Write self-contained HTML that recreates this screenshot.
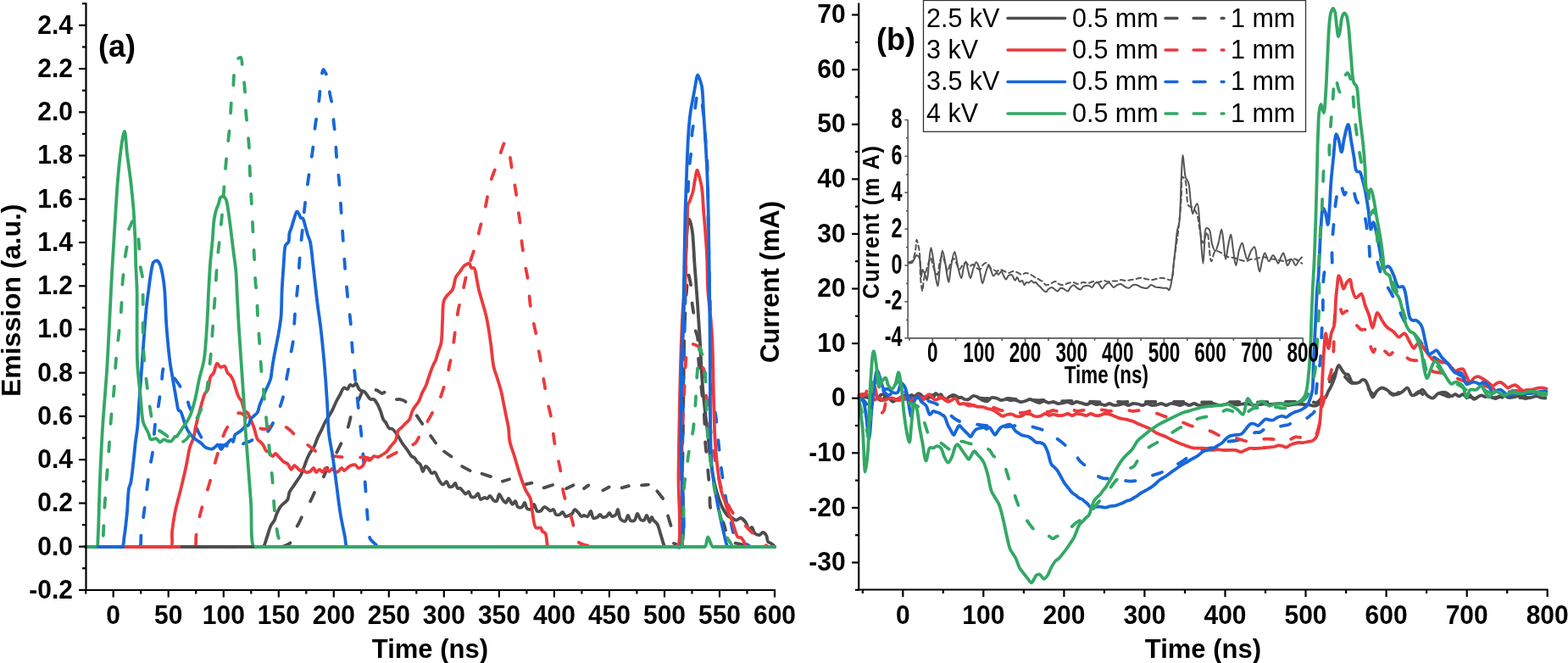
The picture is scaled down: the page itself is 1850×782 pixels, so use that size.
<!DOCTYPE html>
<html><head><meta charset="utf-8"><title>plot</title>
<style>html,body{margin:0;padding:0;background:#fff;overflow:hidden;}svg{display:block;}</style>
</head><body>
<svg width="1850" height="782" viewBox="0 0 1850 782">
<rect width="1850" height="782" fill="#fff"/>
<path d="M508.1,514.1L514.1,522.5M524.0,532.5L532.5,538.5M545.2,550.1L554.6,555.2M568.6,558.7L578.9,562.1M592.9,567.7L601.0,565.3M620.7,571.2L627.5,569.6M641.7,575.4L652.0,572.0M668.2,576.3L676.5,572.2M689.1,576.1L694.3,572.4M711.4,578.4L718.6,574.5M733.7,575.4L741.8,573.1M757.0,572.4L764.9,571.7M775.3,579.3L782.2,588.0M788.1,608.5L791.5,619.9M795.0,641.0L797.0,641.5" fill="none" stroke="#4d4d4d" stroke-width="3.8" stroke-linecap="round"/>
<path d="M101.0,644.8C101.0,644.8 104.4,644.8 106.1,644.8C107.8,644.8 109.5,644.8 111.2,644.8C112.9,644.8 114.6,644.8 116.3,644.8C118.0,644.8 119.7,644.8 121.4,644.8C123.1,644.8 124.8,644.8 126.5,644.8C128.3,644.8 130.0,644.8 131.7,644.8C133.4,644.8 135.1,644.8 136.8,644.8C138.5,644.8 140.2,644.8 141.9,644.8C143.6,644.8 145.3,644.8 147.0,644.8C148.7,644.8 150.4,644.8 152.1,644.8C153.8,644.8 155.5,644.8 157.2,644.8C158.9,644.8 160.6,644.8 162.3,644.8C164.0,644.8 165.7,644.8 167.4,644.8C169.1,644.8 170.8,644.8 172.5,644.8C174.2,644.8 175.9,644.8 177.6,644.8C179.3,644.8 181.1,644.8 182.8,644.8C184.5,644.8 186.2,644.8 187.9,644.8C189.6,644.8 191.3,644.8 193.0,644.8C194.7,644.8 196.4,644.8 198.1,644.8C199.8,644.8 201.5,644.8 203.2,644.8C204.9,644.8 206.6,644.8 208.3,644.8C210.0,644.8 211.7,644.8 213.4,644.8C215.1,644.8 216.8,644.8 218.5,644.8C220.2,644.8 221.9,644.8 223.6,644.8C225.3,644.8 227.0,644.8 228.7,644.8C230.4,644.8 232.2,644.8 233.9,644.8C235.6,644.8 237.3,644.8 239.0,644.8C240.7,644.8 242.4,644.8 244.1,644.8C245.8,644.8 247.5,644.8 249.2,644.8C250.9,644.8 252.6,644.8 254.3,644.8C256.0,644.8 257.7,644.8 259.4,644.8C261.1,644.8 262.8,644.8 264.5,644.8C266.2,644.8 267.9,644.8 269.6,644.8C271.3,644.8 273.0,644.8 274.7,644.8C276.4,644.8 278.1,644.8 279.8,644.8C281.5,644.8 283.2,644.8 285.0,644.8C286.7,644.8 288.4,644.8 290.1,644.8C291.8,644.8 293.5,644.8 295.2,644.8C296.9,644.8 298.6,644.8 300.3,644.8C302.0,644.8 303.7,644.8 305.4,644.8C307.1,644.8 309.1,645.8 310.5,644.8C312.7,643.3 313.6,637.4 315.0,633.5C316.5,629.3 317.7,623.8 319.4,620.2C320.7,617.5 322.7,615.9 323.8,613.6C324.9,611.5 325.1,609.3 326.1,607.0C327.3,604.2 328.8,600.5 330.5,598.1C331.8,596.2 333.4,595.1 334.9,593.6C336.4,592.1 338.3,591.1 339.4,589.2C340.7,586.9 340.4,583.0 341.6,580.4C342.7,577.9 344.5,575.9 346.0,573.7C347.5,571.5 348.9,569.3 350.4,567.1C351.9,564.9 353.5,563.0 354.9,560.4C356.6,557.2 358.0,552.8 359.3,549.3C360.5,546.2 361.4,543.2 362.6,540.5C363.7,538.1 364.7,536.0 366.0,533.8C367.3,531.6 369.1,529.8 370.4,527.2C372.1,524.1 373.2,519.6 374.8,516.1C376.2,512.9 377.9,510.1 379.3,507.2C380.6,504.4 381.6,501.7 383.0,499.0C384.5,496.2 386.5,493.3 388.1,490.7C389.5,488.4 390.7,486.5 392.0,484.0C393.6,480.8 395.4,476.2 397.0,473.0C398.3,470.4 399.6,468.4 401.0,466.0C402.5,463.3 403.9,458.2 405.8,457.5C407.1,457.0 408.8,459.4 410.0,459.0C411.3,458.5 411.7,454.5 413.0,454.0C414.1,453.6 415.8,455.5 416.9,455.2C418.1,454.9 419.1,451.9 420.0,452.0C421.1,452.2 421.9,456.4 423.0,458.0C423.9,459.2 424.7,460.1 425.8,460.8C427.0,461.5 428.6,461.0 430.0,462.0C432.3,463.5 434.6,469.6 436.9,470.8C438.3,471.5 439.7,470.3 441.0,471.0C442.8,471.9 444.4,475.1 445.7,477.4C447.1,479.8 447.9,482.3 449.0,485.0C450.2,488.1 451.1,492.8 452.4,495.1C453.2,496.5 454.1,496.8 455.0,498.0C456.3,499.8 457.4,503.8 459.0,505.0C460.2,505.9 461.7,505.2 463.0,506.0C464.7,507.1 466.2,509.3 467.9,511.6C470.1,514.6 472.3,519.3 474.6,522.7C476.7,525.9 479.3,528.8 481.2,531.6C482.8,533.9 484.0,536.8 485.6,538.2C486.7,539.2 488.0,539.1 489.0,540.0C490.3,541.1 491.1,543.5 492.3,544.9C493.4,546.1 495.0,546.5 496.0,548.0C497.3,549.9 497.8,555.9 498.9,556.0C499.9,556.1 500.7,550.3 502.0,550.0C503.0,549.8 504.5,551.5 505.6,552.7C507.0,554.1 507.9,557.7 509.4,558.2C510.5,558.6 512.0,556.6 513.0,557.0C514.3,557.5 515.1,560.7 516.1,562.6C517.1,564.4 517.8,566.5 519.0,568.0C520.1,569.4 521.4,571.5 522.7,571.5C524.1,571.6 525.8,567.7 527.0,568.0C528.3,568.3 528.6,573.2 530.0,574.0C531.0,574.6 532.7,574.3 533.8,573.7C535.1,573.1 536.0,569.9 537.0,570.0C538.1,570.1 538.7,575.3 540.0,576.0C540.8,576.5 541.8,575.6 542.7,575.9C543.8,576.3 544.9,577.9 546.0,579.0C547.1,580.1 548.1,582.5 549.3,582.6C550.4,582.7 552.0,579.7 553.0,580.0C554.3,580.3 554.6,585.1 556.0,586.0C557.2,586.7 559.1,586.5 560.4,585.9C561.8,585.3 563.0,581.8 564.0,582.0C565.2,582.2 565.5,588.4 567.0,589.0C568.2,589.5 570.1,587.1 571.5,587.0C572.7,586.9 573.9,588.3 575.0,588.0C576.1,587.7 576.9,585.0 578.0,585.0C579.4,585.0 581.0,589.4 582.6,590.3C583.7,591.0 585.1,591.5 586.0,591.0C587.5,590.2 587.7,583.1 589.0,583.0C590.3,582.9 592.1,588.5 593.7,590.3C594.8,591.5 596.0,593.2 597.0,593.0C598.2,592.8 598.9,588.0 600.0,588.0C601.4,588.0 603.2,594.7 604.7,594.8C605.9,594.9 607.0,590.8 608.0,591.0C609.2,591.2 609.4,596.9 611.0,598.0C612.2,598.8 614.5,598.8 615.8,598.1C617.2,597.3 618.0,592.9 619.0,593.0C620.1,593.1 620.4,598.9 622.0,600.0C623.3,600.9 625.6,601.0 626.9,600.3C628.4,599.5 628.9,595.0 630.0,595.0C631.3,595.0 632.3,602.1 634.0,603.0C635.2,603.6 636.8,603.1 638.0,602.5C639.5,601.7 640.6,598.3 642.0,598.0C643.2,597.8 644.8,599.2 646.0,600.0C647.1,600.7 648.0,602.3 649.1,602.5C650.3,602.7 651.9,600.6 653.0,601.0C654.4,601.5 654.6,606.1 656.0,607.0C657.1,607.7 658.8,607.4 660.1,607.0C661.5,606.5 662.9,603.8 664.0,604.0C665.2,604.2 665.7,608.4 667.0,609.0C668.1,609.5 669.9,608.6 671.2,608.1C672.5,607.6 673.9,607.0 675.0,606.0C676.3,604.8 676.8,601.2 678.0,601.0C679.2,600.8 681.0,603.4 682.3,604.7C683.6,606.0 684.7,608.6 686.0,609.0C687.0,609.3 687.9,608.0 689.0,608.0C690.3,608.0 692.2,609.7 693.4,609.2C695.0,608.6 695.9,602.9 697.0,603.0C698.2,603.1 698.4,610.1 700.0,611.0C701.2,611.7 703.2,610.9 704.5,610.3C705.9,609.6 706.9,607.0 708.0,607.0C709.0,607.0 709.8,609.6 711.0,610.0C712.3,610.4 714.2,610.0 715.5,609.2C716.9,608.4 717.9,605.0 719.0,605.0C720.1,605.0 720.7,608.7 722.0,609.0C723.3,609.3 725.5,608.2 726.6,607.0C727.9,605.7 728.2,601.0 729.0,601.0C730.0,601.1 730.1,609.7 732.0,612.0C733.4,613.7 736.2,615.2 737.7,614.7C739.3,614.1 739.9,608.0 741.0,608.0C742.0,608.0 742.5,613.2 744.0,614.0C745.3,614.7 747.5,614.5 748.8,613.6C750.4,612.4 750.8,606.1 752.0,606.0C753.2,605.9 754.4,611.9 756.0,613.0C757.1,613.8 758.8,614.1 759.9,613.6C761.3,612.9 762.0,608.0 763.0,608.0C764.2,608.0 765.4,615.8 766.5,615.8C767.4,615.8 768.2,610.0 769.0,610.0C769.7,610.0 770.1,612.4 771.0,613.6C772.1,615.1 774.1,615.9 775.4,618.0C777.3,621.1 778.4,627.1 779.8,631.3C781.0,635.2 782.3,640.1 783.2,642.4C783.6,643.5 783.5,644.3 784.3,644.8C785.5,645.5 788.5,644.8 790.5,644.8C792.6,644.8 794.7,644.8 796.8,644.8C798.8,644.8 801.3,646.5 803.0,644.8C810.6,637.2 803.3,558.1 803.6,519.7C803.8,487.0 803.8,454.3 804.4,428.7C804.8,409.9 805.7,396.3 806.3,380.0C806.9,363.4 807.2,345.7 807.8,330.0C808.3,315.9 808.9,301.4 809.5,290.0C810.0,281.6 810.2,273.8 811.0,268.0C811.5,264.1 812.2,258.4 813.0,258.4C814.0,258.4 815.6,265.3 816.5,270.7C818.2,280.3 818.5,298.0 819.5,311.6C820.5,325.2 821.6,338.4 822.6,352.5C823.7,367.6 824.7,383.5 825.7,399.5C826.7,416.2 827.3,434.3 828.6,450.8C829.8,466.1 831.7,483.9 833.0,495.1C833.8,502.0 834.5,505.5 835.2,511.8C836.1,520.0 836.7,530.5 838.0,540.0C839.3,549.9 841.0,561.2 843.0,570.0C844.6,577.2 846.6,583.8 848.5,589.2C850.0,593.4 851.1,596.6 853.0,600.0C854.8,603.3 857.4,607.4 859.6,609.2C861.1,610.3 862.5,610.3 864.0,611.0C865.5,611.7 866.9,613.5 868.5,613.6C870.2,613.7 872.2,610.8 874.0,611.0C875.9,611.3 878.0,613.8 879.6,615.8C881.4,618.2 882.5,624.4 884.0,624.7C885.0,624.9 886.1,621.8 887.0,622.0C888.3,622.2 888.9,627.6 890.6,629.1C892.0,630.4 894.4,631.2 896.0,631.0C897.5,630.8 898.7,628.0 900.0,628.0C901.3,628.0 903.0,629.8 904.0,631.3C905.3,633.2 904.9,637.5 906.2,639.1C907.2,640.3 908.9,640.2 910.0,641.0C911.1,641.7 912.1,642.8 912.8,643.5C913.3,644.0 914.0,644.8 914.0,644.8" fill="none" stroke="#4d4d4d" stroke-width="3.8" stroke-linejoin="round" stroke-linecap="round"/>
<path d="M101.0,644.8C101.0,644.8 104.4,644.8 106.0,644.8C107.7,644.8 109.4,644.8 111.1,644.8C112.8,644.8 114.4,644.8 116.1,644.8C117.8,644.8 119.5,644.8 121.2,644.8C122.9,644.8 124.5,644.8 126.2,644.8C127.9,644.8 129.6,644.8 131.3,644.8C132.9,644.8 134.6,644.8 136.3,644.8C138.0,644.8 139.7,644.8 141.3,644.8C143.0,644.8 144.7,644.8 146.4,644.8C148.1,644.8 149.8,644.8 151.4,644.8C153.1,644.8 154.8,644.8 156.5,644.8C158.2,644.8 159.8,644.8 161.5,644.8C163.2,644.8 164.9,644.8 166.6,644.8C168.2,644.8 169.9,644.8 171.6,644.8C173.3,644.8 175.0,644.8 176.7,644.8C178.3,644.8 180.0,644.8 181.7,644.8C183.4,644.8 185.1,644.8 186.7,644.8C188.4,644.8 190.1,644.8 191.8,644.8C193.5,644.8 195.1,644.8 196.8,644.8C198.5,644.8 200.2,644.8 201.9,644.8C203.6,644.8 205.2,644.8 206.9,644.8C208.6,644.8 210.3,644.8 212.0,644.8C213.6,644.8 215.3,644.8 217.0,644.8C218.7,644.8 220.4,644.8 222.0,644.8C223.7,644.8 225.4,644.8 227.1,644.8C228.8,644.8 230.4,644.8 232.1,644.8C233.8,644.8 235.5,644.8 237.2,644.8C238.9,644.8 240.5,644.8 242.2,644.8C243.9,644.8 245.6,644.8 247.3,644.8C248.9,644.8 250.6,644.8 252.3,644.8C254.0,644.8 255.7,644.8 257.3,644.8C259.0,644.8 260.7,644.8 262.4,644.8C264.1,644.8 265.8,644.8 267.4,644.8C269.1,644.8 270.8,644.8 272.5,644.8C274.2,644.8 275.8,644.8 277.5,644.8C279.2,644.8 280.9,644.8 282.6,644.8C284.2,644.8 285.9,644.8 287.6,644.8C289.3,644.8 291.0,644.8 292.7,644.8C294.3,644.8 296.0,644.8 297.7,644.8C299.4,644.8 301.1,644.8 302.7,644.8C304.4,644.8 306.1,644.8 307.8,644.8C309.5,644.8 311.1,644.8 312.8,644.8C314.5,644.8 316.2,644.8 317.9,644.8C319.6,644.8 321.2,644.8 322.9,644.8C324.6,644.8 326.3,644.8 328.0,644.8C329.6,644.8 331.3,645.1 333.0,644.8C334.7,644.5 336.4,643.8 338.0,643.0C339.6,642.2 341.4,641.7 342.7,640.0C344.8,637.3 345.3,630.9 347.1,626.9C348.7,623.3 351.0,620.2 352.7,616.9C354.3,613.9 355.5,610.8 357.0,608.0C358.4,605.3 359.9,603.2 361.5,600.3C363.6,596.5 366.3,590.9 368.2,587.0C369.7,584.0 370.5,581.6 372.0,579.0C373.5,576.4 375.3,574.4 377.0,571.5C379.2,567.8 381.9,562.1 383.7,558.2C385.1,555.2 385.9,552.6 387.0,550.0C388.1,547.5 388.9,545.0 390.3,542.7C391.8,540.3 394.3,538.4 395.9,536.0C397.5,533.5 398.7,530.6 400.0,528.0C401.3,525.5 402.5,523.1 403.6,520.5C404.8,517.8 405.8,514.7 407.0,512.0C408.1,509.5 409.2,507.9 410.3,505.0C411.9,500.7 413.2,493.1 414.7,488.5C415.8,485.2 416.7,482.6 418.0,480.0C419.3,477.5 421.1,475.6 422.5,473.0C424.1,470.0 425.3,466.1 427.0,463.0C428.6,460.2 430.4,456.0 432.4,455.2C433.8,454.6 435.5,455.4 437.0,456.0C438.6,456.6 440.0,458.2 441.5,459.0C443.0,459.8 444.5,460.2 446.0,461.0C447.6,461.8 449.1,463.9 450.6,464.0C452.1,464.1 453.4,462.6 455.0,462.0C456.7,461.3 458.9,459.4 460.6,460.0C463.0,460.9 464.0,469.3 466.4,470.8C468.0,471.8 470.1,470.6 472.0,471.0C474.0,471.4 476.3,471.8 478.0,473.3C480.2,475.3 481.1,481.0 483.0,483.2C484.2,484.6 485.7,485.0 487.0,486.0C488.4,487.1 489.9,488.2 491.3,489.8C493.2,492.0 495.2,495.6 497.1,498.2C498.8,500.6 500.3,502.7 502.0,505.0C503.8,507.3 507.8,512.0 507.8,512.0" fill="none" stroke="#4d4d4d" stroke-width="3.8" stroke-linejoin="round" stroke-linecap="round" stroke-dasharray="11.5 21.5"/>
<path d="M804.0,644.8C804.0,644.8 805.4,545.0 806.0,500.0C806.5,460.8 806.9,410.7 807.5,390.0C807.7,381.8 808.0,378.9 808.3,372.9C808.6,366.4 808.9,358.4 809.3,352.5C809.6,347.9 810.0,344.8 810.3,340.2C810.7,334.3 810.5,320.1 811.2,320.0C811.5,320.0 812.0,322.1 812.4,323.8C813.2,327.0 814.7,333.0 815.4,338.1C816.2,343.8 815.9,350.8 816.5,356.5C817.0,361.6 817.9,365.8 818.5,370.9C819.2,376.7 819.6,384.3 820.6,389.3C821.3,392.8 822.4,394.3 823.0,398.0C824.0,404.3 823.6,416.8 824.1,424.0C824.5,429.1 825.0,432.2 825.5,437.0C826.1,443.0 826.9,450.9 827.5,457.0C828.0,462.1 828.5,466.1 829.0,471.0C829.6,476.4 830.4,482.4 830.8,488.0C831.2,493.4 831.3,498.7 831.5,504.0C831.7,509.3 831.7,514.7 832.0,520.0C832.3,525.3 833.0,530.5 833.5,536.0C834.0,541.8 834.7,548.1 835.2,553.8C835.7,559.1 836.1,563.8 836.5,569.0C836.9,574.5 837.0,580.5 837.4,585.9C837.7,590.8 837.0,596.0 838.5,600.0C839.8,603.5 842.5,606.3 845.0,609.0C847.4,611.6 851.2,613.1 853.0,615.8C854.8,618.4 854.9,621.7 856.0,625.0C857.3,629.0 857.3,635.4 860.0,638.0C862.3,640.3 866.6,640.2 870.0,641.0C873.3,641.8 877.2,642.6 880.0,643.0C881.9,643.3 883.3,643.3 885.0,643.5C886.7,643.6 888.3,643.8 890.0,643.9C891.7,644.1 893.3,644.2 895.0,644.3C896.7,644.5 898.2,644.7 900.0,644.8C902.1,644.9 904.7,644.8 907.0,644.8C909.3,644.8 914.0,644.8 914.0,644.8" fill="none" stroke="#4d4d4d" stroke-width="3.8" stroke-linejoin="round" stroke-linecap="round" stroke-dasharray="11.5 21.5"/>
<path d="M101.0,644.8C101.0,644.8 104.6,644.8 106.3,644.8C108.1,644.8 109.9,644.8 111.7,644.8C113.4,644.8 115.2,644.8 117.0,644.8C118.8,644.8 120.6,644.8 122.3,644.8C124.1,644.8 125.9,644.8 127.7,644.8C129.4,644.8 131.2,644.8 133.0,644.8C134.8,644.8 136.6,644.8 138.3,644.8C140.1,644.8 141.9,644.8 143.7,644.8C145.4,644.8 147.2,644.8 149.0,644.8C150.8,644.8 152.6,644.8 154.3,644.8C156.1,644.8 157.9,644.8 159.7,644.8C161.4,644.8 163.8,645.9 165.0,644.8C167.0,643.0 165.8,635.8 166.5,630.0C167.5,621.7 169.2,610.0 170.5,600.0C171.8,590.0 173.0,579.0 174.2,570.0C175.2,562.7 176.0,556.2 177.0,550.0C177.9,544.6 178.9,541.1 179.8,535.0C181.1,525.8 181.8,509.7 183.1,500.0C184.1,493.0 185.4,487.8 186.4,482.0C187.3,476.5 188.0,471.4 188.7,466.0C189.5,460.3 190.1,454.1 190.9,448.6C191.6,443.6 191.4,436.3 193.1,434.2C193.9,433.2 195.0,432.8 196.0,433.0C197.5,433.3 199.4,435.7 200.8,437.5C202.4,439.6 203.4,442.5 205.0,445.0C206.7,447.7 209.2,450.6 210.8,453.0C212.1,454.8 212.7,456.5 214.0,458.0C215.3,459.5 217.3,459.9 218.6,461.9C220.8,465.3 221.2,473.5 223.0,478.5C224.6,483.0 227.0,486.4 228.5,490.7C230.1,495.2 230.6,501.2 232.0,505.0C233.0,507.7 234.0,509.6 235.2,511.8C236.5,514.0 237.8,516.7 239.6,518.3C241.2,519.7 243.1,520.1 245.0,521.0C247.2,522.0 249.5,523.3 252.0,524.0C254.5,524.7 257.3,524.7 260.0,525.0C262.8,525.3 265.8,525.2 268.4,526.0C270.8,526.7 273.0,529.4 275.1,529.4C276.9,529.4 278.5,527.8 280.0,527.0C281.4,526.3 282.5,525.7 284.0,525.0C285.8,524.1 288.1,522.8 290.0,522.0C291.7,521.3 293.3,521.3 295.0,520.5C297.1,519.5 299.7,517.3 301.7,516.1C303.3,515.2 304.5,514.6 306.0,514.0C307.5,513.5 309.0,513.4 310.5,512.8C312.1,512.1 313.6,511.3 315.0,510.0C316.8,508.3 318.5,505.5 320.0,503.0C321.5,500.5 322.5,497.7 323.8,495.0C325.2,492.1 326.7,489.2 328.0,486.0C329.4,482.5 330.8,478.6 332.0,475.0C333.1,471.6 334.0,468.7 334.9,465.0C335.9,460.5 336.6,455.1 337.5,450.0C338.4,444.7 339.6,439.3 340.5,434.0C341.4,428.7 342.1,423.4 343.0,418.0C343.9,412.4 345.3,406.6 346.0,401.0C346.6,395.6 346.6,390.4 347.0,385.0C347.4,379.4 347.7,373.7 348.2,368.0C348.7,362.1 349.4,355.8 350.0,350.0C350.5,344.5 351.1,340.3 351.6,334.0C352.3,325.2 352.9,312.8 353.8,302.0C354.7,290.8 356.0,279.2 357.1,268.0C358.2,257.2 359.1,246.7 360.4,236.0C361.7,225.3 363.3,214.5 364.8,204.0C366.3,193.8 368.1,183.8 369.3,174.0C370.5,164.6 371.1,154.2 372.2,146.3C373.0,140.4 374.0,136.2 374.8,130.8C375.6,125.1 376.4,118.5 377.0,113.0C377.5,108.2 377.5,104.4 378.1,99.7C378.9,94.2 380.0,82.3 381.5,82.0C382.2,81.9 383.2,84.5 384.0,86.0C385.0,87.8 386.2,89.4 387.0,92.0C388.3,96.4 388.2,104.9 389.2,110.8C390.1,116.2 391.8,120.9 392.5,126.3C393.3,132.0 393.2,138.4 393.7,144.0C394.2,149.1 394.9,153.0 395.4,158.5C396.1,165.8 396.3,175.0 397.0,184.0C397.8,194.1 399.4,205.2 400.3,216.0C401.2,226.9 401.8,238.0 402.5,249.0C403.2,260.0 404.0,271.0 404.7,282.0C405.5,293.0 406.2,304.7 407.0,315.0C407.7,324.1 408.4,332.5 409.2,340.7C409.9,348.1 410.7,355.2 411.5,362.0C412.2,368.3 413.0,373.1 413.6,380.0C414.5,389.3 414.9,402.0 415.8,413.0C416.7,424.0 418.0,435.1 419.1,446.0C420.2,456.8 421.4,467.5 422.5,478.0C423.6,488.2 424.9,499.4 425.8,508.0C426.5,514.5 427.0,519.1 427.5,525.0C428.1,531.4 428.5,537.6 429.1,545.0C429.8,554.4 430.6,566.3 431.3,577.0C432.1,587.9 432.8,600.4 433.6,610.0C434.2,617.5 434.7,625.4 435.5,630.0C435.9,632.5 435.9,633.9 436.9,635.8C438.2,638.1 441.6,640.8 443.5,642.4C444.8,643.5 445.7,644.4 447.0,644.8C448.5,645.3 450.4,644.8 452.0,644.8C453.7,644.8 455.4,644.8 457.1,644.8C458.7,644.8 460.4,644.8 462.1,644.8C463.8,644.8 465.4,644.8 467.1,644.8C468.8,644.8 470.5,644.8 472.1,644.8C473.8,644.8 475.5,644.8 477.2,644.8C478.8,644.8 480.5,644.8 482.2,644.8C483.9,644.8 485.5,644.8 487.2,644.8C488.9,644.8 490.6,644.8 492.3,644.8C493.9,644.8 495.6,644.8 497.3,644.8C499.0,644.8 500.6,644.8 502.3,644.8C504.0,644.8 505.7,644.8 507.3,644.8C509.0,644.8 510.7,644.8 512.4,644.8C514.0,644.8 515.7,644.8 517.4,644.8C519.1,644.8 520.7,644.8 522.4,644.8C524.1,644.8 525.8,644.8 527.5,644.8C529.1,644.8 530.8,644.8 532.5,644.8C534.2,644.8 535.8,644.8 537.5,644.8C539.2,644.8 540.9,644.8 542.5,644.8C544.2,644.8 545.9,644.8 547.6,644.8C549.2,644.8 550.9,644.8 552.6,644.8C554.3,644.8 555.9,644.8 557.6,644.8C559.3,644.8 561.0,644.8 562.6,644.8C564.3,644.8 566.0,644.8 567.7,644.8C569.4,644.8 571.0,644.8 572.7,644.8C574.4,644.8 576.1,644.8 577.7,644.8C579.4,644.8 581.1,644.8 582.8,644.8C584.4,644.8 586.1,644.8 587.8,644.8C589.5,644.8 591.1,644.8 592.8,644.8C594.5,644.8 596.2,644.8 597.8,644.8C599.5,644.8 601.2,644.8 602.9,644.8C604.5,644.8 606.2,644.8 607.9,644.8C609.6,644.8 611.3,644.8 612.9,644.8C614.6,644.8 616.3,644.8 618.0,644.8C619.6,644.8 621.3,644.8 623.0,644.8C624.7,644.8 626.3,644.8 628.0,644.8C629.7,644.8 631.4,644.8 633.0,644.8C634.7,644.8 636.4,644.8 638.1,644.8C639.7,644.8 641.4,644.8 643.1,644.8C644.8,644.8 646.5,644.8 648.1,644.8C649.8,644.8 651.5,644.8 653.2,644.8C654.8,644.8 656.5,644.8 658.2,644.8C659.9,644.8 661.5,644.8 663.2,644.8C664.9,644.8 666.6,644.8 668.2,644.8C669.9,644.8 671.6,644.8 673.3,644.8C674.9,644.8 676.6,644.8 678.3,644.8C680.0,644.8 681.6,644.8 683.3,644.8C685.0,644.8 686.7,644.8 688.4,644.8C690.0,644.8 691.7,644.8 693.4,644.8C695.1,644.8 696.7,644.8 698.4,644.8C700.1,644.8 701.8,644.8 703.4,644.8C705.1,644.8 706.8,644.8 708.5,644.8C710.1,644.8 711.8,644.8 713.5,644.8C715.2,644.8 716.8,644.8 718.5,644.8C720.2,644.8 721.9,644.8 723.5,644.8C725.2,644.8 726.9,644.8 728.6,644.8C730.3,644.8 731.9,644.8 733.6,644.8C735.3,644.8 737.0,644.8 738.6,644.8C740.3,644.8 742.0,644.8 743.7,644.8C745.3,644.8 747.0,644.8 748.7,644.8C750.4,644.8 752.0,644.8 753.7,644.8C755.4,644.8 757.1,644.8 758.7,644.8C760.4,644.8 762.1,644.8 763.8,644.8C765.5,644.8 767.1,644.8 768.8,644.8C770.5,644.8 772.2,644.8 773.8,644.8C775.5,644.8 777.2,644.8 778.9,644.8C780.5,644.8 782.2,644.8 783.9,644.8C785.6,644.8 787.2,644.8 788.9,644.8C790.6,644.8 792.3,644.8 793.9,644.8C795.6,644.8 797.3,644.8 799.0,644.8C800.6,644.8 802.6,646.1 804.0,644.8C809.6,639.3 804.7,588.7 805.0,560.0C805.3,530.4 805.5,498.1 806.0,470.0C806.4,445.2 807.0,423.3 807.5,400.0C808.0,376.7 808.5,353.3 809.0,330.0C809.5,306.7 809.9,280.1 810.5,260.0C810.9,244.8 811.4,232.3 812.0,220.0C812.5,209.6 813.1,198.7 813.9,191.0C814.4,185.8 815.3,182.8 815.7,178.0C816.2,172.1 816.0,163.9 816.5,158.0C816.9,153.2 817.7,149.7 818.3,145.0C819.0,139.3 819.6,131.8 820.4,126.0C821.1,121.1 821.5,115.3 822.6,112.6C823.1,111.3 823.9,109.9 824.5,110.0C825.3,110.1 826.3,112.7 827.0,115.0C828.4,119.4 829.2,127.9 830.0,135.0C830.9,142.9 831.3,151.7 832.0,160.0C832.7,168.3 833.6,176.0 834.1,185.0C834.7,195.7 835.0,208.3 835.2,220.0C835.4,231.7 835.3,241.1 835.5,255.0C835.8,275.3 836.4,305.4 837.0,330.0C837.6,353.7 838.3,377.6 839.0,400.0C839.6,420.8 840.4,446.1 841.0,460.0C841.3,467.4 841.3,471.6 842.0,477.0C842.6,481.9 843.9,486.0 844.6,491.0C845.4,496.8 845.8,503.6 846.4,510.0C847.1,516.6 847.8,523.3 848.5,530.0C849.2,536.7 849.8,542.6 850.7,550.0C851.9,559.2 853.8,571.9 855.2,581.0C856.3,588.1 857.3,594.3 858.5,600.0C859.5,604.8 860.6,608.4 861.8,613.0C863.1,618.3 863.7,625.6 866.0,630.0C867.8,633.4 870.2,635.9 872.9,638.0C875.5,640.0 879.4,641.1 881.8,642.4C883.5,643.3 884.4,644.4 886.0,644.8C887.7,645.2 889.7,644.8 891.6,644.8C893.5,644.8 895.3,644.8 897.2,644.8C899.1,644.8 900.9,644.8 902.8,644.8C904.7,644.8 906.5,644.8 908.4,644.8C910.3,644.8 914.0,644.8 914.0,644.8" fill="none" stroke="#1767d9" stroke-width="3.8" stroke-linejoin="round" stroke-linecap="round" stroke-dasharray="11.5 21.5"/>
<path d="M101.0,644.8C101.0,644.8 104.4,644.8 106.2,644.8C107.9,644.8 109.6,644.8 111.3,644.8C113.0,644.8 114.8,644.8 116.5,644.8C118.2,644.8 119.9,644.8 121.6,644.8C123.4,644.8 125.1,644.8 126.8,644.8C128.5,644.8 130.2,644.8 132.0,644.8C133.7,644.8 135.4,644.8 137.1,644.8C138.8,644.8 140.6,644.8 142.3,644.8C144.0,644.8 145.7,644.8 147.4,644.8C149.2,644.8 150.9,644.8 152.6,644.8C154.3,644.8 156.0,644.8 157.8,644.8C159.5,644.8 161.2,644.8 162.9,644.8C164.6,644.8 166.4,644.8 168.1,644.8C169.8,644.8 171.5,644.8 173.2,644.8C175.0,644.8 176.7,644.8 178.4,644.8C180.1,644.8 181.8,644.8 183.6,644.8C185.3,644.8 187.0,644.8 188.7,644.8C190.4,644.8 192.2,644.8 193.9,644.8C195.6,644.8 197.3,644.8 199.0,644.8C200.8,644.8 202.5,644.8 204.2,644.8C205.9,644.8 207.6,644.8 209.4,644.8C211.1,644.8 212.8,644.8 214.5,644.8C216.2,644.8 218.0,644.8 219.7,644.8C221.4,644.8 223.1,644.8 224.8,644.8C226.6,644.8 228.8,645.9 230.0,644.8C231.9,643.1 230.7,636.3 231.5,631.0C232.6,623.9 234.5,613.4 236.3,606.0C237.7,600.0 239.4,595.4 241.0,590.0C242.7,584.4 244.7,578.3 246.3,573.0C247.7,568.4 248.7,564.7 250.0,560.0C251.6,554.3 253.4,547.0 255.1,541.0C256.7,535.4 258.3,530.2 260.0,525.0C261.6,519.9 263.1,514.4 265.1,510.0C266.8,506.2 268.9,502.9 270.7,500.0C272.2,497.7 273.4,496.0 275.0,494.0C276.7,491.8 278.5,488.2 280.6,487.4C282.3,486.7 284.3,487.1 286.0,488.0C288.2,489.2 290.1,492.9 292.0,495.0C293.7,496.8 295.1,498.5 297.0,500.0C299.0,501.6 301.4,503.0 303.9,504.0C306.6,505.1 310.1,506.6 312.8,506.2C315.4,505.8 317.4,503.1 320.0,502.0C322.6,500.9 325.8,499.5 328.3,499.6C330.4,499.7 332.2,501.1 334.0,502.0C335.9,502.9 337.6,503.8 339.4,505.1C341.3,506.5 343.2,508.2 345.0,510.0C346.9,511.9 348.2,514.2 350.4,516.1C353.1,518.4 357.5,520.6 360.4,522.7C362.9,524.5 364.7,526.2 367.0,528.0C369.5,529.9 371.8,532.2 374.8,533.8C378.1,535.6 382.3,537.5 385.9,538.2C389.0,538.8 392.1,538.1 394.8,538.2C397.2,538.3 399.2,538.6 401.5,538.8C403.7,539.0 405.7,539.3 408.1,539.4C410.8,539.5 414.3,539.4 417.0,539.4C419.4,539.4 421.4,539.4 423.6,539.4C425.8,539.4 427.7,539.2 430.2,539.4C433.4,539.7 438.1,541.4 441.3,541.6C443.8,541.7 445.7,541.2 448.0,541.0C450.2,540.9 452.3,541.2 454.6,540.5C457.4,539.7 460.4,537.6 463.5,536.0C467.0,534.3 471.4,532.1 474.6,530.5C477.1,529.3 478.8,528.4 481.2,527.2C483.9,525.8 487.9,524.7 490.1,522.7C492.0,520.9 492.6,518.2 494.0,516.0C495.5,513.7 497.6,511.5 498.9,509.0C500.2,506.5 500.8,503.4 502.0,501.0C503.1,498.8 504.4,497.2 505.6,495.1C507.0,492.6 508.6,489.6 510.0,487.0C511.4,484.6 512.7,482.4 514.0,480.0C515.4,477.4 517.0,474.9 518.3,472.0C519.7,468.9 520.9,465.4 522.0,462.0C523.1,458.7 524.0,454.9 525.0,452.0C525.8,449.7 526.5,448.4 527.2,446.0C528.2,442.3 529.0,436.9 530.0,432.0C531.1,426.6 532.8,420.7 533.8,415.0C534.8,409.4 535.3,403.6 536.0,398.0C536.7,392.6 537.4,387.5 538.2,382.0C539.1,376.2 539.8,369.7 541.0,364.0C542.1,358.7 543.6,354.3 544.9,349.0C546.3,343.1 547.6,336.1 549.0,330.0C550.3,324.4 551.6,318.9 553.0,314.0C554.3,309.7 555.6,306.3 557.0,302.0C558.7,296.8 561.1,290.5 562.6,285.0C564.0,279.9 564.7,275.1 566.0,270.0C567.3,264.7 569.1,259.3 570.4,254.0C571.7,248.7 572.9,243.4 574.0,238.0C575.1,232.4 575.7,226.5 577.0,221.0C578.3,215.5 580.1,210.2 582.0,205.0C583.8,199.9 586.5,194.8 588.1,190.0C589.5,185.8 590.0,181.8 591.4,178.0C592.7,174.5 594.3,168.2 595.9,168.0C597.0,167.9 598.2,169.9 599.2,172.0C601.3,176.6 602.3,190.0 603.6,197.0C604.5,202.0 605.2,205.2 606.0,210.0C607.0,215.9 608.3,223.8 609.2,230.0C609.9,235.4 610.3,239.8 611.0,245.0C611.8,250.7 612.9,257.1 613.6,263.0C614.3,268.7 614.4,274.5 615.0,280.0C615.5,285.2 616.2,290.0 616.9,295.0C617.6,300.0 618.1,304.8 619.0,310.0C620.0,315.7 621.5,321.1 622.5,328.0C623.9,337.3 624.5,351.8 625.8,361.0C626.8,367.6 627.9,372.4 629.0,378.0C630.1,383.4 631.4,388.7 632.4,394.0C633.4,399.3 634.1,404.7 635.0,410.0C635.9,415.3 637.0,420.4 638.0,426.0C639.0,432.1 640.0,439.0 641.0,445.0C641.9,450.3 642.6,454.8 643.5,460.0C644.5,465.7 645.8,472.4 647.0,478.0C648.1,483.0 649.4,487.4 650.2,492.0C651.0,496.4 651.3,500.3 652.0,505.0C652.8,510.7 653.5,518.0 654.6,524.0C655.6,529.6 656.9,534.8 658.0,540.0C659.1,545.1 660.5,550.0 661.3,555.0C662.1,560.0 662.3,565.0 663.0,570.0C663.7,575.0 664.5,580.2 665.7,585.0C666.9,589.5 668.5,593.3 670.0,598.0C671.8,603.5 674.3,610.6 675.7,616.0C676.8,620.4 676.8,624.1 678.0,628.0C679.3,632.1 680.6,637.6 683.4,640.2C685.9,642.5 690.9,642.6 693.4,643.5C694.9,644.0 695.7,644.6 697.0,644.8C698.5,645.1 700.4,644.8 702.1,644.8C703.9,644.8 705.6,644.8 707.3,644.8C709.0,644.8 710.7,644.8 712.5,644.8C714.2,644.8 715.9,644.8 717.6,644.8C719.3,644.8 721.0,644.8 722.8,644.8C724.5,644.8 726.2,644.8 727.9,644.8C729.6,644.8 731.3,644.8 733.0,644.8C734.8,644.8 736.5,644.8 738.2,644.8C739.9,644.8 741.6,644.8 743.4,644.8C745.1,644.8 746.8,644.8 748.5,644.8C750.2,644.8 751.9,644.8 753.6,644.8C755.4,644.8 757.1,644.8 758.8,644.8C760.5,644.8 762.2,644.8 764.0,644.8C765.7,644.8 767.4,644.8 769.1,644.8C770.8,644.8 772.5,644.8 774.2,644.8C776.0,644.8 777.7,644.8 779.4,644.8C781.1,644.8 782.8,644.8 784.5,644.8C786.3,644.8 788.0,644.8 789.7,644.8C791.4,644.8 793.1,644.8 794.9,644.8C796.6,644.8 798.7,646.1 800.0,644.8C804.0,641.0 801.3,616.6 802.0,600.0C802.8,579.3 803.8,549.8 804.5,530.0C805.0,515.4 805.5,504.3 806.0,492.0C806.5,480.4 807.0,468.5 807.5,458.0C807.9,449.0 808.3,440.0 808.7,433.0C809.0,428.0 809.1,424.0 809.7,420.0C810.2,416.4 811.1,412.7 812.0,410.0C812.7,408.0 813.1,405.6 814.2,405.0C815.2,404.5 816.6,405.5 818.0,406.0C820.0,406.8 823.3,407.3 824.9,409.6C827.4,413.2 826.3,423.1 827.6,428.4C828.6,432.5 830.4,434.9 831.2,439.1C832.3,445.0 831.4,454.2 832.1,460.6C832.7,465.9 834.2,470.1 834.8,475.0C835.5,479.9 835.5,485.0 836.0,490.0C836.5,495.0 837.2,499.6 838.0,505.0C838.9,511.2 839.9,518.0 841.0,525.0C842.2,532.9 843.4,542.0 845.0,550.0C846.5,557.6 848.2,565.3 850.0,572.0C851.6,577.8 853.1,583.5 855.0,588.0C856.5,591.5 858.4,594.2 860.0,597.0C861.4,599.5 862.5,601.7 864.0,604.0C865.6,606.5 867.3,608.9 869.6,611.4C872.3,614.3 876.8,617.5 879.6,620.2C881.7,622.3 883.2,624.1 885.0,626.0C886.8,627.8 888.4,629.3 890.6,631.3C893.4,633.9 897.8,637.7 900.6,640.2C902.7,642.0 903.9,644.0 906.0,644.8C908.3,645.6 914.0,644.8 914.0,644.8" fill="none" stroke="#eb3a3d" stroke-width="3.8" stroke-linejoin="round" stroke-linecap="round" stroke-dasharray="11.5 21.5"/>
<path d="M101.0,644.8C101.0,644.8 104.4,644.8 106.0,644.8C107.7,644.8 109.4,644.8 111.1,644.8C112.8,644.8 114.5,644.8 116.2,644.8C117.8,644.8 119.5,644.8 121.2,644.8C122.9,644.8 124.6,644.8 126.2,644.8C127.9,644.8 129.6,644.8 131.3,644.8C133.0,644.8 134.7,644.8 136.3,644.8C138.0,644.8 139.7,644.8 141.4,644.8C143.1,644.8 144.8,644.8 146.4,644.8C148.1,644.8 149.8,644.8 151.5,644.8C153.2,644.8 154.9,644.8 156.6,644.8C158.2,644.8 159.9,644.8 161.6,644.8C163.3,644.8 165.0,644.8 166.7,644.8C168.3,644.8 170.0,644.8 171.7,644.8C173.4,644.8 175.1,644.8 176.8,644.8C178.4,644.8 180.1,644.8 181.8,644.8C183.5,644.8 185.2,644.8 186.8,644.8C188.5,644.8 190.2,644.8 191.9,644.8C193.6,644.8 195.3,644.8 196.9,644.8C198.6,644.8 200.8,645.9 202.0,644.8C204.2,642.7 202.4,633.2 203.1,626.9C203.8,619.9 204.9,612.4 206.4,604.7C208.1,596.2 210.8,587.2 213.0,578.1C215.3,568.7 217.8,558.3 219.7,549.3C221.4,541.5 222.3,533.2 224.1,527.2C225.4,522.8 227.4,519.9 228.5,516.1C229.6,512.2 229.8,508.4 230.8,504.0C232.0,498.6 233.5,492.5 235.2,486.3C237.1,479.3 239.6,468.4 241.8,464.1C242.9,462.0 244.1,462.0 245.0,460.0C246.6,456.6 246.8,447.7 248.5,444.2C249.5,442.2 250.9,441.9 252.0,440.0C253.6,437.2 254.5,429.0 256.2,428.7C257.3,428.5 258.5,432.5 260.0,433.0C261.5,433.5 263.8,431.3 265.1,432.0C266.8,432.9 267.0,437.8 268.4,439.7C269.4,441.2 270.9,441.7 272.0,443.0C273.2,444.5 274.2,446.4 275.1,448.6C276.2,451.3 276.9,454.8 278.0,458.0C279.1,461.4 280.3,465.8 281.7,468.5C282.7,470.4 284.0,471.1 285.0,473.0C286.4,475.8 286.8,481.7 288.4,484.1C289.4,485.6 291.0,485.7 292.0,487.0C293.2,488.5 294.0,490.6 295.0,492.9C296.4,496.0 298.1,500.0 299.5,504.0C301.1,508.4 302.1,515.5 303.9,518.3C304.8,519.7 306.0,520.0 307.0,521.0C308.2,522.1 309.4,523.3 310.5,524.9C311.8,526.8 312.5,530.3 313.9,531.6C314.8,532.5 316.0,532.2 317.0,533.0C318.5,534.1 320.1,538.1 321.6,538.2C322.8,538.3 323.9,535.0 325.0,535.0C326.1,535.0 327.3,537.2 328.3,538.2C329.3,539.2 330.0,540.0 331.0,541.0C332.2,542.2 333.5,543.9 334.9,544.9C336.3,545.9 338.1,545.9 339.4,547.1C341.1,548.6 342.4,553.8 343.8,553.8C344.9,553.8 345.8,549.2 347.0,549.0C348.0,548.8 349.3,550.6 350.4,551.5C351.6,552.5 352.8,554.7 354.0,555.0C355.0,555.2 356.1,553.6 357.1,553.8C358.4,554.0 359.5,556.6 361.0,557.0C362.5,557.4 364.5,556.8 366.0,556.0C367.5,555.2 368.8,551.9 370.0,552.0C371.2,552.1 371.8,556.8 373.0,557.0C374.1,557.2 375.7,553.8 377.0,553.8C378.3,553.8 379.9,557.2 381.0,557.0C382.2,556.8 382.8,552.2 384.0,552.0C385.2,551.8 386.7,555.9 388.1,556.0C389.4,556.1 390.7,552.9 392.0,553.0C393.4,553.1 394.6,556.7 396.0,557.0C397.0,557.3 398.2,556.6 399.2,556.0C400.5,555.2 401.8,552.0 403.0,552.0C404.1,552.0 404.9,554.9 406.0,555.0C407.3,555.1 408.9,552.5 410.3,551.5C411.6,550.6 412.6,549.6 414.0,549.0C415.5,548.4 417.6,547.7 419.1,548.2C420.6,548.7 421.5,551.8 423.0,552.0C424.5,552.2 426.6,550.7 428.0,549.3C429.8,547.5 430.7,542.2 432.4,541.6C433.5,541.2 434.8,543.2 436.0,543.0C437.7,542.7 439.4,538.7 441.3,538.2C442.8,537.8 444.4,539.3 446.0,539.0C448.0,538.7 450.6,536.6 452.4,535.5C453.8,534.6 454.9,534.1 456.0,533.0C457.4,531.7 458.6,529.6 459.8,528.0C460.9,526.6 461.9,525.3 463.0,524.0C464.1,522.7 465.5,521.8 466.5,520.0C468.0,517.2 468.3,510.5 469.8,508.0C470.7,506.5 471.9,506.1 473.0,505.0C474.1,503.9 475.2,502.7 476.4,501.5C477.6,500.3 478.9,499.1 480.0,498.0C481.1,496.9 482.2,496.3 483.1,494.8C484.5,492.5 485.1,487.8 486.4,485.0C487.5,482.7 488.8,480.8 490.0,479.0C491.0,477.5 492.2,476.5 493.1,475.0C494.2,473.3 495.2,471.0 496.0,469.0C496.8,467.1 497.3,465.1 498.1,463.3C498.9,461.5 500.1,459.7 501.0,458.0C501.8,456.4 502.4,455.2 503.1,453.3C504.1,450.6 505.3,446.4 506.4,443.3C507.3,440.7 508.1,438.3 509.0,436.0C509.8,433.9 510.5,431.9 511.4,430.0C512.2,428.2 513.2,427.0 514.0,425.0C515.1,422.3 515.9,418.4 517.0,415.0C518.1,411.5 519.7,408.7 520.5,404.3C521.7,397.9 521.5,388.2 522.0,380.0C522.6,371.6 521.9,359.9 523.8,354.4C524.8,351.4 526.4,350.1 528.0,348.0C529.7,345.8 532.2,344.6 533.8,341.8C536.0,338.0 536.2,330.1 538.2,326.2C539.6,323.5 541.5,322.1 543.0,320.0C544.5,318.0 545.7,315.4 547.1,314.0C548.1,313.0 548.9,312.5 550.0,312.0C551.1,311.4 552.8,310.3 553.8,310.7C555.0,311.2 554.9,315.2 556.0,316.0C556.9,316.6 558.4,315.5 559.3,316.3C561.2,317.9 561.6,325.2 562.6,329.6C563.5,333.8 564.0,337.8 565.0,342.0C566.1,346.5 567.6,351.1 569.0,356.0C570.5,361.4 572.5,368.0 573.7,373.2C574.7,377.5 575.2,380.5 576.0,385.0C577.0,390.8 578.0,397.8 579.0,405.0C580.2,413.6 580.9,425.4 582.6,433.1C583.8,438.6 585.6,442.3 587.0,447.0C588.5,451.9 590.2,457.1 591.4,461.9C592.5,466.4 593.1,470.5 594.0,475.0C595.0,479.8 596.0,485.0 597.0,490.0C598.0,495.0 599.3,499.9 600.0,505.0C600.7,510.1 600.3,515.2 601.4,520.5C602.6,526.3 605.1,532.0 607.0,538.2C609.1,545.2 611.3,553.5 613.6,560.4C615.7,566.7 617.9,573.1 620.2,578.1C622.0,582.0 624.5,584.3 625.8,588.1C627.3,592.3 627.0,597.3 628.0,602.5C629.1,608.6 629.6,620.2 632.4,622.5C633.9,623.7 636.7,621.7 638.0,622.5C639.2,623.3 639.2,625.8 640.2,626.9C641.1,627.9 642.6,627.8 643.5,629.1C645.1,631.5 645.0,639.8 645.7,642.4C646.0,643.5 645.8,644.3 646.5,644.8C647.4,645.5 649.9,644.8 651.6,644.8C653.3,644.8 655.0,644.8 656.7,644.8C658.4,644.8 660.1,644.8 661.8,644.8C663.5,644.8 665.2,644.8 666.9,644.8C668.6,644.8 670.3,644.8 672.0,644.8C673.7,644.8 675.4,644.8 677.1,644.8C678.8,644.8 680.5,644.8 682.2,644.8C683.9,644.8 685.6,644.8 687.3,644.8C689.0,644.8 690.7,644.8 692.4,644.8C694.1,644.8 695.8,644.8 697.5,644.8C699.2,644.8 700.9,644.8 702.6,644.8C704.3,644.8 706.0,644.8 707.7,644.8C709.4,644.8 711.1,644.8 712.8,644.8C714.5,644.8 716.2,644.8 717.9,644.8C719.6,644.8 721.3,644.8 723.0,644.8C724.7,644.8 726.4,644.8 728.1,644.8C729.8,644.8 731.5,644.8 733.2,644.8C734.9,644.8 736.6,644.8 738.3,644.8C740.0,644.8 741.7,644.8 743.4,644.8C745.1,644.8 746.8,644.8 748.5,644.8C750.2,644.8 751.9,644.8 753.6,644.8C755.3,644.8 757.0,644.8 758.7,644.8C760.4,644.8 762.1,644.8 763.8,644.8C765.5,644.8 767.2,644.8 768.9,644.8C770.6,644.8 772.3,644.8 774.0,644.8C775.7,644.8 777.4,644.8 779.1,644.8C780.8,644.8 782.5,644.8 784.2,644.8C785.9,644.8 787.6,644.8 789.3,644.8C791.0,644.8 792.7,644.8 794.4,644.8C796.1,644.8 798.1,646.2 799.5,644.8C805.1,639.2 800.1,588.7 800.5,560.0C800.9,530.4 801.4,498.1 802.0,470.0C802.6,445.2 803.2,420.1 804.0,400.0C804.6,384.8 805.1,370.7 806.0,360.0C806.6,352.7 807.8,347.7 808.2,341.8C808.6,336.1 808.4,331.6 808.6,325.1C808.9,315.9 809.3,303.0 809.7,291.9C810.1,280.8 810.4,268.1 810.8,258.7C811.1,251.8 810.7,243.9 811.7,240.9C812.1,239.7 812.6,239.7 813.1,238.7C814.1,236.8 815.7,231.7 816.4,229.8C816.7,228.9 816.9,228.8 817.2,227.8C818.0,225.1 819.0,216.8 820.0,212.0C820.8,207.9 821.7,200.7 822.6,200.7C823.4,200.7 824.2,205.2 825.0,208.0C826.0,211.8 827.2,216.0 828.0,221.3C829.2,228.9 829.5,241.0 830.2,249.6C830.8,256.9 831.3,262.2 831.9,269.7C832.6,279.4 833.6,291.5 834.1,303.0C834.7,315.4 834.4,329.9 835.2,341.8C835.8,352.0 837.2,360.6 838.0,370.0C838.8,379.3 839.6,386.5 840.2,398.0C841.2,416.4 841.4,447.9 842.0,469.6C842.5,487.8 842.8,505.2 843.7,519.7C844.4,530.9 845.1,539.5 846.3,549.3C847.5,559.0 848.8,570.4 850.7,578.1C852.0,583.4 853.7,587.0 855.2,591.4C856.7,595.8 858.1,601.0 859.6,604.7C860.7,607.5 862.0,609.3 863.0,612.0C864.2,615.1 865.0,619.0 866.3,622.5C867.6,626.1 868.8,632.0 870.7,633.5C871.7,634.3 873.0,633.4 874.0,634.0C875.3,634.7 876.4,636.5 877.3,638.0C878.3,639.6 878.8,642.3 879.6,643.5C880.1,644.2 880.3,644.5 881.0,644.8C882.2,645.3 884.7,644.8 886.5,644.8C888.3,644.8 890.2,644.8 892.0,644.8C893.8,644.8 895.7,644.8 897.5,644.8C899.3,644.8 901.2,644.8 903.0,644.8C904.8,644.8 906.7,644.8 908.5,644.8C910.3,644.8 914.0,644.8 914.0,644.8" fill="none" stroke="#eb3a3d" stroke-width="3.8" stroke-linejoin="round" stroke-linecap="round"/>
<path d="M101.0,644.8C101.0,644.8 104.6,644.8 106.4,644.8C108.2,644.8 110.0,644.8 111.8,644.8C113.6,644.8 115.4,644.8 117.2,644.8C119.0,644.8 120.8,644.8 122.7,644.8C124.5,644.8 126.3,644.8 128.1,644.8C129.9,644.8 131.7,644.8 133.5,644.8C135.3,644.8 137.1,644.8 138.9,644.8C140.7,644.8 143.0,645.9 144.3,644.8C146.2,643.3 145.8,638.1 146.5,633.5C147.7,626.1 149.0,614.3 149.9,604.7C150.8,595.1 150.9,582.1 152.1,575.9C152.7,572.9 153.6,572.3 154.3,569.3C155.6,563.4 156.6,551.2 157.6,542.7C158.5,534.8 159.2,526.8 160.0,520.0C160.7,514.5 161.5,510.9 162.1,505.0C163.0,496.3 163.5,484.5 164.3,473.0C165.3,459.4 166.5,443.5 167.6,428.7C168.7,413.9 169.9,396.9 170.9,384.3C171.6,375.0 172.2,367.5 173.0,360.0C173.7,353.5 174.6,347.7 175.4,341.8C176.1,336.1 176.7,330.5 177.6,325.1C178.5,319.8 179.4,312.0 180.9,309.6C181.5,308.6 182.2,308.4 183.0,308.0C183.7,307.7 184.5,307.1 185.3,307.4C186.5,307.8 187.7,309.8 188.7,311.8C190.2,314.9 191.1,320.4 192.0,325.1C193.0,330.3 193.6,334.9 194.2,341.8C195.2,352.7 195.3,370.0 196.4,384.3C197.5,399.0 199.3,417.6 200.8,428.7C201.7,435.5 202.6,439.5 203.5,445.0C204.4,450.6 205.5,456.7 206.4,461.9C207.2,466.3 207.7,470.2 208.5,474.0C209.2,477.5 209.5,482.6 210.8,484.1C211.4,484.8 212.4,484.4 213.0,485.0C214.0,486.0 214.4,488.4 215.2,490.7C216.5,494.2 218.0,500.3 219.7,504.0C221.0,507.0 222.7,509.6 224.1,511.6C225.1,513.0 225.9,513.9 227.0,515.0C228.1,516.2 229.3,517.2 230.8,518.3C232.7,519.7 235.5,521.1 237.4,522.7C239.1,524.1 240.2,526.1 241.8,527.2C243.1,528.1 244.5,528.6 246.0,529.0C247.5,529.4 249.3,529.8 250.7,529.4C252.0,529.0 252.9,527.7 254.0,527.0C255.1,526.3 256.3,524.8 257.4,525.0C258.7,525.3 259.8,530.0 261.0,530.0C262.0,530.0 262.8,527.2 264.0,526.0C265.3,524.7 267.0,523.9 268.4,522.7C269.9,521.4 271.7,518.2 272.9,518.3C273.8,518.4 274.4,521.1 275.0,521.0C276.0,520.8 276.1,514.4 277.3,512.8C278.0,511.8 279.0,511.7 280.0,511.0C281.2,510.2 282.8,509.2 283.9,508.3C284.8,507.6 285.4,507.0 286.2,506.2C287.3,505.1 288.7,502.6 290.0,502.0C290.9,501.6 292.0,502.4 292.8,501.8C294.2,500.8 294.7,495.9 296.0,494.0C297.0,492.5 298.3,491.9 299.5,490.7C300.9,489.3 302.8,488.1 303.9,486.3C305.1,484.3 305.2,481.3 306.0,479.0C306.7,476.9 307.5,474.9 308.3,473.0C309.0,471.2 309.8,469.8 310.5,468.0C311.3,466.1 311.9,464.0 312.8,461.9C313.7,459.7 315.0,457.4 316.0,455.0C317.2,452.3 318.6,449.5 319.4,446.4C320.3,442.9 320.4,438.7 321.0,435.0C321.5,431.3 322.0,428.2 322.7,424.2C323.6,419.0 325.1,411.7 326.1,406.5C326.9,402.4 327.6,399.0 328.3,395.4C328.9,391.9 329.5,388.6 330.0,385.0C330.6,381.2 331.2,378.1 331.6,373.2C332.3,365.3 332.2,351.9 332.7,341.8C333.2,332.2 333.8,323.0 334.5,314.0C335.2,305.6 335.4,293.0 336.7,289.7C337.1,288.7 337.5,288.6 338.0,288.0C338.7,287.2 339.9,286.6 340.5,285.2C341.5,283.0 340.8,278.0 341.5,275.0C342.0,272.6 343.0,271.0 343.8,268.6C344.8,265.5 345.8,261.3 347.0,258.0C348.1,254.9 349.2,249.4 350.4,249.3C351.2,249.2 352.2,251.7 353.0,253.0C353.8,254.3 354.1,256.3 355.0,257.0C355.6,257.5 356.5,256.9 357.1,257.5C358.5,258.8 359.4,264.2 360.4,267.5C361.4,270.7 362.0,274.0 363.0,277.0C363.9,279.9 365.1,281.6 366.0,285.2C367.5,291.5 368.2,302.7 369.3,311.8C370.4,321.5 371.6,332.8 372.6,341.8C373.4,349.2 374.1,355.1 375.0,362.0C375.9,369.3 377.1,375.6 378.1,384.3C379.6,396.6 381.3,413.9 382.6,428.7C383.9,443.5 385.0,458.7 385.9,473.0C386.8,486.4 386.8,500.1 388.1,511.8C389.2,521.5 391.1,528.9 392.5,538.2C394.1,548.6 395.5,560.4 397.0,571.5C398.5,582.6 399.7,594.1 401.4,604.7C403.0,614.7 405.6,626.1 407.0,633.5C407.9,638.1 407.4,643.3 409.2,644.8C410.4,645.8 412.6,644.8 414.2,644.8C415.9,644.8 417.6,644.8 419.3,644.8C421.0,644.8 422.7,644.8 424.3,644.8C426.0,644.8 427.7,644.8 429.4,644.8C431.1,644.8 432.7,644.8 434.4,644.8C436.1,644.8 437.8,644.8 439.5,644.8C441.2,644.8 442.8,644.8 444.5,644.8C446.2,644.8 447.9,644.8 449.6,644.8C451.3,644.8 452.9,644.8 454.6,644.8C456.3,644.8 458.0,644.8 459.7,644.8C461.3,644.8 463.0,644.8 464.7,644.8C466.4,644.8 468.1,644.8 469.8,644.8C471.4,644.8 473.1,644.8 474.8,644.8C476.5,644.8 478.2,644.8 479.8,644.8C481.5,644.8 483.2,644.8 484.9,644.8C486.6,644.8 488.3,644.8 489.9,644.8C491.6,644.8 493.3,644.8 495.0,644.8C496.7,644.8 498.3,644.8 500.0,644.8C501.7,644.8 503.4,644.8 505.1,644.8C506.8,644.8 508.4,644.8 510.1,644.8C511.8,644.8 513.5,644.8 515.2,644.8C516.9,644.8 518.5,644.8 520.2,644.8C521.9,644.8 523.6,644.8 525.3,644.8C526.9,644.8 528.6,644.8 530.3,644.8C532.0,644.8 533.7,644.8 535.4,644.8C537.0,644.8 538.7,644.8 540.4,644.8C542.1,644.8 543.8,644.8 545.4,644.8C547.1,644.8 548.8,644.8 550.5,644.8C552.2,644.8 553.9,644.8 555.5,644.8C557.2,644.8 558.9,644.8 560.6,644.8C562.3,644.8 563.9,644.8 565.6,644.8C567.3,644.8 569.0,644.8 570.7,644.8C572.4,644.8 574.0,644.8 575.7,644.8C577.4,644.8 579.1,644.8 580.8,644.8C582.5,644.8 584.1,644.8 585.8,644.8C587.5,644.8 589.2,644.8 590.9,644.8C592.5,644.8 594.2,644.8 595.9,644.8C597.6,644.8 599.3,644.8 601.0,644.8C602.6,644.8 604.3,644.8 606.0,644.8C607.7,644.8 609.4,644.8 611.0,644.8C612.7,644.8 614.4,644.8 616.1,644.8C617.8,644.8 619.5,644.8 621.1,644.8C622.8,644.8 624.5,644.8 626.2,644.8C627.9,644.8 629.5,644.8 631.2,644.8C632.9,644.8 634.6,644.8 636.3,644.8C638.0,644.8 639.6,644.8 641.3,644.8C643.0,644.8 644.7,644.8 646.4,644.8C648.1,644.8 649.7,644.8 651.4,644.8C653.1,644.8 654.8,644.8 656.5,644.8C658.1,644.8 659.8,644.8 661.5,644.8C663.2,644.8 664.9,644.8 666.6,644.8C668.2,644.8 669.9,644.8 671.6,644.8C673.3,644.8 675.0,644.8 676.6,644.8C678.3,644.8 680.0,644.8 681.7,644.8C683.4,644.8 685.1,644.8 686.7,644.8C688.4,644.8 690.1,644.8 691.8,644.8C693.5,644.8 695.1,644.8 696.8,644.8C698.5,644.8 700.2,644.8 701.9,644.8C703.6,644.8 705.2,644.8 706.9,644.8C708.6,644.8 710.3,644.8 712.0,644.8C713.7,644.8 715.3,644.8 717.0,644.8C718.7,644.8 720.4,644.8 722.1,644.8C723.7,644.8 725.4,644.8 727.1,644.8C728.8,644.8 730.5,644.8 732.2,644.8C733.8,644.8 735.5,644.8 737.2,644.8C738.9,644.8 740.6,644.8 742.2,644.8C743.9,644.8 745.6,644.8 747.3,644.8C749.0,644.8 750.7,644.8 752.3,644.8C754.0,644.8 755.7,644.8 757.4,644.8C759.1,644.8 760.7,644.8 762.4,644.8C764.1,644.8 765.8,644.8 767.5,644.8C769.2,644.8 770.8,644.8 772.5,644.8C774.2,644.8 775.9,644.8 777.6,644.8C779.3,644.8 780.9,644.8 782.6,644.8C784.3,644.8 786.0,644.8 787.7,644.8C789.3,644.8 791.0,644.8 792.7,644.8C794.4,644.8 796.1,644.8 797.8,644.8C799.4,644.8 801.4,646.2 802.8,644.8C809.8,637.8 803.1,558.1 803.4,519.7C803.6,487.0 803.6,454.3 804.2,428.7C804.6,409.9 805.5,400.2 806.1,380.0C807.0,347.0 807.5,284.9 808.5,249.6C809.2,225.5 809.9,206.8 810.7,188.7C811.4,174.2 811.9,160.4 812.8,149.6C813.4,141.9 814.0,136.3 815.0,130.0C815.9,124.0 817.3,117.9 818.3,112.6C819.1,108.1 819.7,104.1 820.5,100.0C821.3,96.0 822.0,88.4 823.0,88.3C823.6,88.2 824.3,90.4 825.0,92.0C826.0,94.4 827.2,97.5 828.0,101.7C829.4,109.3 829.5,123.4 830.2,134.3C830.9,145.2 831.7,155.3 832.4,167.0C833.2,180.4 834.0,196.3 834.6,210.4C835.1,223.8 835.3,232.7 835.7,249.6C836.3,280.4 837.1,335.8 837.5,380.0C838.0,425.8 837.7,490.3 838.4,519.7C838.7,533.2 838.8,539.3 839.7,549.3C840.6,559.6 842.4,570.3 844.1,580.4C845.7,590.2 847.8,600.5 849.6,609.2C851.1,616.5 852.7,623.1 854.1,629.1C855.3,634.0 856.3,639.8 857.4,642.4C857.9,643.6 858.2,644.3 859.0,644.8C860.1,645.4 862.3,644.8 864.0,644.8C865.7,644.8 867.3,644.8 869.0,644.8C870.7,644.8 872.3,644.8 874.0,644.8C875.7,644.8 877.3,644.8 879.0,644.8C880.7,644.8 882.3,644.8 884.0,644.8C885.7,644.8 887.3,644.8 889.0,644.8C890.7,644.8 892.3,644.8 894.0,644.8C895.7,644.8 897.3,644.8 899.0,644.8C900.7,644.8 902.3,644.8 904.0,644.8C905.7,644.8 907.3,644.8 909.0,644.8C910.7,644.8 914.0,644.8 914.0,644.8" fill="none" stroke="#1767d9" stroke-width="3.8" stroke-linejoin="round" stroke-linecap="round"/>
<path d="M101.0,644.8C101.0,644.8 105.3,644.8 107.5,644.8C109.7,644.8 111.8,644.8 114.0,644.8C116.2,644.8 119.1,646.0 120.5,644.8C122.3,643.2 121.3,638.3 121.7,633.5C122.3,625.3 122.6,611.7 123.3,600.0C124.1,587.3 125.2,572.8 126.2,560.0C127.1,548.2 128.0,537.2 128.8,526.0C129.6,515.2 130.1,504.7 131.0,494.0C131.9,483.1 133.5,472.0 134.4,461.0C135.3,450.0 135.7,438.9 136.6,428.0C137.5,417.2 138.8,406.8 139.9,396.0C141.0,384.8 142.5,372.4 143.2,362.0C143.8,353.1 143.7,346.2 144.3,337.3C145.1,326.8 146.5,311.8 147.7,303.0C148.4,297.5 149.3,294.5 149.9,289.7C150.6,284.2 150.3,276.3 151.4,272.0C152.1,269.4 153.1,267.9 154.0,266.0C154.8,264.2 155.6,261.1 156.5,260.9C157.0,260.8 157.5,261.3 158.0,262.0C159.1,263.6 160.1,268.8 161.0,272.0C161.8,275.0 162.7,277.5 163.2,280.8C163.9,284.8 164.0,289.3 164.3,294.1C164.7,299.8 164.7,307.0 165.4,313.0C166.1,318.4 167.7,322.8 168.3,328.5C169.0,335.5 168.6,343.4 168.7,352.0C168.8,362.5 168.5,375.5 168.7,387.0C168.9,398.2 169.1,409.1 169.8,420.0C170.5,430.8 171.8,441.3 173.1,452.0C174.4,462.9 175.9,475.4 177.6,485.0C178.9,492.5 179.2,501.5 182.0,505.0C183.6,507.0 185.9,506.8 188.0,508.0C190.4,509.4 193.2,511.2 195.3,512.8C197.1,514.2 198.6,515.6 200.0,517.0C201.2,518.2 201.7,519.8 203.0,520.5C204.3,521.2 206.3,520.8 208.0,521.0C209.9,521.2 212.2,522.0 214.1,521.6C216.2,521.1 218.3,519.7 220.0,518.0C222.0,516.0 223.5,513.0 225.0,510.0C226.8,506.6 228.0,502.2 229.7,498.5C231.3,494.9 233.3,491.8 235.0,488.0C237.0,483.7 239.2,478.7 240.7,474.0C242.2,469.4 243.1,465.0 244.0,460.0C245.0,454.4 245.6,447.9 246.3,442.0C247.0,436.3 247.5,430.7 248.0,425.0C248.6,419.1 249.1,413.9 249.6,407.0C250.3,397.9 251.1,385.5 251.8,375.0C252.5,364.8 253.3,355.4 254.0,345.0C254.8,333.8 255.2,321.5 256.2,310.0C257.1,298.8 258.5,288.1 259.6,277.0C260.7,265.8 262.0,254.3 262.9,243.0C263.8,231.9 264.2,220.9 265.1,210.0C265.9,199.2 267.0,188.0 268.0,178.0C268.9,169.1 270.0,160.2 270.7,153.0C271.2,147.5 271.4,143.6 271.8,138.5C272.2,132.9 272.3,126.5 272.9,120.8C273.4,115.5 274.5,110.7 275.0,105.3C275.6,99.3 275.6,92.3 276.2,86.4C276.8,81.3 277.1,74.9 278.4,72.0C279.1,70.5 280.0,69.7 281.0,69.0C281.9,68.3 283.2,67.2 284.0,67.6C285.7,68.5 285.5,76.9 286.2,82.0C287.0,87.8 287.8,94.9 288.4,100.8C288.9,105.9 289.2,110.1 289.5,115.2C289.8,120.8 289.8,127.4 290.2,133.0C290.6,138.1 291.2,142.3 291.7,147.4C292.3,153.2 292.9,161.1 293.3,166.2C293.6,169.7 293.8,171.2 294.0,175.0C294.4,182.2 294.5,195.4 295.0,206.0C295.5,217.1 296.2,228.8 296.8,240.0C297.4,250.8 297.9,261.3 298.4,272.0C299.0,282.9 299.5,294.2 300.1,305.0C300.6,315.5 301.0,329.4 301.7,336.0C302.0,339.2 302.5,339.9 302.8,343.0C303.4,349.1 303.4,360.6 303.9,370.0C304.5,380.5 305.4,392.0 306.1,403.0C306.8,414.0 307.4,425.1 308.3,436.0C309.2,446.8 310.6,457.1 311.7,468.0C312.8,479.4 313.9,491.6 315.0,503.0C316.1,513.9 317.2,524.3 318.3,535.0C319.4,545.9 320.7,557.0 321.6,568.0C322.5,579.0 322.9,591.5 323.8,601.0C324.5,608.2 325.2,614.3 326.0,620.0C326.7,624.8 327.1,629.1 328.3,633.0C329.4,636.5 330.3,640.8 332.7,642.4C335.1,643.9 340.6,641.5 342.7,642.4C343.9,642.9 344.0,644.4 345.0,644.8C346.3,645.3 348.4,644.8 350.0,644.8C351.7,644.8 353.4,644.8 355.1,644.8C356.8,644.8 358.5,644.8 360.1,644.8C361.8,644.8 363.5,644.8 365.2,644.8C366.9,644.8 368.5,644.8 370.2,644.8C371.9,644.8 373.6,644.8 375.3,644.8C376.9,644.8 378.6,644.8 380.3,644.8C382.0,644.8 383.7,644.8 385.4,644.8C387.0,644.8 388.7,644.8 390.4,644.8C392.1,644.8 393.8,644.8 395.4,644.8C397.1,644.8 398.8,644.8 400.5,644.8C402.2,644.8 403.8,644.8 405.5,644.8C407.2,644.8 408.9,644.8 410.6,644.8C412.3,644.8 413.9,644.8 415.6,644.8C417.3,644.8 419.0,644.8 420.7,644.8C422.3,644.8 424.0,644.8 425.7,644.8C427.4,644.8 429.1,644.8 430.7,644.8C432.4,644.8 434.1,644.8 435.8,644.8C437.5,644.8 439.2,644.8 440.8,644.8C442.5,644.8 444.2,644.8 445.9,644.8C447.6,644.8 449.2,644.8 450.9,644.8C452.6,644.8 454.3,644.8 456.0,644.8C457.6,644.8 459.3,644.8 461.0,644.8C462.7,644.8 464.4,644.8 466.1,644.8C467.7,644.8 469.4,644.8 471.1,644.8C472.8,644.8 474.5,644.8 476.1,644.8C477.8,644.8 479.5,644.8 481.2,644.8C482.9,644.8 484.5,644.8 486.2,644.8C487.9,644.8 489.6,644.8 491.3,644.8C493.0,644.8 494.6,644.8 496.3,644.8C498.0,644.8 499.7,644.8 501.4,644.8C503.0,644.8 504.7,644.8 506.4,644.8C508.1,644.8 509.8,644.8 511.5,644.8C513.1,644.8 514.8,644.8 516.5,644.8C518.2,644.8 519.9,644.8 521.5,644.8C523.2,644.8 524.9,644.8 526.6,644.8C528.3,644.8 529.9,644.8 531.6,644.8C533.3,644.8 535.0,644.8 536.7,644.8C538.4,644.8 540.0,644.8 541.7,644.8C543.4,644.8 545.1,644.8 546.8,644.8C548.4,644.8 550.1,644.8 551.8,644.8C553.5,644.8 555.2,644.8 556.8,644.8C558.5,644.8 560.2,644.8 561.9,644.8C563.6,644.8 565.3,644.8 566.9,644.8C568.6,644.8 570.3,644.8 572.0,644.8C573.7,644.8 575.3,644.8 577.0,644.8C578.7,644.8 580.4,644.8 582.1,644.8C583.7,644.8 585.4,644.8 587.1,644.8C588.8,644.8 590.5,644.8 592.2,644.8C593.8,644.8 595.5,644.8 597.2,644.8C598.9,644.8 600.6,644.8 602.2,644.8C603.9,644.8 605.6,644.8 607.3,644.8C609.0,644.8 610.6,644.8 612.3,644.8C614.0,644.8 615.7,644.8 617.4,644.8C619.1,644.8 620.7,644.8 622.4,644.8C624.1,644.8 625.8,644.8 627.5,644.8C629.1,644.8 630.8,644.8 632.5,644.8C634.2,644.8 635.9,644.8 637.5,644.8C639.2,644.8 640.9,644.8 642.6,644.8C644.3,644.8 646.0,644.8 647.6,644.8C649.3,644.8 651.0,644.8 652.7,644.8C654.4,644.8 656.0,644.8 657.7,644.8C659.4,644.8 661.1,644.8 662.8,644.8C664.5,644.8 666.1,644.8 667.8,644.8C669.5,644.8 671.2,644.8 672.9,644.8C674.5,644.8 676.2,644.8 677.9,644.8C679.6,644.8 681.3,644.8 682.9,644.8C684.6,644.8 686.3,644.8 688.0,644.8C689.7,644.8 691.4,644.8 693.0,644.8C694.7,644.8 696.4,644.8 698.1,644.8C699.8,644.8 701.4,644.8 703.1,644.8C704.8,644.8 706.5,644.8 708.2,644.8C709.8,644.8 711.5,644.8 713.2,644.8C714.9,644.8 716.6,644.8 718.3,644.8C719.9,644.8 721.6,644.8 723.3,644.8C725.0,644.8 726.7,644.8 728.3,644.8C730.0,644.8 731.7,644.8 733.4,644.8C735.1,644.8 736.7,644.8 738.4,644.8C740.1,644.8 741.8,644.8 743.5,644.8C745.2,644.8 746.8,644.8 748.5,644.8C750.2,644.8 751.9,644.8 753.6,644.8C755.2,644.8 756.9,644.8 758.6,644.8C760.3,644.8 762.0,644.8 763.6,644.8C765.3,644.8 767.0,644.8 768.7,644.8C770.4,644.8 772.1,644.8 773.7,644.8C775.4,644.8 777.1,644.8 778.8,644.8C780.5,644.8 782.1,644.8 783.8,644.8C785.5,644.8 787.2,644.8 788.9,644.8C790.5,644.8 792.2,644.8 793.9,644.8C795.6,644.8 797.3,644.8 799.0,644.8C800.6,644.8 802.9,645.7 804.0,644.8C805.5,643.5 804.9,639.9 805.3,636.0C806.0,628.5 806.0,613.9 806.4,603.0C806.8,592.3 806.7,579.8 807.5,571.0C808.1,564.7 809.3,560.4 810.0,555.0C810.8,549.4 811.2,543.7 812.0,538.0C812.8,532.1 814.0,525.3 815.0,520.0C815.8,515.9 816.8,513.2 817.5,509.0C818.4,503.5 818.9,496.3 819.5,490.0C820.0,483.9 820.4,478.6 820.8,472.0C821.3,464.1 821.7,453.0 822.2,446.0C822.5,441.2 822.8,438.5 823.1,434.0C823.5,428.4 823.7,419.3 824.5,415.0C824.9,412.8 825.5,410.0 826.0,410.0C826.6,410.0 827.2,414.7 828.0,417.0C828.9,419.4 830.5,421.1 831.2,424.0C832.2,428.2 831.7,434.6 832.0,440.0C832.3,445.6 832.8,451.3 833.0,457.0C833.3,462.9 833.3,469.4 833.5,475.0C833.6,480.0 833.7,484.0 833.9,489.0C834.1,494.6 834.2,501.5 834.5,507.0C834.8,511.7 835.2,514.9 835.7,520.0C836.4,527.2 837.5,537.0 838.6,546.0C839.9,555.9 841.2,566.8 843.0,577.0C844.8,587.1 847.5,598.7 849.6,607.0C851.1,612.9 852.6,617.4 854.0,622.0C855.2,626.0 856.0,629.8 857.4,633.0C858.6,635.7 860.4,638.1 861.8,640.2C862.9,641.9 863.5,644.0 865.0,644.8C866.4,645.6 868.6,644.8 870.4,644.8C872.3,644.8 874.1,644.8 875.9,644.8C877.7,644.8 879.5,644.8 881.3,644.8C883.1,644.8 885.0,644.8 886.8,644.8C888.6,644.8 890.4,644.8 892.2,644.8C894.0,644.8 895.9,644.8 897.7,644.8C899.5,644.8 901.3,644.8 903.1,644.8C904.9,644.8 906.7,644.8 908.6,644.8C910.4,644.8 914.0,644.8 914.0,644.8" fill="none" stroke="#33a865" stroke-width="3.8" stroke-linejoin="round" stroke-linecap="round" stroke-dasharray="11.5 21.5"/>
<path d="M101.0,644.8C101.0,644.8 105.5,644.8 107.7,644.8C109.9,644.8 113.1,646.0 114.4,644.8C116.0,643.4 115.2,640.2 115.5,635.8C116.4,624.1 116.8,593.1 117.7,571.5C118.6,549.5 119.8,524.4 121.0,505.0C121.9,490.0 123.0,478.0 124.0,465.0C124.9,452.6 125.7,443.4 126.6,428.7C128.0,406.0 129.8,365.0 131.0,341.8C131.8,326.3 132.4,316.4 133.2,303.0C134.0,288.7 135.0,273.5 135.9,258.7C136.8,243.9 137.7,228.0 138.8,214.3C139.8,202.4 141.0,190.3 142.1,181.1C142.9,174.5 143.5,168.8 144.5,164.0C145.2,160.5 146.3,154.9 147.0,155.0C148.2,155.1 148.8,171.8 149.9,181.0C151.2,191.4 153.0,203.2 154.3,214.3C155.6,225.4 156.7,236.5 157.6,247.6C158.4,258.7 158.9,269.7 159.4,280.8C159.8,291.9 159.9,303.4 160.3,314.0C160.7,323.7 161.3,330.0 161.6,341.8C162.1,362.7 161.0,406.1 162.1,428.7C162.8,443.1 164.3,452.5 165.4,464.1C166.5,475.3 167.2,490.5 168.7,497.0C169.4,499.9 170.0,500.8 171.0,503.0C172.2,505.6 174.3,508.9 175.4,511.6C176.3,513.9 176.4,517.1 177.5,518.0C178.1,518.5 178.9,518.4 179.8,518.3C181.0,518.2 182.8,516.8 184.2,517.2C185.8,517.6 187.2,521.5 188.7,521.6C190.1,521.7 191.6,518.5 193.1,518.3C194.4,518.1 195.6,519.6 197.0,520.0C198.5,520.4 200.5,521.1 202.0,520.5C203.7,519.8 205.2,515.6 206.4,515.0C207.0,514.7 207.5,515.3 208.0,515.0C208.9,514.6 209.8,512.9 210.8,511.6C212.1,509.8 214.0,506.8 215.2,505.0C216.1,503.7 216.6,503.2 217.5,501.8C219.2,499.2 222.2,495.0 224.1,490.7C226.4,485.6 228.0,479.5 229.7,473.0C231.8,465.1 233.3,454.8 235.2,446.4C237.0,438.6 239.3,432.7 240.7,424.2C242.6,412.9 243.2,398.0 244.1,384.3C245.1,369.9 245.6,353.1 246.3,340.0C246.9,329.5 247.3,321.2 248.0,311.8C248.7,302.2 249.9,292.1 250.7,283.0C251.4,274.9 251.6,266.5 252.5,260.0C253.2,255.2 254.0,251.2 255.1,247.6C255.9,244.7 257.2,242.5 258.0,240.0C258.8,237.6 258.9,234.4 260.0,233.0C260.8,232.1 261.9,231.5 262.9,231.6C264.0,231.7 265.2,232.7 266.2,234.3C268.5,238.2 269.3,249.8 270.7,258.7C272.3,269.4 273.7,283.1 275.1,294.1C276.3,303.6 277.7,312.3 278.4,320.7C279.1,328.1 279.1,333.5 279.5,341.8C280.1,353.5 280.8,368.6 281.7,384.3C282.9,404.0 285.0,432.4 286.2,450.8C287.1,463.8 287.8,474.3 288.4,484.1C288.9,491.9 289.0,496.7 289.5,505.0C290.3,517.0 291.7,534.5 292.8,549.3C293.9,564.1 295.0,578.3 296.1,593.6C297.3,610.0 295.2,640.7 299.5,644.8C300.9,646.1 302.8,644.8 304.5,644.8C306.2,644.8 307.9,644.8 309.5,644.8C311.2,644.8 312.9,644.8 314.6,644.8C316.2,644.8 317.9,644.8 319.6,644.8C321.3,644.8 322.9,644.8 324.6,644.8C326.3,644.8 328.0,644.8 329.6,644.8C331.3,644.8 333.0,644.8 334.7,644.8C336.3,644.8 338.0,644.8 339.7,644.8C341.4,644.8 343.0,644.8 344.7,644.8C346.4,644.8 348.1,644.8 349.7,644.8C351.4,644.8 353.1,644.8 354.7,644.8C356.4,644.8 358.1,644.8 359.8,644.8C361.4,644.8 363.1,644.8 364.8,644.8C366.5,644.8 368.1,644.8 369.8,644.8C371.5,644.8 373.2,644.8 374.8,644.8C376.5,644.8 378.2,644.8 379.9,644.8C381.5,644.8 383.2,644.8 384.9,644.8C386.6,644.8 388.2,644.8 389.9,644.8C391.6,644.8 393.3,644.8 394.9,644.8C396.6,644.8 398.3,644.8 400.0,644.8C401.6,644.8 403.3,644.8 405.0,644.8C406.6,644.8 408.3,644.8 410.0,644.8C411.7,644.8 413.3,644.8 415.0,644.8C416.7,644.8 418.4,644.8 420.0,644.8C421.7,644.8 423.4,644.8 425.1,644.8C426.7,644.8 428.4,644.8 430.1,644.8C431.8,644.8 433.4,644.8 435.1,644.8C436.8,644.8 438.5,644.8 440.1,644.8C441.8,644.8 443.5,644.8 445.2,644.8C446.8,644.8 448.5,644.8 450.2,644.8C451.9,644.8 453.5,644.8 455.2,644.8C456.9,644.8 458.6,644.8 460.2,644.8C461.9,644.8 463.6,644.8 465.2,644.8C466.9,644.8 468.6,644.8 470.3,644.8C471.9,644.8 473.6,644.8 475.3,644.8C477.0,644.8 478.6,644.8 480.3,644.8C482.0,644.8 483.7,644.8 485.3,644.8C487.0,644.8 488.7,644.8 490.4,644.8C492.0,644.8 493.7,644.8 495.4,644.8C497.1,644.8 498.7,644.8 500.4,644.8C502.1,644.8 503.8,644.8 505.4,644.8C507.1,644.8 508.8,644.8 510.5,644.8C512.1,644.8 513.8,644.8 515.5,644.8C517.1,644.8 518.8,644.8 520.5,644.8C522.2,644.8 523.8,644.8 525.5,644.8C527.2,644.8 528.9,644.8 530.5,644.8C532.2,644.8 533.9,644.8 535.6,644.8C537.2,644.8 538.9,644.8 540.6,644.8C542.3,644.8 543.9,644.8 545.6,644.8C547.3,644.8 549.0,644.8 550.6,644.8C552.3,644.8 554.0,644.8 555.7,644.8C557.3,644.8 559.0,644.8 560.7,644.8C562.4,644.8 564.0,644.8 565.7,644.8C567.4,644.8 569.0,644.8 570.7,644.8C572.4,644.8 574.1,644.8 575.7,644.8C577.4,644.8 579.1,644.8 580.8,644.8C582.4,644.8 584.1,644.8 585.8,644.8C587.5,644.8 589.1,644.8 590.8,644.8C592.5,644.8 594.2,644.8 595.8,644.8C597.5,644.8 599.2,644.8 600.9,644.8C602.5,644.8 604.2,644.8 605.9,644.8C607.6,644.8 609.2,644.8 610.9,644.8C612.6,644.8 614.3,644.8 615.9,644.8C617.6,644.8 619.3,644.8 620.9,644.8C622.6,644.8 624.3,644.8 626.0,644.8C627.6,644.8 629.3,644.8 631.0,644.8C632.7,644.8 634.3,644.8 636.0,644.8C637.7,644.8 639.4,644.8 641.0,644.8C642.7,644.8 644.4,644.8 646.1,644.8C647.7,644.8 649.4,644.8 651.1,644.8C652.8,644.8 654.4,644.8 656.1,644.8C657.8,644.8 659.5,644.8 661.1,644.8C662.8,644.8 664.5,644.8 666.2,644.8C667.8,644.8 669.5,644.8 671.2,644.8C672.8,644.8 674.5,644.8 676.2,644.8C677.9,644.8 679.5,644.8 681.2,644.8C682.9,644.8 684.6,644.8 686.2,644.8C687.9,644.8 689.6,644.8 691.3,644.8C692.9,644.8 694.6,644.8 696.3,644.8C698.0,644.8 699.6,644.8 701.3,644.8C703.0,644.8 704.7,644.8 706.3,644.8C708.0,644.8 709.7,644.8 711.4,644.8C713.0,644.8 714.7,644.8 716.4,644.8C718.1,644.8 719.7,644.8 721.4,644.8C723.1,644.8 724.8,644.8 726.4,644.8C728.1,644.8 729.8,644.8 731.4,644.8C733.1,644.8 734.8,644.8 736.5,644.8C738.1,644.8 739.8,644.8 741.5,644.8C743.2,644.8 744.8,644.8 746.5,644.8C748.2,644.8 749.9,644.8 751.5,644.8C753.2,644.8 754.9,644.8 756.6,644.8C758.2,644.8 759.9,644.8 761.6,644.8C763.3,644.8 764.9,644.8 766.6,644.8C768.3,644.8 770.0,644.8 771.6,644.8C773.3,644.8 775.0,644.8 776.7,644.8C778.3,644.8 780.0,644.8 781.7,644.8C783.3,644.8 785.0,644.8 786.7,644.8C788.4,644.8 790.0,644.8 791.7,644.8C793.4,644.8 795.1,644.8 796.7,644.8C798.4,644.8 800.1,644.8 801.8,644.8C803.4,644.8 805.1,644.8 806.8,644.8C808.5,644.8 810.1,644.8 811.8,644.8C813.5,644.8 815.2,644.8 816.8,644.8C818.5,644.8 820.2,644.8 821.9,644.8C823.5,644.8 825.2,644.8 826.9,644.8C828.6,644.8 830.6,645.8 831.9,644.8C833.9,643.3 833.8,633.6 835.2,633.5C836.7,633.4 838.4,643.3 840.8,644.8C842.3,645.7 844.3,644.8 846.0,644.8C847.8,644.8 849.5,644.8 851.3,644.8C853.0,644.8 854.7,644.8 856.5,644.8C858.2,644.8 860.0,644.8 861.7,644.8C863.5,644.8 865.2,644.8 866.9,644.8C868.7,644.8 870.4,644.8 872.2,644.8C873.9,644.8 875.7,644.8 877.4,644.8C879.1,644.8 880.9,644.8 882.6,644.8C884.4,644.8 886.1,644.8 887.9,644.8C889.6,644.8 891.3,644.8 893.1,644.8C894.8,644.8 896.6,644.8 898.3,644.8C900.1,644.8 901.8,644.8 903.5,644.8C905.3,644.8 907.0,644.8 908.8,644.8C910.5,644.8 914.0,644.8 914.0,644.8" fill="none" stroke="#33a865" stroke-width="3.8" stroke-linejoin="round" stroke-linecap="round"/>
<line x1="101" y1="644.8" x2="114.4" y2="644.8" stroke="#33a865" stroke-width="3.8"/>
<line x1="114.4" y1="644.8" x2="147" y2="644.8" stroke="#1767d9" stroke-width="3.8"/>
<line x1="147" y1="644.8" x2="213" y2="644.8" stroke="#eb3a3d" stroke-width="3.8"/>
<line x1="213" y1="644.8" x2="300" y2="644.8" stroke="#4d4d4d" stroke-width="3.8"/>
<line x1="300" y1="644.8" x2="831.9" y2="644.8" stroke="#33a865" stroke-width="3.8"/>
<line x1="840.8" y1="644.8" x2="914" y2="644.8" stroke="#33a865" stroke-width="3.8"/>
<g stroke="#000" stroke-width="2.2" fill="none">
<line x1="101.5" y1="3.2" x2="101.5" y2="697.0"/>
<line x1="100.5" y1="696.0" x2="915" y2="696.0"/>
<line x1="93" y1="695.9" x2="101.5" y2="695.9"/>
<line x1="97" y1="670.3" x2="101.5" y2="670.3"/>
<line x1="93" y1="644.7" x2="101.5" y2="644.7"/>
<line x1="97" y1="619.1" x2="101.5" y2="619.1"/>
<line x1="93" y1="593.5" x2="101.5" y2="593.5"/>
<line x1="97" y1="567.8" x2="101.5" y2="567.8"/>
<line x1="93" y1="542.2" x2="101.5" y2="542.2"/>
<line x1="97" y1="516.6" x2="101.5" y2="516.6"/>
<line x1="93" y1="491.0" x2="101.5" y2="491.0"/>
<line x1="97" y1="465.4" x2="101.5" y2="465.4"/>
<line x1="93" y1="439.7" x2="101.5" y2="439.7"/>
<line x1="97" y1="414.1" x2="101.5" y2="414.1"/>
<line x1="93" y1="388.5" x2="101.5" y2="388.5"/>
<line x1="97" y1="362.9" x2="101.5" y2="362.9"/>
<line x1="93" y1="337.3" x2="101.5" y2="337.3"/>
<line x1="97" y1="311.6" x2="101.5" y2="311.6"/>
<line x1="93" y1="286.0" x2="101.5" y2="286.0"/>
<line x1="97" y1="260.4" x2="101.5" y2="260.4"/>
<line x1="93" y1="234.8" x2="101.5" y2="234.8"/>
<line x1="97" y1="209.2" x2="101.5" y2="209.2"/>
<line x1="93" y1="183.5" x2="101.5" y2="183.5"/>
<line x1="97" y1="157.9" x2="101.5" y2="157.9"/>
<line x1="93" y1="132.3" x2="101.5" y2="132.3"/>
<line x1="97" y1="106.7" x2="101.5" y2="106.7"/>
<line x1="93" y1="81.1" x2="101.5" y2="81.1"/>
<line x1="97" y1="55.4" x2="101.5" y2="55.4"/>
<line x1="93" y1="29.8" x2="101.5" y2="29.8"/>
<line x1="97" y1="4.2" x2="101.5" y2="4.2"/>
<line x1="101.2" y1="696.0" x2="101.2" y2="700.5"/>
<line x1="133.7" y1="696.0" x2="133.7" y2="704.5"/>
<line x1="166.2" y1="696.0" x2="166.2" y2="700.5"/>
<line x1="198.7" y1="696.0" x2="198.7" y2="704.5"/>
<line x1="231.2" y1="696.0" x2="231.2" y2="700.5"/>
<line x1="263.8" y1="696.0" x2="263.8" y2="704.5"/>
<line x1="296.3" y1="696.0" x2="296.3" y2="700.5"/>
<line x1="328.8" y1="696.0" x2="328.8" y2="704.5"/>
<line x1="361.3" y1="696.0" x2="361.3" y2="700.5"/>
<line x1="393.8" y1="696.0" x2="393.8" y2="704.5"/>
<line x1="426.3" y1="696.0" x2="426.3" y2="700.5"/>
<line x1="458.8" y1="696.0" x2="458.8" y2="704.5"/>
<line x1="491.3" y1="696.0" x2="491.3" y2="700.5"/>
<line x1="523.8" y1="696.0" x2="523.8" y2="704.5"/>
<line x1="556.4" y1="696.0" x2="556.4" y2="700.5"/>
<line x1="588.9" y1="696.0" x2="588.9" y2="704.5"/>
<line x1="621.4" y1="696.0" x2="621.4" y2="700.5"/>
<line x1="653.9" y1="696.0" x2="653.9" y2="704.5"/>
<line x1="686.4" y1="696.0" x2="686.4" y2="700.5"/>
<line x1="718.9" y1="696.0" x2="718.9" y2="704.5"/>
<line x1="751.4" y1="696.0" x2="751.4" y2="700.5"/>
<line x1="784.0" y1="696.0" x2="784.0" y2="704.5"/>
<line x1="816.5" y1="696.0" x2="816.5" y2="700.5"/>
<line x1="849.0" y1="696.0" x2="849.0" y2="704.5"/>
<line x1="881.5" y1="696.0" x2="881.5" y2="700.5"/>
<line x1="914.0" y1="696.0" x2="914.0" y2="704.5"/>
</g>
<g font-family="Liberation Sans, Arial, sans-serif" font-weight="bold" font-size="30" fill="#000">
<text transform="translate(86,705.8) scale(1,1.055)" text-anchor="end">-0.2</text>
<text transform="translate(86,654.6) scale(1,1.055)" text-anchor="end">0.0</text>
<text transform="translate(86,603.4) scale(1,1.055)" text-anchor="end">0.2</text>
<text transform="translate(86,552.1) scale(1,1.055)" text-anchor="end">0.4</text>
<text transform="translate(86,500.9) scale(1,1.055)" text-anchor="end">0.6</text>
<text transform="translate(86,449.6) scale(1,1.055)" text-anchor="end">0.8</text>
<text transform="translate(86,398.4) scale(1,1.055)" text-anchor="end">1.0</text>
<text transform="translate(86,347.2) scale(1,1.055)" text-anchor="end">1.2</text>
<text transform="translate(86,295.9) scale(1,1.055)" text-anchor="end">1.4</text>
<text transform="translate(86,244.7) scale(1,1.055)" text-anchor="end">1.6</text>
<text transform="translate(86,193.4) scale(1,1.055)" text-anchor="end">1.8</text>
<text transform="translate(86,142.2) scale(1,1.055)" text-anchor="end">2.0</text>
<text transform="translate(86,91.0) scale(1,1.055)" text-anchor="end">2.2</text>
<text transform="translate(86,39.7) scale(1,1.055)" text-anchor="end">2.4</text>
<text transform="translate(133.7,735.8) scale(1,1.055)" text-anchor="middle">0</text>
<text transform="translate(198.7,735.8) scale(1,1.055)" text-anchor="middle">50</text>
<text transform="translate(263.8,735.8) scale(1,1.055)" text-anchor="middle">100</text>
<text transform="translate(328.8,735.8) scale(1,1.055)" text-anchor="middle">150</text>
<text transform="translate(393.8,735.8) scale(1,1.055)" text-anchor="middle">200</text>
<text transform="translate(458.8,735.8) scale(1,1.055)" text-anchor="middle">250</text>
<text transform="translate(523.8,735.8) scale(1,1.055)" text-anchor="middle">300</text>
<text transform="translate(588.9,735.8) scale(1,1.055)" text-anchor="middle">350</text>
<text transform="translate(653.9,735.8) scale(1,1.055)" text-anchor="middle">400</text>
<text transform="translate(718.9,735.8) scale(1,1.055)" text-anchor="middle">450</text>
<text transform="translate(784.0,735.8) scale(1,1.055)" text-anchor="middle">500</text>
<text transform="translate(849.0,735.8) scale(1,1.055)" text-anchor="middle">550</text>
<text transform="translate(914.0,735.8) scale(1,1.055)" text-anchor="middle">600</text>
</g>
<text x="507.4" y="775.7" font-family="Liberation Sans, Arial, sans-serif" font-weight="bold" font-size="31" text-anchor="middle">Time (ns)</text>
<text transform="translate(24.3,354.3) rotate(-90)" font-family="Liberation Sans, Arial, sans-serif" font-weight="bold" font-size="32" text-anchor="middle">Emission (a.u.)</text>
<text x="116" y="67" font-family="Liberation Sans, Arial, sans-serif" font-weight="bold" font-size="36">(a)</text>
<path d="M1014.0,468.5C1014.0,468.5 1016.6,467.2 1018.0,467.0C1019.6,466.8 1021.5,467.8 1023.0,467.4C1024.5,467.1 1025.6,465.7 1027.0,465.0C1028.5,464.2 1030.3,462.6 1031.7,463.0C1033.4,463.5 1034.7,469.5 1036.1,469.6C1037.1,469.6 1037.8,466.7 1039.0,466.0C1040.0,465.4 1041.5,464.9 1042.6,465.2C1043.8,465.5 1044.9,467.2 1046.0,468.0C1047.0,468.7 1048.0,468.8 1049.1,469.6C1050.5,470.6 1052.0,473.7 1053.5,473.9C1054.9,474.0 1056.5,471.7 1058.0,471.0C1059.4,470.3 1060.9,470.3 1062.2,469.6C1063.6,468.8 1064.6,466.6 1066.0,466.5C1067.5,466.4 1069.4,469.7 1070.9,469.6C1072.4,469.5 1073.5,466.3 1075.0,466.0C1076.4,465.7 1078.2,467.7 1079.6,467.4C1080.9,467.1 1081.9,464.6 1083.1,464.3C1084.1,464.1 1085.2,464.7 1086.1,465.2C1087.2,465.8 1087.9,467.3 1089.0,468.0C1090.1,468.7 1091.5,469.7 1092.6,469.6C1093.8,469.5 1094.9,467.0 1096.0,467.0C1096.9,467.0 1097.8,468.7 1098.7,468.7C1099.6,468.7 1100.5,468.1 1101.3,467.4C1102.3,466.6 1103.0,464.1 1104.0,464.0C1105.0,463.9 1106.4,466.4 1107.5,466.5C1108.4,466.6 1109.2,465.0 1110.0,465.2C1111.1,465.4 1111.8,468.0 1113.0,469.0C1114.0,469.9 1115.4,471.0 1116.5,470.9C1117.7,470.8 1118.6,468.6 1120.0,468.0C1121.5,467.4 1123.7,467.0 1125.2,467.4C1126.6,467.8 1127.6,469.7 1129.0,470.0C1130.5,470.3 1132.6,468.5 1134.1,468.7C1135.5,468.9 1136.6,470.6 1138.0,471.0C1139.5,471.4 1141.4,471.5 1143.0,470.9C1144.8,470.3 1146.1,467.4 1148.0,467.0C1149.8,466.6 1152.2,467.8 1154.1,468.7C1155.9,469.5 1157.2,471.3 1159.0,472.0C1160.9,472.8 1163.3,473.6 1165.1,473.1C1167.0,472.6 1168.1,469.5 1170.0,469.0C1171.8,468.5 1174.3,469.3 1176.2,469.8C1177.9,470.3 1179.3,471.8 1181.0,472.0C1182.9,472.2 1185.4,470.8 1187.3,470.9C1189.0,470.9 1190.3,471.8 1192.0,472.0C1194.0,472.2 1196.4,471.6 1198.4,472.0C1200.4,472.3 1202.1,473.8 1204.0,474.0C1205.8,474.2 1207.7,473.6 1209.5,473.1C1211.4,472.6 1213.2,471.0 1215.0,471.0C1216.8,471.0 1218.7,472.4 1220.5,473.1C1222.3,473.8 1224.2,475.0 1226.0,475.0C1227.9,475.0 1229.8,473.1 1231.6,473.1C1233.4,473.1 1235.1,474.8 1237.0,475.0C1238.9,475.2 1241.1,473.8 1243.0,474.0C1244.8,474.2 1246.2,475.8 1248.0,476.0C1249.8,476.3 1251.8,475.7 1253.8,475.4C1255.8,475.1 1258.1,473.8 1260.0,474.0C1261.8,474.1 1263.3,476.0 1265.0,476.0C1266.7,476.0 1268.2,474.1 1270.0,474.0C1271.9,473.9 1274.0,474.9 1276.0,475.4C1278.0,475.9 1280.0,477.1 1282.0,477.0C1284.0,476.9 1286.1,474.9 1288.0,475.0C1289.8,475.1 1291.3,476.8 1293.0,477.0C1294.7,477.2 1296.4,476.4 1298.1,476.5C1300.0,476.6 1302.1,478.1 1304.0,478.0C1305.8,477.9 1307.3,476.0 1309.0,476.0C1310.7,476.0 1312.2,477.7 1314.0,478.0C1315.9,478.3 1318.3,477.9 1320.3,477.6C1322.3,477.3 1324.2,475.9 1326.0,476.0C1327.7,476.1 1329.2,477.9 1331.0,478.0C1332.9,478.1 1335.0,476.2 1337.0,476.0C1338.8,475.8 1340.6,476.2 1342.4,476.5C1344.3,476.8 1346.2,478.1 1348.0,478.0C1349.7,477.9 1351.2,476.1 1353.0,476.0C1354.9,475.9 1357.0,477.7 1359.0,478.0C1360.9,478.2 1362.8,477.9 1364.6,477.6C1366.4,477.3 1368.2,476.0 1370.0,476.0C1372.0,476.0 1374.1,478.1 1376.0,478.0C1377.8,477.9 1379.2,476.3 1381.0,476.0C1382.8,475.7 1384.9,476.2 1386.8,476.5C1388.6,476.8 1390.2,478.0 1392.0,478.0C1393.9,478.0 1396.1,475.9 1398.0,476.0C1399.8,476.1 1401.2,477.9 1403.0,478.0C1404.9,478.1 1407.1,475.9 1409.0,476.0C1410.8,476.1 1412.2,477.7 1414.0,478.0C1415.9,478.3 1417.8,477.9 1420.0,477.6C1422.9,477.3 1426.7,475.9 1430.0,476.0C1433.3,476.1 1436.7,478.0 1440.0,478.0C1443.3,478.0 1446.7,476.1 1450.0,476.0C1453.3,475.9 1456.7,477.5 1460.0,477.5C1463.3,477.5 1466.7,475.9 1470.0,476.0C1473.3,476.1 1476.7,477.9 1480.0,478.0C1483.3,478.1 1486.7,476.7 1490.0,476.5C1493.3,476.3 1496.7,477.1 1500.0,477.0C1503.3,476.9 1506.7,475.8 1510.0,476.0C1513.3,476.2 1516.7,477.9 1520.0,478.0C1523.3,478.1 1526.8,476.6 1530.0,476.5C1532.8,476.4 1535.5,476.8 1538.0,477.0C1540.2,477.1 1542.2,477.1 1544.1,477.4C1545.8,477.6 1547.4,478.3 1549.0,478.5C1550.4,478.7 1551.7,478.9 1553.0,478.5C1554.5,478.0 1556.1,476.4 1557.4,475.2C1558.7,473.9 1559.8,472.2 1561.0,471.0C1562.0,470.0 1563.2,469.7 1564.1,468.5C1565.3,466.9 1565.9,464.2 1567.0,462.0C1568.1,459.7 1569.5,457.8 1570.7,455.2C1572.2,452.0 1574.0,447.6 1575.1,444.2C1576.0,441.3 1576.1,438.4 1577.0,436.0C1577.7,434.0 1578.6,431.0 1579.6,430.9C1580.8,430.8 1582.6,435.7 1584.0,437.5C1585.1,438.9 1585.8,440.3 1587.0,441.0C1588.1,441.7 1589.6,441.1 1590.7,442.0C1592.5,443.5 1593.3,449.3 1595.1,450.8C1596.3,451.8 1597.6,452.0 1599.0,452.0C1600.6,452.0 1602.6,451.5 1604.0,450.8C1605.2,450.1 1605.9,448.3 1607.0,448.0C1608.1,447.7 1609.5,447.8 1610.6,448.6C1612.4,449.9 1613.6,454.3 1615.0,457.5C1616.6,460.9 1617.8,468.3 1619.5,468.5C1620.9,468.6 1622.5,463.6 1623.9,461.9C1625.0,460.7 1625.9,459.7 1627.0,459.0C1628.1,458.3 1629.2,457.5 1630.5,457.5C1632.1,457.5 1634.3,458.7 1636.1,459.7C1638.0,460.8 1639.5,463.2 1641.6,464.1C1643.6,465.0 1646.1,465.5 1648.3,465.2C1650.6,464.9 1652.9,463.2 1654.9,461.9C1656.9,460.6 1658.8,457.2 1660.5,457.5C1662.6,457.9 1663.7,465.5 1666.0,466.3C1667.9,467.0 1670.6,465.2 1672.6,464.1C1674.6,463.0 1676.4,459.5 1678.2,459.7C1680.1,459.9 1681.6,464.6 1683.7,466.3C1685.7,467.9 1688.3,470.0 1690.4,469.7C1692.7,469.4 1694.4,465.2 1697.0,464.1C1699.6,463.0 1703.2,462.4 1705.9,463.0C1708.4,463.6 1710.6,467.3 1712.6,467.4C1714.2,467.5 1715.5,465.0 1717.0,465.0C1718.5,465.0 1719.9,467.4 1721.4,467.4C1722.9,467.4 1724.5,464.9 1726.0,465.0C1727.5,465.2 1728.9,468.4 1730.3,468.5C1731.6,468.6 1732.7,465.9 1734.0,466.0C1735.6,466.1 1737.3,470.6 1739.1,470.8C1740.7,471.0 1742.4,468.8 1744.0,468.0C1745.4,467.3 1746.7,466.3 1748.0,466.3C1749.3,466.3 1750.6,467.8 1752.0,468.0C1753.5,468.2 1755.4,467.2 1756.9,467.4C1758.4,467.6 1759.6,468.8 1761.0,469.0C1762.5,469.2 1764.2,468.8 1765.7,468.5C1767.2,468.2 1768.5,467.4 1770.0,467.0C1771.5,466.6 1773.0,466.1 1774.6,466.3C1776.4,466.6 1778.1,468.6 1780.0,469.0C1781.8,469.3 1783.9,468.8 1785.7,468.5C1787.5,468.2 1789.2,467.4 1791.0,467.0C1792.9,466.6 1795.0,466.0 1796.8,466.3C1798.6,466.6 1800.2,468.6 1802.0,469.0C1803.9,469.4 1806.0,468.9 1807.9,468.5C1809.7,468.2 1811.3,466.9 1813.0,467.0C1814.7,467.1 1816.3,468.6 1818.0,469.0C1819.7,469.5 1823.4,469.7 1823.4,469.7" fill="none" stroke="#4d4d4d" stroke-width="3.8" stroke-linejoin="round" stroke-linecap="round"/>
<path d="M1014.0,470.0C1014.0,470.0 1018.0,468.2 1020.0,468.0C1022.0,467.8 1024.3,469.8 1026.0,469.0C1028.1,468.0 1029.4,461.2 1031.0,461.0C1032.0,460.9 1033.1,462.7 1034.0,464.0C1035.2,465.8 1035.5,469.7 1037.0,471.0C1038.1,471.9 1039.7,472.4 1041.0,472.0C1042.8,471.4 1044.1,466.3 1046.0,466.0C1047.8,465.7 1049.9,469.7 1052.0,470.0C1053.9,470.3 1056.0,467.9 1058.0,468.0C1060.0,468.1 1062.0,471.1 1064.0,471.0C1066.0,470.9 1067.9,467.3 1070.0,467.0C1071.9,466.7 1074.1,469.3 1076.0,469.0C1078.1,468.7 1079.9,465.3 1082.0,465.0C1083.9,464.7 1086.0,466.2 1088.0,467.0C1090.0,467.8 1092.0,470.1 1094.0,470.0C1096.0,469.9 1098.0,466.1 1100.0,466.0C1102.0,465.9 1104.0,469.0 1106.0,469.0C1108.0,469.0 1110.0,466.1 1112.0,466.0C1114.0,465.9 1115.9,468.0 1118.0,468.0C1120.2,468.0 1122.7,465.9 1125.0,466.0C1127.4,466.1 1129.5,468.7 1132.0,469.0C1134.5,469.4 1137.2,468.0 1140.0,468.0C1143.1,468.0 1146.7,468.7 1150.0,469.0C1153.3,469.3 1156.7,469.8 1160.0,470.0C1163.3,470.2 1166.7,469.8 1170.0,470.0C1173.3,470.2 1176.7,471.0 1180.0,471.0C1183.3,471.0 1186.7,470.0 1190.0,470.0C1193.3,470.0 1196.7,470.8 1200.0,471.0C1203.3,471.2 1206.7,470.8 1210.0,471.0C1213.3,471.2 1216.7,471.8 1220.0,472.0C1223.3,472.2 1226.7,472.0 1230.0,472.0C1233.3,472.0 1236.7,471.8 1240.0,472.0C1243.3,472.2 1246.7,472.8 1250.0,473.0C1253.3,473.2 1256.7,473.0 1260.0,473.0C1263.3,473.0 1266.7,473.0 1270.0,473.0C1273.3,473.0 1276.7,472.8 1280.0,473.0C1283.3,473.2 1286.7,473.8 1290.0,474.0C1293.3,474.2 1296.7,474.2 1300.0,474.0C1303.3,473.8 1306.7,473.0 1310.0,473.0C1313.3,473.0 1316.7,473.8 1320.0,474.0C1323.3,474.2 1326.7,474.0 1330.0,474.0C1333.3,474.0 1336.7,474.0 1340.0,474.0C1343.3,474.0 1346.7,474.0 1350.0,474.0C1353.3,474.0 1356.7,474.0 1360.0,474.0C1363.3,474.0 1366.7,474.0 1370.0,474.0C1373.3,474.0 1376.7,474.0 1380.0,474.0C1383.3,474.0 1386.7,474.0 1390.0,474.0C1393.3,474.0 1396.7,474.0 1400.0,474.0C1403.3,474.0 1406.7,473.9 1410.0,474.0C1413.3,474.1 1417.2,474.4 1420.0,474.5C1422.0,474.5 1423.3,474.5 1425.0,474.5C1426.7,474.5 1428.3,474.5 1430.0,474.5C1431.7,474.5 1433.3,474.5 1435.0,474.5C1436.7,474.5 1438.3,474.5 1440.0,474.5C1441.7,474.5 1443.3,474.4 1445.0,474.4C1446.7,474.3 1448.3,474.3 1450.0,474.2C1451.7,474.2 1453.3,474.2 1455.0,474.1C1456.7,474.1 1458.3,474.0 1460.0,474.0C1461.7,474.0 1463.3,474.1 1465.0,474.1C1466.7,474.2 1468.3,474.2 1470.0,474.2C1471.7,474.3 1473.3,474.3 1475.0,474.4C1476.7,474.4 1478.3,474.5 1480.0,474.5C1481.7,474.5 1483.3,474.4 1485.0,474.4C1486.7,474.3 1488.3,474.3 1490.0,474.2C1491.7,474.2 1493.3,474.2 1495.0,474.1C1496.7,474.1 1498.3,474.0 1500.0,474.0C1501.7,474.0 1503.3,474.0 1505.0,474.0C1506.7,474.0 1508.3,474.0 1510.0,474.0C1511.7,474.0 1513.3,474.0 1515.0,474.0C1516.7,474.0 1518.3,474.0 1520.0,474.0C1521.7,474.0 1523.3,474.0 1525.0,474.0C1526.7,474.0 1528.3,474.0 1530.0,474.0C1531.7,474.0 1533.3,474.0 1535.0,474.0C1536.7,474.0 1538.1,474.0 1540.0,474.0C1542.4,474.0 1545.7,473.8 1548.0,474.0C1549.9,474.2 1551.5,475.3 1553.0,475.0C1554.5,474.7 1555.8,473.3 1557.0,472.0C1558.5,470.4 1559.7,468.2 1561.0,466.0C1562.4,463.6 1563.6,460.8 1565.0,458.0C1566.6,454.9 1568.3,451.1 1570.0,448.0C1571.6,445.1 1573.4,442.5 1575.0,440.0C1576.4,437.8 1577.6,434.1 1579.0,434.0C1580.3,433.9 1582.0,436.6 1583.0,438.0C1583.9,439.3 1584.1,440.6 1585.1,442.0C1586.4,444.0 1588.9,446.8 1590.7,448.6C1592.2,450.0 1593.4,451.6 1595.0,452.0C1596.5,452.4 1598.3,451.0 1600.0,451.0C1601.9,451.0 1604.0,451.4 1606.0,452.0C1608.1,452.7 1610.2,453.5 1612.0,455.0C1614.0,456.7 1615.3,460.2 1617.0,462.0C1618.3,463.3 1619.6,465.1 1621.0,465.0C1622.6,464.9 1624.1,461.2 1626.0,460.0C1627.8,458.9 1630.1,457.7 1632.0,458.0C1634.1,458.3 1636.0,460.7 1638.0,462.0C1640.0,463.3 1642.0,465.9 1644.0,466.0C1646.0,466.1 1648.0,464.0 1650.0,463.0C1652.0,462.0 1654.0,459.9 1656.0,460.0C1658.0,460.1 1659.9,463.0 1662.0,464.0C1663.9,464.9 1666.1,466.3 1668.0,466.0C1670.1,465.7 1672.0,462.0 1674.0,462.0C1676.0,462.0 1677.9,465.0 1680.0,466.0C1681.9,466.9 1684.0,468.0 1686.0,468.0C1688.0,468.0 1690.0,466.7 1692.0,466.0C1694.0,465.3 1696.0,464.0 1698.0,464.0C1700.0,464.0 1702.0,465.3 1704.0,466.0C1706.0,466.7 1708.0,467.8 1710.0,468.0C1712.0,468.2 1714.0,466.8 1716.0,467.0C1718.0,467.2 1720.0,468.5 1722.0,469.0C1724.0,469.5 1726.0,470.2 1728.0,470.0C1730.0,469.8 1732.0,468.0 1734.0,468.0C1736.0,468.0 1738.0,470.0 1740.0,470.0C1742.0,470.0 1744.0,468.0 1746.0,468.0C1748.0,468.0 1750.0,470.0 1752.0,470.0C1754.0,470.0 1756.0,468.0 1758.0,468.0C1760.0,468.0 1762.0,470.0 1764.0,470.0C1766.0,470.0 1768.0,468.0 1770.0,468.0C1772.0,468.0 1774.0,469.8 1776.0,470.0C1778.0,470.2 1780.0,468.8 1782.0,469.0C1784.0,469.2 1786.0,471.0 1788.0,471.0C1790.0,471.0 1792.0,469.2 1794.0,469.0C1796.0,468.8 1798.0,470.0 1800.0,470.0C1802.0,470.0 1804.0,468.8 1806.0,469.0C1808.0,469.2 1810.0,470.8 1812.0,471.0C1814.0,471.2 1816.1,470.0 1818.0,470.0C1819.7,470.0 1823.0,471.0 1823.0,471.0" fill="none" stroke="#4d4d4d" stroke-width="3.8" stroke-linejoin="round" stroke-linecap="round" stroke-dasharray="11.5 21.5"/>
<path d="M1014.0,470.0C1014.0,470.0 1016.8,470.2 1018.0,471.0C1019.5,472.0 1020.8,474.4 1022.0,476.0C1023.1,477.4 1024.1,480.2 1025.0,480.0C1026.3,479.8 1027.1,473.7 1028.0,470.0C1029.1,465.5 1029.6,459.1 1031.0,455.0C1032.1,451.8 1033.5,447.2 1035.0,447.0C1036.2,446.9 1037.8,449.9 1039.0,452.0C1040.6,454.7 1041.2,459.6 1043.0,462.0C1044.4,463.9 1046.3,465.7 1048.0,466.0C1049.6,466.2 1051.3,464.2 1053.0,464.0C1054.6,463.8 1056.5,465.5 1058.0,465.0C1059.9,464.3 1061.2,459.3 1063.0,459.0C1064.6,458.7 1066.5,460.5 1068.0,462.0C1069.9,463.9 1071.0,469.1 1073.0,470.0C1074.5,470.6 1076.3,469.3 1078.0,469.0C1079.7,468.7 1081.4,467.7 1083.0,468.0C1084.7,468.3 1086.3,470.3 1088.0,471.0C1089.6,471.6 1091.4,471.5 1093.0,472.0C1094.7,472.5 1096.2,473.4 1098.0,474.0C1099.9,474.7 1102.1,475.1 1104.0,476.0C1106.1,477.0 1108.0,478.6 1110.0,480.0C1112.1,481.5 1114.7,483.3 1116.5,484.8C1117.9,485.9 1118.7,486.8 1120.0,488.0C1121.6,489.5 1123.4,491.7 1125.2,493.1C1126.8,494.3 1128.3,495.1 1130.0,496.0C1131.9,497.0 1134.2,498.1 1136.3,498.6C1138.2,499.0 1140.1,498.8 1142.0,499.0C1143.8,499.2 1145.4,499.4 1147.4,499.7C1149.7,500.0 1152.4,500.6 1155.0,501.0C1157.6,501.4 1160.3,501.7 1162.9,502.0C1165.3,502.3 1167.4,502.7 1170.0,503.0C1173.0,503.4 1176.7,504.0 1180.0,504.0C1183.3,504.0 1186.7,503.3 1190.0,503.0C1193.3,502.7 1197.0,501.9 1200.0,502.0C1202.5,502.1 1204.7,503.0 1207.0,503.0C1209.3,503.0 1211.7,501.8 1213.9,502.0C1216.0,502.2 1217.9,503.4 1220.0,504.0C1222.2,504.7 1224.7,505.2 1227.0,506.0C1229.3,506.8 1232.0,507.4 1233.9,508.6C1235.7,509.7 1236.8,511.9 1238.3,513.0C1239.5,513.9 1240.7,514.3 1242.0,515.0C1243.6,515.8 1245.5,516.5 1247.1,517.5C1248.8,518.5 1250.3,519.7 1252.0,521.0C1254.0,522.5 1256.4,524.9 1258.2,526.3C1259.6,527.4 1260.7,528.0 1262.0,529.0C1263.6,530.2 1265.4,531.2 1267.1,533.0C1269.4,535.5 1271.4,540.6 1273.7,543.3C1275.4,545.3 1277.2,546.5 1279.0,548.0C1280.9,549.5 1283.4,551.0 1284.8,552.2C1285.7,553.0 1286.1,553.5 1287.0,554.4C1288.4,555.8 1290.6,558.4 1292.6,559.9C1294.4,561.2 1296.3,562.2 1298.1,563.0C1299.6,563.7 1301.0,564.2 1302.6,564.4C1304.3,564.7 1306.2,564.4 1308.0,564.4C1309.8,564.4 1311.8,564.3 1313.6,564.4C1315.2,564.5 1316.5,564.6 1318.0,565.0C1319.5,565.4 1320.9,566.3 1322.5,566.6C1324.2,567.0 1326.1,566.8 1328.0,567.0C1330.1,567.2 1332.6,567.7 1334.7,567.7C1336.6,567.7 1338.2,567.3 1340.0,567.0C1341.9,566.6 1344.0,566.0 1345.8,565.5C1347.3,565.0 1348.5,564.5 1350.0,564.0C1351.8,563.4 1353.8,562.7 1355.7,562.1C1357.7,561.4 1359.8,560.7 1362.0,560.0C1364.3,559.2 1366.8,558.6 1369.0,557.7C1371.1,556.9 1373.1,555.9 1375.0,555.0C1376.8,554.1 1378.3,553.2 1380.1,552.2C1382.0,551.2 1384.0,550.0 1386.0,549.0C1388.0,548.0 1390.0,547.1 1392.0,546.0C1394.0,544.8 1396.0,543.5 1398.0,542.0C1400.0,540.5 1401.9,538.4 1404.0,537.0C1405.9,535.7 1407.7,535.0 1410.0,534.0C1412.9,532.7 1416.6,531.0 1420.0,530.0C1423.3,529.0 1427.1,528.6 1430.0,528.0C1432.3,527.5 1434.1,527.1 1436.1,526.7C1438.1,526.3 1440.2,526.2 1442.2,525.4C1444.4,524.5 1446.4,521.9 1448.8,521.0C1451.1,520.1 1453.5,520.4 1456.0,520.0C1458.7,519.6 1461.6,519.6 1464.3,518.7C1467.3,517.8 1470.8,515.8 1473.2,514.3C1475.0,513.2 1476.1,511.7 1477.6,511.0C1479.0,510.4 1480.5,510.2 1482.0,510.0C1483.5,509.8 1485.0,510.4 1486.5,509.9C1488.3,509.3 1490.1,507.1 1492.0,506.0C1493.8,504.9 1495.7,503.7 1497.6,503.2C1499.4,502.7 1501.2,503.0 1503.0,503.0C1504.9,503.0 1506.8,503.4 1508.7,503.2C1510.5,503.0 1512.2,502.4 1514.0,502.0C1515.9,501.6 1517.9,501.6 1519.7,501.0C1521.6,500.3 1523.2,498.9 1525.0,498.0C1526.9,497.1 1528.9,496.2 1530.8,495.5C1532.6,494.9 1534.2,494.4 1536.0,494.0C1537.9,493.6 1540.2,493.9 1541.9,493.2C1543.5,492.5 1544.6,491.2 1546.0,490.0C1547.6,488.7 1549.6,487.9 1550.8,485.5C1553.0,480.9 1552.3,469.6 1553.0,461.9C1553.7,454.4 1554.3,445.8 1555.2,439.7C1555.8,435.4 1556.9,432.7 1557.4,428.7C1558.0,424.0 1558.2,418.9 1558.5,413.1C1558.9,405.9 1559.2,396.0 1559.6,388.8C1559.9,383.0 1560.5,378.7 1560.7,373.2C1561.0,367.0 1560.8,359.8 1560.9,353.3C1561.0,347.1 1560.8,340.9 1561.1,335.3C1561.4,330.3 1561.7,325.7 1562.5,321.3C1563.2,317.3 1563.4,310.9 1565.3,310.0C1566.7,309.4 1569.7,313.5 1570.9,312.8C1572.6,311.8 1571.3,304.8 1571.5,300.0C1571.8,293.9 1571.9,285.7 1572.3,279.1C1572.7,273.2 1573.3,267.8 1573.8,262.2C1574.3,256.6 1574.7,250.2 1575.2,245.3C1575.6,241.4 1576.0,238.2 1576.5,235.0C1576.9,232.2 1577.3,229.8 1578.0,227.0C1578.7,223.9 1579.7,217.3 1580.8,217.2C1581.6,217.1 1582.7,220.2 1583.5,222.0C1584.5,224.3 1585.3,229.9 1586.4,229.9C1587.6,229.9 1588.9,221.6 1590.6,220.0C1591.5,219.2 1592.6,218.7 1593.5,219.0C1594.6,219.3 1595.4,221.0 1596.3,222.8C1597.9,225.9 1599.0,234.0 1600.5,236.9C1601.3,238.4 1602.1,239.1 1603.0,240.0C1603.9,240.9 1605.1,241.0 1606.1,242.5C1608.3,245.8 1610.5,256.1 1611.7,262.2C1612.7,267.2 1612.5,271.6 1613.1,276.3C1613.7,281.0 1614.7,285.4 1615.4,290.3C1616.2,295.7 1615.5,306.5 1617.4,307.2C1618.7,307.6 1621.6,301.2 1623.0,301.6C1624.6,302.0 1624.9,308.3 1626.0,312.0C1627.2,316.1 1628.4,321.0 1630.0,325.0C1631.4,328.6 1633.2,331.7 1635.0,335.0C1636.8,338.4 1639.0,341.3 1641.0,345.0C1643.4,349.4 1645.7,355.0 1648.0,360.0C1650.3,365.0 1652.8,370.7 1655.0,375.0C1656.7,378.4 1658.2,381.1 1660.0,384.0C1661.8,386.8 1663.9,389.6 1666.0,392.0C1667.9,394.2 1670.1,395.8 1672.0,398.0C1674.1,400.4 1676.0,403.3 1678.0,406.0C1680.0,408.7 1681.9,411.6 1684.0,414.0C1685.9,416.2 1687.9,418.3 1690.0,420.0C1691.9,421.6 1694.0,422.7 1696.0,424.0C1698.0,425.3 1700.0,426.7 1702.0,428.0C1704.0,429.3 1706.0,430.5 1708.0,432.0C1710.0,433.5 1712.0,435.5 1714.0,437.0C1716.0,438.5 1718.0,439.8 1720.0,441.0C1722.0,442.1 1724.0,443.0 1726.0,444.0C1728.0,445.0 1729.9,445.9 1732.0,447.0C1734.5,448.2 1737.3,450.0 1740.0,451.0C1742.6,452.0 1745.4,452.2 1748.0,453.0C1750.7,453.8 1753.3,455.2 1756.0,456.0C1758.6,456.8 1761.3,457.3 1764.0,458.0C1766.7,458.7 1769.3,459.3 1772.0,460.0C1774.7,460.7 1777.2,461.5 1780.0,462.0C1783.1,462.5 1786.7,462.8 1790.0,463.0C1793.3,463.2 1796.7,462.8 1800.0,463.0C1803.3,463.2 1806.8,463.8 1810.0,464.0C1812.8,464.1 1815.5,463.8 1818.0,464.0C1820.2,464.2 1824.0,465.0 1824.0,465.0" fill="none" stroke="#1767d9" stroke-width="3.8" stroke-linejoin="round" stroke-linecap="round" stroke-dasharray="11.5 21.5"/>
<path d="M1014.0,468.0C1014.0,468.0 1018.2,467.6 1020.0,466.0C1023.0,463.3 1025.0,450.5 1027.4,450.0C1028.6,449.7 1030.0,451.3 1031.0,453.0C1033.1,456.4 1033.9,466.0 1035.0,471.7C1035.9,476.4 1035.8,482.4 1037.2,484.8C1037.9,486.1 1039.1,487.0 1040.0,487.0C1040.9,487.0 1041.8,486.0 1042.6,484.8C1044.1,482.4 1044.4,474.6 1045.9,471.7C1046.8,470.0 1047.8,468.3 1049.0,468.0C1050.2,467.8 1051.7,469.3 1053.0,470.0C1054.3,470.7 1055.8,472.1 1057.0,472.0C1058.1,471.9 1058.9,470.6 1060.0,470.0C1061.2,469.3 1062.7,467.9 1064.0,468.0C1065.4,468.1 1066.7,471.2 1068.0,471.0C1069.4,470.8 1070.8,466.0 1072.0,466.0C1073.1,466.0 1073.8,469.0 1075.0,470.0C1076.1,471.0 1077.8,472.3 1079.0,472.0C1080.5,471.7 1081.5,467.3 1083.0,467.0C1084.2,466.7 1085.8,468.3 1087.0,469.0C1088.1,469.6 1089.1,471.2 1090.0,471.0C1091.2,470.7 1091.7,466.8 1093.0,466.0C1094.1,465.4 1095.9,465.4 1097.0,466.0C1098.3,466.6 1098.8,469.0 1100.0,470.0C1101.1,471.0 1102.7,472.2 1104.0,472.0C1105.4,471.8 1106.5,468.4 1108.0,468.0C1109.2,467.7 1110.7,468.5 1112.0,469.0C1113.4,469.5 1114.6,470.5 1116.0,471.0C1117.3,471.5 1118.6,471.7 1120.0,472.0C1121.6,472.4 1123.3,472.7 1125.0,473.0C1126.7,473.3 1128.2,473.6 1130.0,474.0C1132.1,474.5 1134.6,475.5 1137.0,476.0C1139.6,476.5 1142.4,476.5 1145.0,477.0C1147.4,477.5 1149.6,478.7 1152.0,479.0C1154.6,479.4 1157.3,478.8 1160.0,479.0C1162.7,479.2 1165.3,479.5 1168.0,480.0C1170.7,480.5 1173.7,481.2 1176.0,482.0C1177.9,482.6 1179.2,483.6 1181.0,484.0C1182.9,484.4 1185.3,483.9 1187.3,484.2C1189.3,484.5 1191.1,485.9 1193.0,486.0C1194.7,486.1 1196.3,484.9 1198.0,485.0C1199.9,485.1 1202.0,486.8 1204.0,487.0C1205.9,487.2 1207.7,486.7 1209.5,486.4C1211.3,486.1 1213.2,485.0 1215.0,485.0C1216.7,485.0 1218.4,486.2 1220.0,486.0C1221.7,485.8 1223.2,484.3 1225.0,484.0C1227.0,483.6 1229.5,483.8 1231.6,484.2C1233.5,484.5 1235.2,486.1 1237.0,486.0C1238.7,485.9 1240.2,484.2 1242.0,484.0C1243.9,483.8 1246.0,485.0 1248.0,485.0C1249.9,485.0 1251.8,484.2 1253.8,484.2C1255.8,484.2 1258.1,485.2 1260.0,485.0C1261.8,484.8 1263.3,483.0 1265.0,483.0C1266.7,483.0 1268.2,484.8 1270.0,485.0C1271.9,485.2 1274.0,484.4 1276.0,484.2C1278.0,484.0 1280.1,483.8 1282.0,484.0C1283.8,484.1 1285.4,485.2 1287.0,485.0C1288.7,484.8 1290.2,483.3 1292.0,483.0C1293.9,482.7 1296.1,482.9 1298.1,483.1C1300.1,483.3 1302.1,483.7 1304.0,484.0C1305.7,484.3 1307.3,485.0 1309.0,485.0C1310.9,485.0 1313.1,484.1 1315.0,484.0C1316.8,483.9 1318.5,484.0 1320.3,484.2C1322.2,484.4 1324.2,485.1 1326.0,485.0C1327.7,484.9 1329.3,484.0 1331.0,484.0C1332.9,484.0 1335.1,485.0 1337.0,485.0C1338.8,485.0 1340.4,484.2 1342.4,484.2C1344.7,484.2 1347.3,484.7 1350.0,485.0C1353.2,485.4 1357.3,485.8 1360.2,486.4C1362.4,486.9 1364.0,487.3 1366.0,488.0C1368.4,488.8 1371.1,490.0 1373.5,490.9C1375.7,491.7 1377.8,492.3 1380.0,493.0C1382.2,493.7 1384.4,494.5 1386.8,495.3C1389.4,496.2 1392.2,496.9 1395.0,498.0C1398.1,499.2 1401.5,501.0 1404.5,502.0C1407.1,502.9 1409.5,503.3 1412.0,504.0C1414.6,504.7 1417.3,505.6 1420.0,506.4C1422.9,507.2 1426.0,507.7 1428.9,508.8C1431.9,509.9 1434.7,512.2 1437.7,513.2C1440.4,514.2 1443.2,514.5 1446.0,515.0C1448.9,515.5 1452.0,515.4 1455.0,516.0C1458.1,516.6 1461.2,517.9 1464.3,518.7C1467.3,519.5 1470.7,520.8 1473.2,520.9C1475.0,521.0 1476.3,520.3 1478.0,520.0C1480.0,519.6 1482.2,519.0 1484.3,518.7C1486.2,518.4 1488.1,518.2 1490.0,518.0C1491.8,517.8 1493.6,517.6 1495.4,517.6C1497.2,517.6 1499.2,517.8 1501.0,518.0C1502.8,518.2 1504.6,518.4 1506.4,518.7C1508.3,519.0 1510.1,519.6 1512.0,520.0C1513.8,520.4 1515.7,521.2 1517.5,520.9C1519.4,520.6 1521.1,518.9 1523.0,518.0C1524.8,517.1 1526.6,515.7 1528.6,515.4C1530.6,515.1 1532.8,515.6 1535.0,516.0C1537.3,516.4 1539.7,517.6 1541.9,517.6C1544.0,517.6 1546.2,516.9 1548.0,516.0C1549.9,515.1 1551.7,513.8 1553.0,512.0C1554.6,509.8 1555.1,506.3 1556.0,503.0C1557.0,499.1 1557.9,493.9 1558.5,490.0C1559.0,486.7 1559.0,483.9 1559.6,481.0C1560.1,478.2 1561.0,476.1 1561.8,473.0C1562.8,468.8 1563.9,462.6 1565.0,458.0C1566.0,454.0 1567.0,450.5 1568.0,447.0C1568.9,443.7 1569.9,441.1 1570.7,437.5C1571.7,433.0 1572.4,427.9 1572.9,422.0C1573.6,414.3 1573.6,403.7 1574.0,395.0C1574.4,386.8 1574.1,377.8 1575.1,371.0C1575.9,365.9 1577.2,357.9 1578.5,357.7C1579.3,357.6 1580.2,360.3 1581.0,362.0C1582.0,364.2 1582.6,369.5 1584.0,369.9C1585.1,370.2 1586.6,367.3 1588.0,367.0C1589.2,366.7 1590.8,367.0 1591.8,367.7C1592.9,368.5 1593.2,370.3 1594.0,372.0C1595.0,374.2 1595.9,377.7 1597.3,379.9C1598.6,381.9 1600.4,383.5 1602.0,385.0C1603.4,386.4 1604.7,388.2 1606.2,388.8C1607.6,389.3 1609.5,388.0 1610.6,388.8C1612.0,389.8 1612.2,393.7 1613.0,396.0C1613.7,398.1 1614.1,399.7 1615.0,402.1C1616.3,405.7 1618.9,415.4 1620.6,415.4C1622.2,415.4 1623.2,404.6 1625.0,404.3C1626.6,404.0 1628.7,409.0 1630.5,410.9C1632.0,412.5 1633.5,413.7 1635.0,415.0C1636.5,416.3 1637.9,418.7 1639.4,418.7C1640.9,418.7 1642.4,416.0 1644.0,415.0C1645.4,414.1 1647.0,412.9 1648.3,413.1C1649.6,413.3 1650.7,415.0 1652.0,416.0C1653.6,417.2 1655.3,418.5 1657.1,419.8C1659.2,421.2 1661.7,423.4 1663.8,424.2C1665.3,424.8 1666.6,424.8 1668.0,425.0C1669.5,425.2 1671.2,424.8 1672.7,425.3C1674.2,425.8 1675.6,427.1 1677.0,428.0C1678.5,428.9 1679.8,429.7 1681.5,430.9C1683.8,432.6 1686.9,436.2 1689.3,437.5C1691.0,438.4 1692.4,438.6 1694.0,439.0C1695.7,439.4 1697.4,439.1 1699.3,439.7C1701.9,440.5 1705.6,443.1 1708.1,444.2C1709.9,445.0 1711.2,445.6 1713.0,446.0C1714.9,446.4 1716.9,445.9 1719.2,446.4C1722.4,447.1 1727.2,449.9 1730.3,450.8C1732.5,451.5 1734.1,451.6 1736.0,452.0C1737.8,452.4 1739.3,452.6 1741.4,453.0C1744.4,453.6 1749.4,454.4 1752.4,455.2C1754.6,455.8 1756.0,456.3 1758.0,457.0C1760.4,457.8 1763.0,459.1 1765.7,459.7C1768.5,460.4 1771.8,460.6 1774.6,460.8C1777.2,461.0 1779.5,461.0 1782.0,461.0C1784.6,461.0 1787.2,460.9 1790.0,461.0C1793.2,461.2 1796.7,462.0 1800.0,462.0C1803.3,462.0 1806.9,461.0 1810.0,461.0C1812.8,461.0 1815.5,461.8 1818.0,462.0C1820.1,462.1 1824.0,462.0 1824.0,462.0" fill="none" stroke="#eb3a3d" stroke-width="3.8" stroke-linejoin="round" stroke-linecap="round" stroke-dasharray="11.5 21.5"/>
<path d="M1013.3,466.3C1013.3,466.3 1015.7,465.2 1017.0,465.0C1018.3,464.8 1019.7,465.0 1020.9,465.2C1022.0,465.4 1023.0,465.7 1024.0,466.0C1025.1,466.4 1026.3,466.6 1027.4,467.4C1028.8,468.4 1030.3,471.5 1031.7,471.7C1032.8,471.9 1033.9,470.3 1035.0,470.0C1036.1,469.7 1037.3,469.3 1038.3,469.6C1039.3,469.9 1039.9,471.6 1041.0,472.0C1042.1,472.4 1043.5,472.0 1044.8,471.7C1046.2,471.4 1047.5,470.3 1049.0,470.0C1050.4,469.7 1052.0,469.3 1053.5,469.6C1055.0,469.9 1056.5,471.7 1058.0,472.0C1059.4,472.3 1060.9,472.2 1062.2,471.7C1063.6,471.2 1064.6,469.4 1066.0,469.0C1067.5,468.6 1069.4,468.9 1070.9,469.6C1072.5,470.4 1073.9,473.9 1075.2,473.9C1076.2,473.9 1076.9,471.7 1078.0,471.0C1079.1,470.3 1080.5,470.1 1081.7,469.6C1082.8,469.1 1084.0,467.8 1085.0,468.0C1086.2,468.2 1087.2,471.7 1088.3,471.7C1089.5,471.7 1090.6,469.1 1092.0,468.0C1093.5,466.9 1095.6,464.9 1097.0,465.2C1098.3,465.4 1098.9,467.9 1100.0,469.0C1101.1,470.1 1102.2,471.5 1103.5,471.7C1104.9,471.9 1106.5,470.3 1108.0,470.0C1109.4,469.7 1111.0,469.2 1112.2,469.6C1113.3,470.0 1114.0,471.3 1115.0,472.0C1116.1,472.7 1117.4,473.9 1118.7,473.9C1120.1,473.9 1121.6,472.7 1123.0,472.0C1124.5,471.3 1126.1,469.3 1127.4,469.6C1129.1,470.0 1130.0,475.6 1131.9,476.5C1133.4,477.2 1135.3,475.7 1137.0,476.0C1139.0,476.3 1141.1,478.4 1143.0,478.7C1144.7,478.9 1146.3,477.9 1148.0,478.0C1149.9,478.1 1152.1,479.5 1154.1,479.8C1156.1,480.1 1158.1,479.6 1160.0,480.0C1161.8,480.4 1163.4,481.5 1165.1,482.0C1166.7,482.5 1168.3,482.4 1170.0,483.0C1172.0,483.7 1174.1,485.1 1176.2,486.4C1178.4,487.8 1180.8,490.6 1182.9,490.9C1184.7,491.1 1186.2,489.4 1188.0,489.0C1189.9,488.6 1192.1,488.3 1194.0,488.7C1195.8,489.0 1197.2,490.6 1199.0,491.0C1200.9,491.4 1203.2,491.4 1205.0,490.9C1206.8,490.4 1208.2,488.4 1210.0,488.0C1211.9,487.6 1214.2,488.2 1216.1,488.7C1217.9,489.2 1219.2,490.6 1221.0,491.0C1222.9,491.4 1225.2,491.4 1227.2,490.9C1229.2,490.4 1231.1,488.1 1233.0,488.0C1234.7,487.9 1236.3,489.9 1238.0,490.0C1239.6,490.1 1241.1,488.7 1242.7,488.7C1244.4,488.7 1246.2,489.8 1248.0,490.0C1249.9,490.2 1251.9,490.1 1253.8,489.8C1255.9,489.5 1258.1,487.9 1260.0,488.0C1261.8,488.1 1263.3,490.0 1265.0,490.0C1266.7,490.0 1268.2,488.2 1270.0,488.0C1271.9,487.8 1274.0,488.4 1276.0,488.7C1278.0,489.0 1280.1,490.2 1282.0,490.0C1283.8,489.9 1285.3,488.0 1287.0,488.0C1288.7,488.0 1290.2,489.7 1292.0,490.0C1293.9,490.3 1296.2,490.2 1298.1,489.8C1299.9,489.5 1301.2,488.2 1303.0,488.0C1304.9,487.8 1307.2,488.2 1309.2,488.7C1311.2,489.2 1313.1,490.3 1315.0,491.0C1316.8,491.7 1318.6,492.6 1320.3,493.1C1321.9,493.6 1323.3,493.7 1325.0,494.0C1327.0,494.4 1329.3,494.8 1331.4,495.3C1333.3,495.8 1335.2,496.3 1337.0,497.0C1338.8,497.7 1340.6,498.9 1342.4,499.7C1344.2,500.5 1346.1,501.2 1348.0,502.0C1349.8,502.7 1351.7,503.4 1353.5,504.2C1355.4,505.0 1357.2,505.9 1359.0,507.0C1360.9,508.1 1362.7,509.8 1364.6,510.8C1366.4,511.7 1368.2,512.3 1370.0,513.0C1371.9,513.7 1373.9,514.4 1375.7,515.2C1377.5,516.0 1379.2,517.1 1381.0,518.0C1382.9,519.0 1384.9,519.9 1386.8,520.8C1388.6,521.6 1390.2,522.3 1392.0,523.0C1393.9,523.8 1396.0,524.5 1397.9,525.2C1399.7,525.8 1401.2,526.5 1403.0,527.0C1404.9,527.6 1407.0,528.2 1408.9,528.5C1410.6,528.7 1412.2,528.6 1414.0,528.6C1415.9,528.6 1418.1,528.4 1420.0,528.7C1421.8,528.9 1423.2,529.6 1425.0,530.0C1426.9,530.4 1429.2,530.9 1431.1,530.9C1432.8,530.9 1434.3,530.0 1436.0,530.0C1437.9,530.0 1440.3,530.7 1442.2,530.9C1443.9,531.0 1445.3,531.0 1447.0,531.0C1448.9,531.0 1451.3,530.9 1453.2,530.9C1454.9,530.9 1456.3,530.7 1458.0,531.0C1460.0,531.3 1462.4,533.2 1464.3,533.1C1466.0,533.0 1467.3,531.7 1469.0,531.0C1471.0,530.2 1473.4,529.0 1475.4,528.7C1477.0,528.5 1478.3,529.0 1480.0,529.0C1482.0,529.0 1484.4,528.9 1486.5,528.7C1488.4,528.5 1490.2,528.2 1492.0,528.0C1493.9,527.8 1495.8,527.8 1497.6,527.6C1499.4,527.4 1501.2,527.4 1503.0,527.0C1504.9,526.6 1506.9,525.5 1508.7,525.4C1510.2,525.3 1511.6,525.6 1513.0,526.0C1514.5,526.4 1516.0,527.7 1517.5,527.6C1519.0,527.5 1520.5,525.7 1522.0,525.0C1523.5,524.3 1524.8,523.7 1526.4,523.2C1528.1,522.7 1530.1,522.2 1532.0,522.0C1533.8,521.8 1535.7,522.3 1537.5,522.1C1539.3,521.9 1541.2,521.4 1543.0,521.0C1544.8,520.6 1546.9,520.7 1548.5,519.8C1550.2,518.9 1551.8,517.4 1553.0,515.4C1554.6,512.7 1555.4,508.7 1556.3,504.3C1557.5,498.2 1558.0,489.6 1558.5,482.2C1559.1,474.8 1559.2,468.6 1559.6,460.0C1560.2,448.1 1560.9,429.8 1561.8,417.6C1562.5,408.3 1563.1,393.2 1564.1,393.2C1565.0,393.2 1566.3,410.9 1567.4,410.9C1568.5,410.9 1569.4,398.0 1570.7,393.2C1571.7,389.7 1573.1,388.3 1574.0,384.3C1575.6,376.8 1575.5,359.2 1576.2,351.1C1576.6,346.4 1576.9,344.0 1577.4,340.0C1578.0,335.4 1578.5,325.3 1579.6,325.1C1580.3,325.0 1581.2,328.0 1582.0,330.0C1583.1,332.8 1583.8,340.6 1585.1,340.7C1586.2,340.8 1587.5,334.9 1589.0,333.0C1590.2,331.5 1591.9,329.3 1592.9,329.6C1594.3,330.1 1594.1,336.5 1595.1,340.0C1596.2,343.7 1597.7,350.5 1599.5,351.1C1600.6,351.5 1601.9,349.8 1603.0,349.0C1604.1,348.3 1605.2,346.3 1606.2,346.6C1608.0,347.2 1609.1,355.8 1610.6,360.0C1612.0,363.9 1613.6,367.0 1615.0,371.0C1616.6,375.7 1618.2,386.5 1619.5,386.5C1620.5,386.5 1621.1,380.9 1622.0,378.0C1622.9,375.0 1623.6,369.0 1625.0,368.8C1626.4,368.6 1628.9,375.1 1630.5,377.7C1631.8,379.7 1632.8,381.5 1634.0,383.0C1635.0,384.3 1635.9,385.3 1637.2,386.5C1638.9,388.0 1641.7,389.2 1643.8,391.0C1646.1,392.9 1648.6,397.5 1650.5,397.6C1651.8,397.7 1652.8,395.8 1654.0,395.0C1655.0,394.3 1656.0,392.9 1657.1,393.2C1659.2,393.7 1661.8,401.1 1663.8,404.3C1665.4,406.8 1666.9,410.9 1668.2,410.9C1669.2,410.9 1669.9,408.1 1671.0,407.0C1672.1,405.9 1673.6,404.2 1674.8,404.3C1676.0,404.4 1676.9,406.6 1678.0,408.0C1679.2,409.5 1680.2,411.4 1681.5,413.1C1682.9,415.0 1684.5,417.1 1686.0,419.0C1687.5,420.8 1688.8,423.0 1690.4,424.2C1691.8,425.2 1693.5,425.6 1695.0,426.0C1696.4,426.3 1697.6,426.1 1699.3,426.4C1701.7,426.8 1705.7,427.3 1708.1,428.7C1710.2,430.0 1711.4,432.5 1713.0,434.0C1714.4,435.3 1715.6,437.2 1717.0,437.5C1718.3,437.7 1719.6,436.4 1721.0,436.0C1722.5,435.6 1724.4,434.6 1725.8,435.3C1727.6,436.2 1728.5,440.4 1730.0,443.0C1731.5,445.6 1733.1,450.6 1734.7,450.8C1736.1,450.9 1737.4,447.1 1739.0,446.0C1740.4,445.0 1742.1,444.2 1743.6,444.2C1745.1,444.2 1746.6,445.3 1748.0,446.0C1749.5,446.7 1750.9,447.6 1752.4,448.6C1753.9,449.6 1755.5,450.9 1757.0,452.0C1758.5,453.1 1759.8,455.2 1761.3,455.2C1762.8,455.2 1764.4,452.7 1766.0,452.0C1767.4,451.4 1768.8,450.6 1770.2,450.8C1771.8,451.1 1773.5,452.9 1775.0,454.0C1776.4,455.1 1777.5,457.3 1779.0,457.5C1780.5,457.7 1782.4,455.6 1784.0,455.0C1785.4,454.5 1786.6,453.9 1787.9,454.1C1789.3,454.4 1790.6,455.9 1792.0,457.0C1793.6,458.2 1795.1,460.3 1796.8,460.8C1798.4,461.2 1800.2,460.2 1802.0,460.0C1803.9,459.8 1806.0,460.1 1807.9,459.7C1809.7,459.4 1811.2,458.4 1813.0,458.0C1814.9,457.6 1817.0,457.4 1818.9,457.5C1820.8,457.6 1824.5,458.6 1824.5,458.6" fill="none" stroke="#eb3a3d" stroke-width="3.8" stroke-linejoin="round" stroke-linecap="round"/>
<path d="M1013.3,469.6C1013.3,469.6 1015.2,470.4 1016.0,471.0C1017.0,471.7 1017.9,472.4 1018.7,473.9C1020.3,477.1 1021.0,484.9 1022.0,491.3C1023.2,499.1 1024.2,517.4 1025.2,517.4C1026.4,517.4 1027.4,493.8 1028.5,482.6C1029.5,472.1 1030.4,460.6 1031.7,452.2C1032.7,446.2 1033.7,437.1 1035.0,437.0C1036.0,436.9 1037.2,442.5 1038.3,445.7C1039.7,449.6 1040.8,457.3 1042.6,458.7C1043.3,459.3 1044.2,459.0 1045.0,459.0C1045.9,459.0 1046.9,458.4 1048.0,458.7C1049.6,459.2 1051.6,462.3 1053.5,463.0C1055.2,463.6 1057.4,464.0 1058.9,463.0C1061.1,461.5 1061.5,452.6 1063.3,452.2C1064.6,451.9 1066.4,454.3 1067.6,456.5C1069.8,460.5 1070.7,470.0 1072.0,476.1C1073.2,481.5 1074.2,491.3 1075.2,491.3C1076.3,491.3 1076.8,478.2 1078.5,473.9C1079.7,471.1 1081.4,467.4 1082.8,467.4C1084.3,467.4 1085.5,472.0 1087.2,473.9C1088.8,475.6 1091.1,476.3 1092.6,478.3C1094.6,480.9 1095.2,488.7 1097.0,489.1C1098.3,489.4 1100.0,485.1 1101.3,484.8C1102.2,484.6 1103.0,485.7 1104.0,486.0C1105.1,486.4 1106.6,486.5 1107.8,487.0C1109.0,487.5 1109.9,488.3 1111.0,489.0C1112.1,489.7 1113.3,490.0 1114.3,491.3C1116.0,493.4 1117.1,499.0 1118.6,502.0C1119.7,504.3 1120.9,506.1 1122.0,508.0C1123.1,509.8 1124.2,513.0 1125.2,513.0C1126.2,513.0 1127.0,509.7 1128.0,508.0C1129.2,506.1 1130.6,502.1 1131.9,502.0C1132.9,501.9 1133.9,503.9 1135.0,505.0C1136.1,506.1 1137.3,507.4 1138.5,508.6C1139.7,509.8 1140.9,510.9 1142.0,512.0C1143.1,513.1 1144.2,515.3 1145.2,515.2C1146.4,515.1 1147.3,511.5 1148.5,510.0C1149.5,508.6 1150.5,507.2 1151.8,506.4C1153.0,505.6 1154.5,505.4 1156.0,505.0C1157.5,504.6 1159.3,504.0 1160.7,504.2C1161.9,504.4 1162.9,506.0 1164.0,506.0C1165.1,506.0 1166.3,504.0 1167.4,504.2C1168.7,504.5 1169.9,507.5 1171.0,509.0C1172.0,510.4 1173.0,513.0 1174.0,513.0C1175.0,513.0 1175.9,510.4 1177.0,509.0C1178.2,507.5 1179.2,505.4 1180.7,504.2C1182.2,503.1 1184.2,502.6 1186.0,502.0C1187.8,501.4 1190.2,500.4 1191.7,500.8C1193.1,501.2 1193.9,502.8 1195.0,504.0C1196.2,505.4 1197.1,507.4 1198.4,508.6C1199.5,509.6 1200.9,510.2 1202.0,511.0C1203.0,511.7 1203.9,512.5 1205.0,513.0C1206.2,513.5 1207.6,513.7 1209.0,514.0C1210.6,514.4 1212.4,514.5 1213.9,515.2C1215.4,515.9 1216.6,517.0 1218.0,518.0C1219.6,519.2 1221.1,521.3 1222.8,521.9C1224.2,522.4 1225.6,521.7 1227.0,522.0C1228.5,522.4 1230.3,522.8 1231.6,524.1C1233.5,525.9 1234.7,529.6 1236.1,533.0C1237.8,537.2 1238.6,544.7 1240.5,547.7C1241.5,549.4 1242.9,549.9 1244.0,551.0C1245.1,552.1 1246.1,553.0 1247.1,554.4C1248.4,556.2 1249.6,558.6 1251.0,561.0C1252.6,563.7 1254.3,567.4 1256.0,569.9C1257.3,571.9 1258.6,573.2 1260.0,575.0C1261.5,576.9 1263.2,579.4 1264.9,581.0C1266.2,582.3 1267.6,582.9 1269.0,584.0C1270.5,585.1 1272.2,586.7 1273.7,587.6C1274.9,588.3 1275.9,588.3 1277.0,589.0C1278.2,589.8 1279.3,591.2 1280.4,592.1C1281.3,592.8 1282.1,593.2 1283.0,594.0C1284.3,595.2 1285.5,598.2 1287.0,598.7C1288.2,599.1 1289.6,598.2 1291.0,598.0C1292.5,597.8 1294.3,597.6 1295.9,597.6C1297.3,597.6 1298.6,597.8 1300.0,598.0C1301.5,598.2 1303.2,598.8 1304.8,598.7C1306.5,598.6 1308.2,597.4 1310.0,597.0C1311.9,596.6 1314.0,596.9 1315.8,596.5C1317.3,596.2 1318.6,595.5 1320.0,595.0C1321.5,594.4 1323.2,593.9 1324.7,593.2C1326.2,592.5 1327.5,591.6 1329.0,591.0C1330.5,590.4 1332.1,590.4 1333.6,589.8C1335.1,589.1 1336.5,587.9 1338.0,587.0C1339.5,586.1 1340.9,585.3 1342.4,584.3C1343.9,583.3 1345.5,581.9 1347.0,581.0C1348.4,580.1 1349.8,579.6 1351.3,578.8C1352.8,577.9 1354.5,577.0 1356.0,576.0C1357.5,575.1 1358.9,574.2 1360.2,573.2C1361.5,572.2 1362.7,571.2 1364.0,570.0C1365.6,568.6 1367.2,566.8 1369.0,565.5C1370.8,564.2 1372.9,563.4 1375.0,562.0C1377.4,560.4 1379.9,558.3 1382.3,556.6C1384.6,555.0 1386.8,553.5 1389.0,552.0C1391.2,550.5 1393.4,549.1 1395.6,547.7C1397.7,546.4 1399.8,545.3 1402.0,544.0C1404.3,542.7 1406.8,541.2 1408.9,540.0C1410.7,538.9 1412.3,538.2 1414.0,537.0C1416.0,535.6 1418.0,533.2 1420.0,532.2C1421.7,531.4 1423.3,531.5 1425.0,531.0C1427.0,530.4 1429.2,529.6 1431.1,528.7C1432.9,527.9 1434.3,527.0 1436.0,526.0C1438.0,524.8 1440.5,523.5 1442.2,522.1C1443.7,520.8 1444.6,519.3 1446.0,518.0C1447.5,516.7 1449.2,515.1 1451.0,514.3C1452.8,513.5 1454.9,513.4 1457.0,513.0C1459.3,512.6 1462.2,513.2 1464.3,512.1C1466.6,511.0 1468.1,508.0 1470.0,506.0C1471.8,504.0 1473.5,500.7 1475.4,499.9C1476.9,499.3 1478.5,499.6 1480.0,500.0C1481.5,500.4 1482.9,502.3 1484.3,502.1C1485.9,501.9 1487.5,499.3 1489.0,498.0C1490.4,496.8 1491.6,494.8 1493.1,494.4C1494.3,494.0 1495.6,494.8 1497.0,495.0C1498.6,495.2 1500.5,495.9 1502.0,495.5C1503.5,495.2 1504.6,493.7 1506.0,493.0C1507.5,492.2 1509.4,491.3 1510.9,491.0C1512.0,490.8 1512.9,490.8 1514.0,491.0C1515.1,491.2 1516.3,492.3 1517.5,492.1C1519.0,491.9 1520.5,489.9 1522.0,489.0C1523.5,488.1 1524.9,487.3 1526.4,486.6C1527.9,485.9 1529.5,485.6 1531.0,485.0C1532.4,484.5 1533.9,484.0 1535.2,483.3C1536.5,482.6 1537.8,481.8 1539.0,481.0C1540.1,480.3 1541.1,479.7 1541.9,478.8C1542.8,477.8 1543.3,476.4 1544.0,475.0C1544.8,473.2 1545.6,471.1 1546.3,468.9C1547.1,466.2 1547.9,463.9 1548.5,460.0C1549.5,452.8 1549.2,440.0 1549.7,428.7C1550.3,415.2 1551.2,399.1 1551.9,384.3C1552.6,369.5 1553.3,350.4 1554.1,340.0C1554.5,334.3 1555.1,332.1 1555.5,326.9C1556.1,319.3 1556.4,308.2 1556.9,298.8C1557.4,289.4 1557.6,279.7 1558.3,270.6C1559.0,261.9 1559.5,245.6 1561.1,245.3C1561.9,245.2 1563.1,248.6 1563.9,251.0C1565.1,254.6 1566.0,265.0 1566.7,265.0C1567.5,265.0 1568.0,254.3 1568.5,247.6C1569.2,238.3 1569.6,225.0 1570.4,214.4C1571.2,204.6 1572.2,195.7 1573.2,186.3C1574.2,176.9 1575.0,158.3 1576.6,158.1C1577.4,158.0 1578.6,162.2 1579.5,165.0C1580.7,168.8 1581.7,179.2 1582.8,179.2C1583.9,179.2 1584.7,168.4 1586.0,163.0C1587.3,157.6 1589.3,146.8 1590.6,146.9C1592.0,147.0 1592.9,158.7 1594.0,165.0C1595.2,171.8 1596.5,179.8 1597.7,186.3C1598.7,191.9 1598.5,199.3 1600.5,201.7C1601.6,203.0 1603.7,202.1 1604.7,203.1C1606.0,204.4 1606.2,207.3 1607.0,210.0C1608.1,213.6 1609.2,217.8 1610.3,222.8C1611.8,229.8 1613.3,239.9 1614.5,248.1C1615.6,255.8 1616.1,270.5 1617.4,270.6C1618.2,270.7 1619.2,262.2 1620.2,262.2C1621.5,262.2 1623.1,271.0 1624.4,276.3C1626.0,282.9 1627.1,291.9 1628.6,298.8C1629.9,304.9 1630.2,314.2 1632.8,315.7C1634.3,316.6 1636.8,313.5 1638.5,314.2C1640.8,315.2 1642.3,320.4 1644.1,324.1C1646.1,328.3 1647.1,336.4 1649.7,338.2C1651.3,339.3 1653.9,337.3 1655.3,338.2C1656.9,339.3 1657.2,342.2 1658.0,345.0C1659.1,349.0 1659.5,355.0 1660.5,360.0C1661.5,365.1 1662.0,372.7 1663.8,375.5C1664.7,376.9 1665.8,377.7 1667.0,378.0C1668.1,378.3 1669.2,377.3 1670.4,377.7C1672.4,378.4 1675.4,381.2 1677.1,384.3C1679.5,388.6 1680.0,396.4 1681.5,402.1C1682.9,407.5 1683.8,416.5 1686.0,417.6C1687.1,418.2 1688.6,416.7 1690.0,416.0C1691.6,415.2 1693.4,412.9 1694.8,413.1C1696.1,413.3 1696.9,415.6 1698.0,417.0C1699.2,418.5 1700.1,420.3 1701.5,422.0C1703.3,424.1 1706.3,426.5 1708.1,428.7C1709.6,430.5 1710.6,432.2 1712.0,434.0C1713.5,435.9 1715.0,438.8 1717.0,439.7C1718.9,440.6 1721.9,438.7 1723.6,439.7C1725.3,440.7 1725.9,443.8 1727.0,446.0C1728.1,448.3 1728.6,452.3 1730.3,453.0C1731.9,453.7 1734.9,451.1 1736.9,450.8C1738.4,450.6 1739.6,450.7 1741.0,451.0C1742.6,451.4 1744.3,453.0 1745.8,453.0C1747.3,453.0 1748.6,451.0 1750.0,451.0C1751.5,451.0 1753.4,451.9 1754.7,453.0C1756.1,454.2 1756.9,456.2 1758.0,458.0C1759.1,459.9 1760.0,463.9 1761.3,464.1C1762.4,464.3 1763.6,461.7 1765.0,461.0C1766.5,460.2 1768.6,459.4 1770.2,459.7C1771.9,460.0 1773.5,461.9 1775.0,463.0C1776.4,464.1 1777.4,465.9 1779.0,466.3C1780.9,466.8 1783.7,465.4 1786.0,465.0C1788.2,464.6 1790.2,464.3 1792.3,464.1C1794.5,463.9 1796.8,464.0 1799.0,464.0C1801.2,464.0 1803.4,464.3 1805.6,464.1C1807.8,463.9 1809.9,463.4 1812.0,463.0C1814.0,462.7 1816.0,462.2 1818.0,462.0C1820.1,461.8 1824.5,461.9 1824.5,461.9" fill="none" stroke="#1767d9" stroke-width="3.8" stroke-linejoin="round" stroke-linecap="round"/>
<path d="M1014.0,475.0C1014.0,475.0 1016.7,485.1 1018.0,490.0C1019.3,494.8 1020.8,499.6 1022.0,504.3C1023.2,508.8 1024.4,517.5 1025.2,517.4C1026.5,517.3 1026.4,495.0 1027.4,482.6C1028.5,468.4 1028.7,438.2 1031.7,437.0C1032.6,436.6 1034.0,438.4 1035.0,440.0C1036.9,443.0 1037.9,452.1 1040.0,455.0C1041.2,456.7 1042.6,457.5 1044.0,458.0C1045.3,458.4 1046.5,458.3 1048.0,458.0C1050.0,457.6 1053.0,456.4 1055.0,455.0C1057.0,453.7 1058.5,449.7 1060.0,450.0C1062.3,450.5 1063.8,460.6 1066.0,465.0C1067.9,468.8 1069.4,472.8 1072.0,475.0C1074.2,476.9 1077.5,476.7 1080.0,478.0C1082.5,479.3 1085.9,480.6 1087.2,482.6C1088.4,484.4 1087.7,486.5 1088.3,489.1C1089.2,493.1 1091.0,499.7 1092.6,504.3C1094.0,508.3 1094.6,512.6 1097.0,515.2C1099.2,517.5 1103.1,518.1 1105.7,519.6C1108.1,521.0 1110.4,522.5 1112.2,523.9C1113.7,525.0 1114.6,526.0 1116.0,527.0C1117.5,528.1 1119.3,529.8 1120.9,530.4C1122.3,530.9 1123.6,531.0 1125.0,531.0C1126.5,531.0 1128.3,531.4 1129.6,530.4C1131.6,528.9 1132.0,521.9 1134.1,520.8C1135.7,520.0 1137.9,521.5 1140.0,522.0C1142.3,522.6 1145.2,523.6 1147.4,524.1C1149.1,524.5 1150.5,524.6 1152.0,525.0C1153.5,525.4 1154.8,525.8 1156.3,526.3C1158.1,526.8 1160.2,527.3 1162.0,528.0C1163.9,528.8 1165.8,529.4 1167.4,530.8C1169.2,532.4 1170.1,535.7 1171.8,537.4C1173.3,539.0 1175.2,539.9 1177.0,541.0C1178.9,542.1 1181.3,542.3 1182.9,544.1C1185.0,546.5 1186.1,551.6 1187.3,555.1C1188.4,558.2 1189.1,561.1 1190.0,564.0C1190.9,566.8 1191.7,569.1 1192.8,572.1C1194.1,575.8 1195.8,580.2 1197.3,584.3C1198.8,588.4 1200.4,593.2 1201.7,596.5C1202.6,598.7 1203.1,600.2 1204.0,602.0C1204.9,603.9 1206.1,605.8 1207.3,607.6C1208.5,609.4 1209.7,611.2 1211.0,613.0C1212.3,614.9 1213.4,616.6 1215.0,618.7C1217.1,621.4 1220.4,625.9 1222.8,627.5C1224.3,628.5 1225.5,628.6 1227.0,629.0C1228.5,629.4 1230.0,629.3 1231.6,629.7C1233.4,630.2 1235.2,631.1 1237.0,632.0C1238.9,633.0 1241.1,635.4 1242.7,635.3C1244.0,635.3 1244.8,633.6 1246.0,633.1C1247.2,632.5 1248.5,632.4 1250.0,632.0C1251.8,631.6 1254.2,631.8 1255.9,630.8C1257.6,629.8 1258.5,627.6 1260.0,626.0C1261.5,624.3 1263.3,622.5 1264.9,620.9C1266.3,619.5 1267.5,618.1 1269.0,617.0C1270.5,615.9 1272.2,615.2 1273.7,614.2C1275.2,613.2 1276.5,612.1 1278.0,611.0C1279.5,609.9 1281.0,609.0 1282.6,607.6C1284.7,605.8 1287.5,603.0 1289.3,600.9C1290.8,599.2 1291.6,597.7 1293.0,596.0C1294.5,594.0 1296.5,591.7 1298.1,589.8C1299.5,588.1 1300.5,586.5 1302.0,585.0C1303.5,583.5 1305.6,582.7 1307.0,581.0C1308.6,579.1 1309.5,576.2 1311.0,574.0C1312.5,571.8 1314.0,569.8 1315.8,567.7C1317.8,565.4 1320.3,563.2 1322.5,561.0C1324.7,558.8 1326.9,555.9 1329.1,554.4C1330.8,553.2 1332.5,552.8 1334.0,552.0C1335.4,551.3 1336.7,551.1 1338.0,549.9C1340.2,547.8 1342.2,542.3 1344.7,538.9C1347.1,535.7 1349.9,532.3 1352.4,530.0C1354.3,528.3 1356.0,527.3 1358.0,526.0C1360.2,524.6 1362.7,523.5 1365.0,522.0C1367.4,520.5 1369.6,518.6 1372.0,517.0C1374.6,515.3 1377.3,513.7 1380.0,512.0C1382.7,510.3 1385.4,508.6 1388.0,507.0C1390.4,505.6 1392.9,504.2 1395.0,503.0C1396.8,501.9 1398.4,500.9 1400.0,500.0C1401.5,499.1 1402.9,498.3 1404.5,497.5C1406.2,496.6 1408.1,495.7 1410.0,495.0C1411.8,494.3 1413.8,493.6 1415.6,493.1C1417.1,492.7 1418.4,492.4 1420.0,492.1C1422.0,491.7 1424.5,491.4 1426.6,491.0C1428.5,490.7 1430.2,490.4 1432.0,490.0C1433.9,489.6 1436.0,489.5 1437.7,488.8C1439.3,488.1 1440.5,486.9 1442.0,486.0C1443.5,485.1 1445.0,483.6 1446.6,483.3C1448.0,483.0 1449.5,483.6 1451.0,484.0C1452.6,484.5 1454.4,485.2 1456.0,486.0C1457.7,486.8 1459.3,488.3 1461.0,489.0C1462.6,489.6 1464.3,490.3 1466.0,490.0C1468.0,489.6 1470.0,487.3 1472.0,486.0C1474.0,484.7 1475.9,482.8 1478.0,482.0C1479.9,481.2 1482.0,481.3 1484.0,481.0C1486.0,480.7 1487.9,480.2 1490.0,480.0C1492.2,479.8 1494.7,480.0 1497.0,480.0C1499.4,480.0 1501.9,479.8 1504.2,480.0C1506.2,480.2 1507.9,480.8 1510.0,481.0C1512.3,481.2 1515.2,481.5 1517.5,481.1C1519.5,480.7 1521.2,479.8 1523.0,479.0C1524.9,478.1 1526.8,476.7 1528.6,476.0C1530.1,475.4 1531.5,475.6 1533.0,475.0C1534.7,474.3 1536.5,473.2 1538.0,472.0C1539.5,470.8 1540.9,469.7 1542.0,468.0C1543.4,465.9 1544.0,462.7 1545.0,460.0C1546.0,457.3 1547.1,454.8 1548.0,452.0C1549.0,448.9 1550.0,445.8 1550.8,442.0C1551.8,436.9 1552.5,430.3 1553.0,424.2C1553.5,417.9 1553.6,411.5 1554.0,405.0C1554.4,398.2 1554.8,391.3 1555.2,384.3C1555.6,377.1 1556.1,369.1 1556.3,362.2C1556.5,356.1 1556.5,350.6 1556.5,345.0C1556.5,339.7 1556.4,334.7 1556.3,329.6C1556.2,324.4 1555.7,319.4 1555.8,314.0C1555.9,308.3 1556.5,302.0 1556.8,296.3C1557.1,291.0 1557.2,286.1 1557.4,280.8C1557.7,275.1 1557.9,268.6 1558.3,263.1C1558.7,258.3 1559.3,254.8 1559.6,249.8C1560.0,243.5 1560.0,234.9 1560.3,228.5C1560.5,223.3 1560.8,219.3 1561.1,214.4C1561.5,209.0 1560.9,202.0 1562.5,197.5C1563.7,194.0 1567.1,192.3 1568.1,189.0C1569.3,185.3 1568.1,180.8 1568.3,176.0C1568.5,169.9 1569.1,161.7 1569.5,155.3C1569.9,149.8 1570.2,144.8 1570.6,140.0C1571.0,135.8 1571.4,132.3 1571.8,128.0C1572.2,123.1 1572.6,117.2 1573.0,112.0C1573.4,106.9 1573.2,100.8 1574.0,97.0C1574.5,94.5 1575.4,91.0 1576.0,91.0C1576.7,91.0 1577.2,97.1 1578.0,100.0C1578.8,102.9 1579.8,108.6 1580.7,108.6C1581.7,108.6 1582.9,101.4 1584.0,98.0C1585.1,94.8 1586.0,90.8 1587.3,88.7C1588.1,87.4 1589.2,85.9 1590.0,86.0C1591.1,86.2 1592.2,89.8 1593.0,92.0C1593.9,94.4 1594.5,96.6 1595.1,100.0C1596.1,106.0 1596.7,118.0 1597.3,125.2C1597.8,130.7 1598.0,134.4 1598.5,139.6C1599.1,145.8 1600.1,153.2 1601.0,160.0C1601.9,166.7 1602.9,173.2 1604.0,180.0C1605.2,187.2 1606.8,195.0 1608.0,202.0C1609.1,208.3 1610.0,214.1 1611.0,220.0C1612.0,225.6 1613.2,236.5 1613.9,236.5C1614.5,236.5 1614.7,225.4 1615.0,225.4C1615.5,225.4 1614.1,253.6 1616.1,254.2C1617.1,254.5 1619.4,247.3 1620.6,247.6C1622.6,248.1 1623.0,261.8 1624.0,270.0C1625.2,279.9 1625.3,296.3 1627.2,303.0C1628.1,306.2 1629.7,307.0 1630.5,309.6C1631.4,312.8 1630.4,318.0 1631.7,320.7C1632.7,322.7 1634.4,323.6 1636.0,325.0C1637.7,326.5 1640.0,327.6 1641.6,329.6C1643.4,331.8 1644.7,334.9 1646.0,338.0C1647.5,341.6 1648.7,346.0 1650.0,350.0C1651.3,354.0 1652.7,357.9 1654.0,362.0C1655.4,366.2 1656.6,371.0 1658.0,375.0C1659.3,378.6 1660.4,382.0 1662.0,385.0C1663.4,387.6 1665.3,389.8 1667.0,392.0C1668.6,394.1 1670.6,395.6 1672.0,398.0C1673.7,400.8 1674.8,404.2 1676.0,408.0C1677.5,412.9 1678.6,419.7 1680.0,425.0C1681.3,429.6 1682.3,437.7 1684.0,438.0C1685.2,438.2 1686.7,434.7 1688.0,433.0C1689.3,431.3 1690.5,428.1 1692.0,428.0C1693.5,427.9 1695.3,431.1 1697.0,433.0C1699.0,435.3 1701.0,438.5 1703.0,441.0C1705.0,443.4 1706.9,446.1 1709.0,448.0C1710.9,449.7 1712.9,451.0 1715.0,452.0C1716.9,452.9 1719.1,453.1 1721.0,454.0C1723.1,455.0 1725.0,456.8 1727.0,458.0C1729.0,459.1 1730.9,460.7 1733.0,461.0C1735.2,461.4 1737.6,460.5 1740.0,460.0C1742.6,459.5 1745.5,457.7 1748.0,458.0C1750.5,458.3 1752.6,461.0 1755.0,462.0C1757.3,463.0 1759.6,463.5 1762.0,464.0C1764.6,464.5 1767.3,465.0 1770.0,465.0C1772.7,465.0 1775.3,464.3 1778.0,464.0C1780.7,463.7 1783.3,463.0 1786.0,463.0C1788.9,463.0 1791.9,463.8 1795.0,464.0C1798.2,464.2 1801.7,463.8 1805.0,464.0C1808.3,464.2 1811.8,464.7 1815.0,465.0C1818.1,465.3 1824.0,466.0 1824.0,466.0" fill="none" stroke="#33a865" stroke-width="3.8" stroke-linejoin="round" stroke-linecap="round" stroke-dasharray="11.5 21.5"/>
<path d="M1013.5,470.0C1013.5,470.0 1013.9,474.8 1014.3,478.3C1015.0,484.6 1016.6,494.1 1017.6,504.3C1019.0,518.7 1019.6,556.5 1020.9,556.5C1021.8,556.5 1023.3,541.1 1024.1,530.4C1025.4,513.6 1025.1,485.6 1026.3,465.2C1027.4,447.1 1029.0,414.2 1030.7,414.1C1031.7,414.0 1032.9,424.3 1033.9,430.4C1035.1,438.1 1035.5,456.2 1037.2,456.5C1038.1,456.7 1039.1,451.8 1040.4,450.0C1041.6,448.3 1043.6,445.4 1044.8,445.7C1046.3,446.0 1046.5,452.0 1048.0,454.3C1049.2,456.2 1051.0,458.8 1052.4,458.7C1053.9,458.5 1055.5,454.9 1056.7,452.2C1058.2,448.7 1058.9,439.1 1060.0,439.1C1061.1,439.1 1062.3,448.2 1063.3,454.3C1064.7,463.1 1065.2,476.5 1066.5,487.0C1067.7,496.8 1069.5,509.1 1070.9,515.2C1071.6,518.2 1072.4,521.8 1073.0,521.7C1074.0,521.6 1074.4,509.2 1075.2,502.2C1076.2,494.1 1076.8,476.4 1078.5,476.1C1079.4,475.9 1080.8,479.7 1081.7,482.6C1083.3,487.6 1083.8,497.5 1085.0,504.3C1086.0,510.4 1087.1,515.6 1088.3,521.7C1089.6,528.6 1091.0,543.4 1092.6,543.5C1093.9,543.6 1094.7,530.0 1097.0,528.3C1098.2,527.4 1099.9,528.6 1101.3,528.3C1102.8,527.9 1104.2,526.1 1105.7,526.1C1107.1,526.1 1108.8,526.9 1110.0,528.3C1111.9,530.4 1112.7,536.0 1114.3,539.1C1115.6,541.7 1117.2,545.7 1118.7,545.7C1120.1,545.7 1121.7,541.8 1123.0,539.1C1124.7,535.6 1125.8,528.4 1127.4,526.1C1128.1,525.0 1128.9,524.0 1129.7,524.1C1130.7,524.2 1131.9,526.6 1133.0,528.0C1134.1,529.5 1135.1,531.3 1136.3,533.0C1137.5,534.7 1138.8,536.5 1140.0,538.0C1141.0,539.4 1142.0,541.9 1143.0,541.8C1144.0,541.7 1144.9,538.6 1146.0,537.0C1147.1,535.4 1148.3,532.3 1149.6,532.2C1151.0,532.1 1152.7,535.6 1154.0,537.0C1155.1,538.1 1156.0,538.8 1157.0,540.0C1158.2,541.5 1159.6,543.2 1160.7,545.5C1162.4,548.9 1163.7,553.9 1165.1,558.8C1166.8,564.8 1167.7,573.7 1169.6,578.8C1170.9,582.2 1172.5,584.4 1174.0,587.0C1175.4,589.5 1177.1,591.3 1178.4,594.3C1180.2,598.4 1181.5,604.3 1182.9,609.8C1184.5,616.0 1185.8,623.3 1187.3,629.7C1188.7,635.8 1190.0,643.3 1191.7,647.5C1192.7,650.0 1193.9,651.2 1195.0,653.0C1196.1,654.8 1197.3,656.3 1198.4,658.5C1199.9,661.5 1201.3,666.8 1202.8,669.6C1203.8,671.5 1204.9,672.5 1206.0,674.0C1207.1,675.5 1208.3,677.0 1209.5,678.5C1210.7,680.0 1211.7,681.5 1213.0,683.0C1214.3,684.5 1216.0,687.5 1217.2,687.4C1218.3,687.3 1219.1,684.5 1220.0,683.0C1220.9,681.5 1221.6,679.4 1222.8,678.5C1223.7,677.8 1225.1,677.2 1226.1,677.4C1227.2,677.6 1228.1,679.1 1229.0,680.0C1229.9,680.9 1230.6,682.9 1231.6,682.9C1232.9,682.9 1234.9,680.2 1236.1,678.5C1237.4,676.6 1237.9,674.2 1239.0,672.0C1240.1,669.7 1241.4,667.1 1242.7,665.2C1243.8,663.6 1244.8,662.2 1246.0,661.0C1247.1,660.0 1248.2,659.6 1249.4,658.5C1250.9,657.1 1252.5,654.8 1254.0,653.0C1255.5,651.2 1256.9,649.3 1258.2,647.5C1259.5,645.7 1260.7,644.0 1262.0,642.0C1263.6,639.6 1265.7,636.8 1267.1,634.2C1268.3,631.8 1269.0,629.5 1270.0,627.0C1271.1,624.3 1272.2,620.9 1273.7,618.7C1275.0,616.8 1276.9,615.6 1278.2,614.2C1279.3,613.1 1280.0,612.1 1281.0,611.0C1282.1,609.8 1283.7,609.2 1284.8,607.6C1286.3,605.3 1286.8,601.1 1288.0,598.0C1289.1,595.1 1290.1,591.9 1291.5,589.8C1292.5,588.2 1293.8,587.1 1295.0,586.0C1296.0,585.0 1297.1,584.3 1298.1,583.2C1299.2,582.0 1299.9,580.4 1301.0,579.0C1302.2,577.5 1303.6,576.0 1304.8,574.3C1306.0,572.6 1306.9,570.8 1308.0,569.0C1309.1,567.1 1310.2,565.3 1311.4,563.2C1312.8,560.7 1314.5,557.6 1316.0,555.0C1317.4,552.5 1318.8,550.1 1320.3,547.7C1321.8,545.4 1323.4,543.0 1325.0,541.0C1326.4,539.3 1327.5,538.2 1329.1,536.6C1331.0,534.6 1333.7,532.6 1335.8,530.0C1338.2,527.1 1340.0,522.5 1342.4,519.7C1344.4,517.3 1346.8,515.9 1349.0,514.0C1351.2,512.2 1353.5,510.3 1355.7,508.6C1357.8,507.0 1359.8,505.5 1362.0,504.0C1364.2,502.5 1366.5,501.1 1369.0,499.7C1371.8,498.1 1375.0,496.5 1378.0,495.0C1380.9,493.6 1383.9,492.3 1386.8,490.9C1389.6,489.6 1392.1,488.1 1395.0,487.0C1398.0,485.8 1401.5,485.1 1404.5,484.2C1407.1,483.4 1409.5,482.7 1412.0,482.0C1414.6,481.3 1417.1,480.5 1420.0,480.0C1423.4,479.4 1427.4,479.2 1431.1,478.8C1434.8,478.4 1439.0,478.1 1442.2,477.7C1444.7,477.4 1446.6,476.3 1448.8,476.6C1451.1,477.0 1453.4,478.7 1455.5,480.0C1457.5,481.2 1459.2,482.6 1461.0,484.0C1462.9,485.5 1464.9,489.3 1466.5,488.8C1469.1,488.1 1470.0,470.4 1472.1,470.0C1473.3,469.8 1474.7,473.3 1476.0,475.0C1477.3,476.7 1478.4,479.9 1479.8,480.0C1481.1,480.1 1482.5,477.1 1484.0,476.0C1485.5,474.9 1487.2,473.3 1488.7,473.3C1490.2,473.3 1491.5,475.1 1493.0,476.0C1494.5,476.9 1496.0,478.6 1497.6,478.8C1499.3,479.0 1501.2,477.4 1503.0,477.0C1504.9,476.6 1506.8,476.8 1508.7,476.6C1510.5,476.4 1512.2,476.0 1514.0,476.0C1515.9,476.0 1517.9,476.6 1519.7,476.6C1521.2,476.6 1522.5,476.2 1524.0,476.0C1525.5,475.8 1527.0,476.0 1528.6,475.5C1530.7,474.9 1533.3,473.7 1535.2,472.2C1537.0,470.7 1538.6,468.8 1539.7,466.6C1540.9,464.1 1541.3,461.4 1542.0,458.0C1542.9,453.1 1543.5,446.7 1544.1,439.7C1545.0,430.3 1545.8,417.6 1546.3,406.5C1546.9,395.4 1547.0,384.3 1547.4,373.2C1547.8,362.1 1548.3,351.4 1548.8,340.0C1549.4,328.0 1550.2,317.1 1550.8,303.0C1551.6,284.1 1552.4,258.6 1553.0,236.5C1553.6,214.6 1554.2,185.4 1554.6,171.0C1554.8,163.9 1554.9,160.8 1555.2,155.1C1555.5,148.3 1555.5,138.9 1556.3,133.0C1556.8,129.0 1557.6,123.0 1558.5,123.0C1559.4,123.0 1560.9,133.1 1561.8,133.0C1563.1,132.9 1563.4,119.5 1564.1,110.8C1565.0,98.6 1565.5,80.9 1566.3,66.5C1567.0,52.9 1567.5,36.2 1568.5,26.6C1569.1,21.2 1569.4,17.0 1570.5,14.0C1571.2,12.2 1572.1,10.0 1572.9,10.0C1573.6,10.0 1574.4,12.2 1575.0,14.0C1576.1,17.5 1576.3,24.9 1577.0,30.0C1577.7,34.6 1578.3,43.2 1579.1,43.2C1579.7,43.2 1580.4,38.9 1581.0,36.0C1581.9,31.7 1582.2,23.6 1583.5,20.0C1584.2,17.9 1585.3,15.6 1586.2,15.5C1586.9,15.4 1587.9,16.8 1588.5,18.0C1589.6,20.3 1590.0,24.1 1590.7,28.8C1592.0,37.5 1592.8,54.6 1594.0,66.5C1595.1,77.3 1595.1,91.9 1597.3,97.5C1598.2,99.9 1599.7,99.8 1600.6,102.0C1602.2,106.2 1602.1,115.1 1602.8,121.9C1603.6,129.1 1604.2,136.3 1605.1,144.1C1606.1,152.8 1607.5,162.6 1608.4,171.8C1609.3,180.8 1609.9,189.8 1610.6,198.8C1611.3,207.7 1610.7,222.9 1612.8,225.4C1613.4,226.1 1614.3,226.2 1615.0,226.0C1615.9,225.7 1616.6,223.1 1617.3,223.2C1618.6,223.5 1619.6,230.0 1620.6,234.3C1621.9,239.9 1622.8,247.8 1623.9,254.2C1625.0,260.3 1626.2,266.5 1627.2,272.0C1628.0,276.7 1628.7,280.5 1629.4,285.2C1630.2,290.7 1630.9,297.1 1631.7,303.0C1632.4,308.9 1632.5,317.7 1633.9,320.7C1634.5,322.0 1635.2,322.3 1636.0,323.0C1637.0,323.8 1638.5,323.9 1639.4,325.1C1640.7,326.9 1640.8,331.1 1641.6,334.0C1642.3,336.7 1642.7,339.7 1643.8,341.8C1644.7,343.5 1645.9,344.5 1647.0,346.0C1648.2,347.6 1649.4,348.8 1650.5,351.1C1652.2,354.8 1653.5,361.3 1654.9,366.6C1656.4,372.3 1657.5,379.9 1659.4,384.3C1660.7,387.2 1662.1,389.5 1663.8,391.0C1665.1,392.2 1666.9,391.9 1668.2,393.2C1670.0,395.0 1671.3,398.8 1672.7,402.1C1674.3,406.0 1675.9,410.5 1677.1,415.4C1678.6,421.3 1679.1,429.7 1680.4,435.3C1681.4,439.6 1682.4,446.3 1683.7,446.4C1685.0,446.5 1686.6,438.8 1688.2,435.3C1689.6,432.1 1690.9,427.0 1692.6,426.4C1693.6,426.0 1695.0,427.1 1696.0,428.0C1697.3,429.1 1698.0,431.1 1699.3,433.1C1701.1,436.1 1703.6,440.8 1705.9,444.2C1708.0,447.4 1710.6,452.6 1712.6,453.0C1713.8,453.2 1714.8,451.4 1716.0,451.0C1717.0,450.7 1718.0,450.5 1719.2,450.8C1721.1,451.3 1724.1,452.9 1725.8,455.2C1728.1,458.2 1728.7,468.4 1730.3,468.5C1731.7,468.6 1732.6,461.0 1734.7,459.7C1736.5,458.6 1739.3,460.4 1741.4,459.7C1743.7,459.0 1746.2,454.8 1748.0,455.2C1749.8,455.6 1750.5,459.8 1752.0,462.0C1753.5,464.2 1755.3,468.4 1756.9,468.5C1758.3,468.6 1759.5,465.1 1761.0,464.0C1762.4,463.0 1764.2,461.9 1765.7,461.9C1767.2,461.9 1768.5,463.3 1770.0,464.0C1771.5,464.7 1773.0,466.3 1774.6,466.3C1776.3,466.4 1778.2,464.7 1780.0,464.0C1781.9,463.3 1783.8,461.9 1785.7,461.9C1787.5,461.9 1789.2,463.6 1791.0,464.0C1792.9,464.4 1794.9,464.4 1796.8,464.1C1798.9,463.8 1800.8,462.4 1803.0,462.0C1805.3,461.6 1807.8,461.7 1810.1,461.9C1812.4,462.1 1814.7,462.6 1817.0,463.0C1819.4,463.4 1824.5,464.1 1824.5,464.1" fill="none" stroke="#33a865" stroke-width="3.8" stroke-linejoin="round" stroke-linecap="round"/>
<g stroke="#000" stroke-width="2.2" fill="none">
<line x1="1013.2" y1="3.5" x2="1013.2" y2="696.5"/>
<line x1="1012.2" y1="695.5" x2="1826.5" y2="695.5"/>
<line x1="1009" y1="695.8" x2="1013.2" y2="695.8"/>
<line x1="1005" y1="663.5" x2="1013.2" y2="663.5"/>
<line x1="1009" y1="631.2" x2="1013.2" y2="631.2"/>
<line x1="1005" y1="598.9" x2="1013.2" y2="598.9"/>
<line x1="1009" y1="566.6" x2="1013.2" y2="566.6"/>
<line x1="1005" y1="534.3" x2="1013.2" y2="534.3"/>
<line x1="1009" y1="502.0" x2="1013.2" y2="502.0"/>
<line x1="1005" y1="469.7" x2="1013.2" y2="469.7"/>
<line x1="1009" y1="437.4" x2="1013.2" y2="437.4"/>
<line x1="1005" y1="405.1" x2="1013.2" y2="405.1"/>
<line x1="1009" y1="372.8" x2="1013.2" y2="372.8"/>
<line x1="1005" y1="340.5" x2="1013.2" y2="340.5"/>
<line x1="1009" y1="308.2" x2="1013.2" y2="308.2"/>
<line x1="1005" y1="275.9" x2="1013.2" y2="275.9"/>
<line x1="1009" y1="243.6" x2="1013.2" y2="243.6"/>
<line x1="1005" y1="211.3" x2="1013.2" y2="211.3"/>
<line x1="1009" y1="179.0" x2="1013.2" y2="179.0"/>
<line x1="1005" y1="146.7" x2="1013.2" y2="146.7"/>
<line x1="1009" y1="114.4" x2="1013.2" y2="114.4"/>
<line x1="1005" y1="82.1" x2="1013.2" y2="82.1"/>
<line x1="1009" y1="49.8" x2="1013.2" y2="49.8"/>
<line x1="1005" y1="17.5" x2="1013.2" y2="17.5"/>
<line x1="1017.8" y1="695.5" x2="1017.8" y2="700"/>
<line x1="1065.3" y1="695.5" x2="1065.3" y2="704"/>
<line x1="1112.8" y1="695.5" x2="1112.8" y2="700"/>
<line x1="1160.3" y1="695.5" x2="1160.3" y2="704"/>
<line x1="1207.9" y1="695.5" x2="1207.9" y2="700"/>
<line x1="1255.4" y1="695.5" x2="1255.4" y2="704"/>
<line x1="1302.9" y1="695.5" x2="1302.9" y2="700"/>
<line x1="1350.4" y1="695.5" x2="1350.4" y2="704"/>
<line x1="1398.0" y1="695.5" x2="1398.0" y2="700"/>
<line x1="1445.5" y1="695.5" x2="1445.5" y2="704"/>
<line x1="1493.0" y1="695.5" x2="1493.0" y2="700"/>
<line x1="1540.5" y1="695.5" x2="1540.5" y2="704"/>
<line x1="1588.1" y1="695.5" x2="1588.1" y2="700"/>
<line x1="1635.6" y1="695.5" x2="1635.6" y2="704"/>
<line x1="1683.1" y1="695.5" x2="1683.1" y2="700"/>
<line x1="1730.7" y1="695.5" x2="1730.7" y2="704"/>
<line x1="1778.2" y1="695.5" x2="1778.2" y2="700"/>
<line x1="1825.7" y1="695.5" x2="1825.7" y2="704"/>
</g>
<g font-family="Liberation Sans, Arial, sans-serif" font-weight="bold" font-size="30" fill="#000">
<text transform="translate(997.7,673.1) scale(1,1.055)" text-anchor="end">-30</text>
<text transform="translate(997.7,608.5) scale(1,1.055)" text-anchor="end">-20</text>
<text transform="translate(997.7,543.9) scale(1,1.055)" text-anchor="end">-10</text>
<text transform="translate(997.7,479.3) scale(1,1.055)" text-anchor="end">0</text>
<text transform="translate(997.7,414.7) scale(1,1.055)" text-anchor="end">10</text>
<text transform="translate(997.7,350.1) scale(1,1.055)" text-anchor="end">20</text>
<text transform="translate(997.7,285.5) scale(1,1.055)" text-anchor="end">30</text>
<text transform="translate(997.7,220.9) scale(1,1.055)" text-anchor="end">40</text>
<text transform="translate(997.7,156.3) scale(1,1.055)" text-anchor="end">50</text>
<text transform="translate(997.7,91.7) scale(1,1.055)" text-anchor="end">60</text>
<text transform="translate(997.7,27.1) scale(1,1.055)" text-anchor="end">70</text>
<text transform="translate(1065.3,735.8) scale(1,1.055)" text-anchor="middle">0</text>
<text transform="translate(1160.3,735.8) scale(1,1.055)" text-anchor="middle">100</text>
<text transform="translate(1255.4,735.8) scale(1,1.055)" text-anchor="middle">200</text>
<text transform="translate(1350.4,735.8) scale(1,1.055)" text-anchor="middle">300</text>
<text transform="translate(1445.5,735.8) scale(1,1.055)" text-anchor="middle">400</text>
<text transform="translate(1540.5,735.8) scale(1,1.055)" text-anchor="middle">500</text>
<text transform="translate(1635.6,735.8) scale(1,1.055)" text-anchor="middle">600</text>
<text transform="translate(1730.7,735.8) scale(1,1.055)" text-anchor="middle">700</text>
<text transform="translate(1825.7,735.8) scale(1,1.055)" text-anchor="middle">800</text>
</g>
<text x="1419.4" y="775.5" font-family="Liberation Sans, Arial, sans-serif" font-weight="bold" font-size="31" text-anchor="middle">Time (ns)</text>
<text transform="translate(919,332.5) rotate(-90)" font-family="Liberation Sans, Arial, sans-serif" font-weight="bold" font-size="31" text-anchor="middle">Current (mA)</text>
<text x="1034" y="59" font-family="Liberation Sans, Arial, sans-serif" font-weight="bold" font-size="36">(b)</text>
<rect x="1089.5" y="0.5" width="451" height="154.8" fill="#fff" stroke="#333" stroke-width="1.3"/>
<g font-family="Liberation Sans, Arial, sans-serif" font-size="30.5" fill="#000">
<text x="1093" y="31.8">2.5 kV</text>
<text x="1265" y="31.8">0.5 mm</text>
<text x="1452" y="31.8">1 mm</text>
<text x="1093" y="69.1">3 kV</text>
<text x="1265" y="69.1">0.5 mm</text>
<text x="1452" y="69.1">1 mm</text>
<text x="1093" y="106.4">3.5 kV</text>
<text x="1265" y="106.4">0.5 mm</text>
<text x="1452" y="106.4">1 mm</text>
<text x="1093" y="143.7">4 kV</text>
<text x="1265" y="143.7">0.5 mm</text>
<text x="1452" y="143.7">1 mm</text>
</g>
<line x1="1189" y1="21.5" x2="1256.5" y2="21.5" stroke="#4d4d4d" stroke-width="3.5" stroke-linecap="round"/>
<line x1="1375" y1="21.5" x2="1444" y2="21.5" stroke="#4d4d4d" stroke-width="3.5" stroke-linecap="round" stroke-dasharray="13.9 19.2"/>
<line x1="1189" y1="59.0" x2="1256.5" y2="59.0" stroke="#eb3a3d" stroke-width="3.5" stroke-linecap="round"/>
<line x1="1375" y1="59.0" x2="1444" y2="59.0" stroke="#eb3a3d" stroke-width="3.5" stroke-linecap="round" stroke-dasharray="13.9 19.2"/>
<line x1="1189" y1="96.4" x2="1256.5" y2="96.4" stroke="#1767d9" stroke-width="3.5" stroke-linecap="round"/>
<line x1="1375" y1="96.4" x2="1444" y2="96.4" stroke="#1767d9" stroke-width="3.5" stroke-linecap="round" stroke-dasharray="13.9 19.2"/>
<line x1="1189" y1="133.9" x2="1256.5" y2="133.9" stroke="#33a865" stroke-width="3.5" stroke-linecap="round"/>
<line x1="1375" y1="133.9" x2="1444" y2="133.9" stroke="#33a865" stroke-width="3.5" stroke-linecap="round" stroke-dasharray="13.9 19.2"/>
<path d="M1071.5,310.5C1071.5,310.5 1074.9,310.7 1076.1,309.9C1077.5,309.0 1078.1,306.5 1079.0,305.0C1079.9,303.6 1080.6,301.3 1081.5,301.1C1082.3,301.0 1083.3,302.1 1084.0,303.0C1084.8,304.2 1085.2,305.6 1085.6,307.8C1086.4,312.0 1086.3,326.8 1086.9,326.8C1087.3,326.8 1087.8,318.1 1088.5,318.0C1088.8,317.9 1089.2,319.2 1089.6,320.0C1090.2,321.1 1091.0,322.5 1091.6,324.1C1092.4,326.0 1093.1,330.9 1093.7,330.8C1094.7,330.7 1095.2,316.6 1096.0,310.0C1096.8,303.9 1097.5,292.3 1098.4,292.3C1099.1,292.3 1099.9,298.4 1100.5,302.0C1101.3,306.5 1101.8,312.4 1102.5,317.3C1103.1,321.7 1103.7,326.3 1104.5,330.0C1105.1,332.9 1105.9,337.6 1106.5,337.6C1107.5,337.5 1108.1,322.2 1109.0,315.0C1109.9,308.3 1110.8,295.7 1111.9,295.7C1112.9,295.7 1114.4,305.6 1115.3,310.5C1116.2,315.3 1116.7,320.9 1117.5,325.0C1118.1,328.0 1118.8,332.8 1119.4,332.8C1120.3,332.8 1120.9,320.9 1122.0,315.0C1123.1,309.0 1124.9,297.0 1126.1,297.0C1126.8,297.0 1127.4,300.6 1128.0,303.0C1129.0,306.7 1129.7,312.9 1130.8,317.3C1131.8,321.2 1133.2,328.1 1134.2,328.1C1135.3,328.0 1135.9,318.6 1137.0,315.0C1137.8,312.4 1138.8,308.4 1139.6,308.5C1140.5,308.6 1141.1,314.8 1142.0,318.0C1142.9,321.3 1144.0,328.1 1145.0,328.1C1146.0,328.1 1146.8,321.2 1148.0,318.0C1149.1,314.9 1150.5,309.3 1151.8,309.2C1152.9,309.1 1154.0,312.4 1155.0,315.0C1156.7,319.5 1157.8,334.1 1159.2,334.2C1160.2,334.2 1160.9,328.3 1162.0,325.0C1163.3,321.2 1165.3,312.6 1166.6,312.6C1167.5,312.6 1168.2,316.1 1169.0,318.0C1170.0,320.3 1170.8,325.1 1172.1,325.4C1173.2,325.6 1175.0,321.3 1176.1,321.4C1176.9,321.5 1177.2,324.0 1178.0,324.0C1179.0,324.0 1180.5,319.9 1181.5,320.0C1182.5,320.1 1183.1,323.4 1184.0,325.0C1184.9,326.6 1185.9,329.5 1186.9,329.5C1187.9,329.5 1188.7,325.9 1190.0,325.0C1191.1,324.3 1192.6,323.6 1193.7,324.1C1195.3,324.8 1196.5,330.8 1197.7,330.8C1198.6,330.8 1199.2,327.0 1200.0,327.0C1201.0,327.0 1201.9,331.8 1203.1,332.2C1204.0,332.5 1205.2,330.7 1206.0,331.0C1207.1,331.4 1207.6,336.1 1208.5,336.2C1209.3,336.3 1210.0,333.4 1211.0,333.0C1211.8,332.7 1213.0,333.7 1213.9,333.5C1215.0,333.2 1216.1,330.9 1217.0,331.0C1217.9,331.1 1218.5,333.2 1219.4,333.5C1220.2,333.8 1221.2,332.7 1222.0,333.0C1223.0,333.4 1223.9,335.3 1224.8,336.2C1225.5,336.9 1226.2,337.3 1227.0,338.0C1228.0,339.0 1229.0,340.6 1230.2,341.6C1231.4,342.7 1233.0,344.5 1234.2,344.3C1235.3,344.1 1235.9,341.9 1237.0,341.0C1238.1,340.1 1239.8,338.8 1241.0,338.9C1242.1,339.0 1242.9,340.3 1244.0,341.0C1245.2,341.8 1246.6,343.7 1247.7,343.6C1248.9,343.5 1249.8,340.5 1251.0,340.0C1252.1,339.6 1253.5,339.9 1254.5,340.3C1255.5,340.6 1256.1,341.5 1257.0,342.0C1257.9,342.6 1259.0,343.8 1259.9,343.6C1261.1,343.3 1261.8,340.3 1263.0,339.0C1264.1,337.8 1265.4,336.2 1266.6,336.2C1267.8,336.2 1268.7,338.1 1270.0,339.0C1271.4,340.0 1273.4,341.8 1274.8,341.6C1276.1,341.4 1276.8,338.8 1278.0,338.0C1279.1,337.3 1280.3,337.1 1281.5,336.9C1282.7,336.7 1283.9,336.7 1285.0,337.0C1286.2,337.3 1287.3,339.1 1288.3,338.9C1289.6,338.6 1290.7,334.8 1292.0,334.0C1292.9,333.4 1294.1,333.2 1295.0,333.5C1296.1,333.9 1297.1,335.8 1298.0,337.0C1298.9,338.1 1299.5,340.3 1300.4,340.3C1301.5,340.3 1302.6,337.1 1304.0,336.0C1305.3,334.9 1307.3,333.3 1308.5,333.5C1309.5,333.6 1310.1,335.1 1311.0,336.0C1311.9,336.9 1312.8,338.8 1313.9,338.9C1315.1,339.0 1316.6,336.9 1318.0,336.2C1319.3,335.6 1320.8,334.8 1322.2,335.0C1323.8,335.2 1325.3,337.2 1327.0,338.0C1328.6,338.8 1330.3,340.0 1331.9,339.8C1333.7,339.5 1335.2,336.5 1337.0,336.0C1338.5,335.5 1340.1,335.8 1341.6,336.2C1343.4,336.7 1345.0,338.4 1347.0,339.0C1349.1,339.6 1351.8,340.4 1353.7,339.8C1355.4,339.3 1356.4,336.2 1358.0,336.0C1359.7,335.8 1361.7,338.1 1363.5,338.6C1365.0,339.0 1366.4,338.8 1368.0,339.0C1369.7,339.2 1371.6,339.6 1373.2,339.8C1374.6,339.9 1376.0,339.5 1377.0,340.0C1378.0,340.4 1378.7,342.4 1379.3,342.3C1380.1,342.1 1380.5,339.8 1381.0,338.0C1381.8,335.3 1382.2,332.1 1382.9,327.7C1384.0,320.1 1385.4,305.9 1386.5,296.1C1387.4,287.5 1387.9,278.0 1389.0,271.8C1389.7,267.8 1390.7,266.7 1391.4,262.1C1392.9,251.5 1393.0,223.2 1393.8,208.6C1394.4,198.5 1394.8,183.1 1395.5,183.1C1396.0,183.1 1396.5,190.9 1397.0,195.0C1397.6,199.4 1397.6,204.8 1398.7,208.6C1399.6,211.5 1401.4,212.7 1402.3,215.9C1403.8,221.2 1403.9,231.3 1404.8,237.8C1405.5,243.1 1406.2,252.2 1407.2,252.3C1407.9,252.4 1408.6,247.2 1409.6,245.1C1410.5,243.3 1411.8,240.0 1412.6,240.2C1414.4,240.6 1414.7,256.9 1415.7,266.9C1417.0,279.7 1418.4,310.7 1419.4,310.7C1420.1,310.7 1420.4,296.9 1421.0,290.0C1421.6,283.1 1420.8,270.8 1423.0,269.4C1423.9,268.8 1425.6,269.5 1426.6,270.6C1428.8,273.1 1428.7,284.2 1430.3,288.8C1431.3,291.9 1432.8,296.2 1433.9,296.1C1435.2,296.0 1436.5,290.1 1437.6,286.4C1439.0,281.8 1440.2,270.6 1441.2,270.6C1442.1,270.6 1442.8,279.8 1443.5,285.0C1444.4,291.3 1445.1,305.8 1446.1,305.8C1447.0,305.8 1447.9,295.0 1449.0,290.0C1450.0,285.3 1451.3,276.6 1452.2,276.6C1453.3,276.6 1454.0,288.9 1455.0,295.0C1456.0,301.1 1457.0,313.1 1458.2,313.1C1459.4,313.1 1460.5,299.9 1462.0,295.0C1463.1,291.5 1464.5,286.3 1465.5,286.4C1466.5,286.5 1467.1,292.0 1468.0,295.0C1469.1,298.4 1470.2,305.7 1471.6,305.8C1472.9,305.9 1474.4,298.6 1476.0,296.0C1477.3,294.0 1479.0,290.9 1480.1,291.2C1481.7,291.6 1482.0,300.3 1483.0,305.0C1484.0,310.0 1485.1,320.4 1486.2,320.4C1487.1,320.4 1487.9,311.8 1489.0,308.0C1490.0,304.6 1491.0,298.6 1492.3,298.5C1493.7,298.4 1495.4,308.1 1497.1,308.2C1498.6,308.3 1500.5,300.9 1502.0,300.9C1503.1,300.9 1504.0,303.5 1505.0,305.0C1506.1,306.7 1507.1,310.7 1508.1,310.7C1509.1,310.7 1510.0,306.1 1511.0,304.0C1512.0,302.0 1513.2,298.4 1514.1,298.5C1515.0,298.6 1515.7,302.7 1516.5,305.0C1517.4,307.5 1517.8,312.9 1519.0,313.1C1520.2,313.3 1522.3,305.8 1523.9,305.8C1525.5,305.8 1527.3,313.1 1528.7,313.1C1529.9,313.1 1530.8,309.6 1532.0,308.0C1533.2,306.4 1536.0,303.4 1536.0,303.4" fill="none" stroke="#555" stroke-width="2" stroke-linejoin="round" stroke-linecap="round"/>
<path d="M1071.5,309.0C1071.5,309.0 1074.8,309.1 1076.0,308.0C1078.1,306.1 1079.1,300.1 1080.0,296.0C1080.9,291.8 1080.8,282.9 1081.5,282.8C1082.0,282.8 1082.9,287.5 1083.5,290.0C1084.1,292.5 1084.5,294.2 1084.9,297.7C1085.7,304.7 1085.4,321.2 1086.2,329.5C1086.7,335.0 1087.7,343.0 1088.3,343.0C1088.9,343.0 1089.3,333.8 1090.0,330.0C1090.6,327.0 1091.2,324.8 1092.0,322.0C1092.9,318.8 1093.9,315.1 1095.0,312.0C1096.0,309.2 1097.1,304.0 1098.0,304.0C1098.8,304.0 1099.3,307.7 1100.0,310.0C1100.9,312.9 1101.7,317.5 1103.0,320.0C1103.9,321.7 1105.2,324.2 1106.0,324.0C1107.5,323.6 1107.7,312.0 1109.0,308.0C1109.9,305.4 1111.1,302.0 1112.0,302.0C1113.1,302.1 1114.0,307.2 1115.0,310.0C1116.1,313.1 1116.9,320.0 1118.0,320.0C1119.0,320.0 1119.8,314.5 1121.0,312.0C1122.2,309.5 1123.7,305.0 1125.0,305.0C1126.3,305.0 1127.8,309.7 1129.0,312.0C1130.1,314.1 1130.9,317.9 1132.0,318.0C1133.2,318.1 1134.5,313.4 1136.0,312.0C1137.2,310.9 1138.7,309.8 1140.0,310.0C1141.4,310.2 1142.6,313.8 1144.0,314.0C1145.3,314.2 1146.7,311.8 1148.0,312.0C1149.4,312.2 1150.6,315.0 1152.0,316.0C1153.3,316.9 1154.8,318.3 1156.0,318.0C1157.5,317.6 1158.5,313.4 1160.0,312.0C1161.2,310.9 1162.8,309.7 1164.0,310.0C1165.5,310.4 1166.5,314.6 1168.0,316.0C1169.2,317.1 1170.7,317.3 1172.0,318.0C1173.3,318.7 1174.7,320.0 1176.0,320.0C1177.3,320.0 1178.6,318.1 1180.0,318.0C1181.6,317.9 1183.3,319.3 1185.0,320.0C1186.7,320.7 1188.3,322.0 1190.0,322.0C1191.7,322.0 1193.3,320.1 1195.0,320.0C1196.7,319.9 1198.6,320.7 1200.4,321.4C1202.2,322.1 1204.1,324.1 1205.8,324.1C1207.3,324.1 1208.4,322.1 1210.0,322.0C1211.9,321.8 1214.7,323.2 1216.6,324.1C1218.2,324.9 1219.5,326.1 1220.7,326.8C1221.7,327.4 1222.3,327.5 1223.4,328.1C1225.2,329.1 1228.3,330.7 1230.2,332.2C1231.8,333.5 1232.6,335.8 1234.2,336.2C1235.8,336.6 1238.0,335.6 1239.6,334.9C1241.1,334.2 1242.4,332.6 1243.7,332.2C1244.6,331.9 1245.6,331.9 1246.4,332.2C1247.4,332.6 1247.9,334.2 1249.1,334.9C1250.5,335.7 1252.7,336.3 1254.5,336.2C1256.3,336.1 1258.1,334.5 1260.0,334.0C1261.9,333.5 1264.0,332.8 1266.0,333.0C1268.0,333.2 1270.0,335.0 1272.0,335.0C1274.0,335.0 1276.0,333.2 1278.0,333.0C1280.0,332.8 1282.0,334.2 1284.0,334.0C1286.0,333.8 1288.0,332.2 1290.0,332.0C1292.0,331.8 1294.0,333.2 1296.0,333.0C1298.0,332.8 1300.1,331.1 1302.0,331.0C1303.8,330.9 1305.5,332.1 1307.2,332.2C1308.8,332.3 1310.3,331.6 1312.0,331.5C1313.9,331.4 1316.2,331.8 1318.0,331.5C1319.5,331.2 1320.7,330.2 1322.2,330.1C1324.0,330.0 1326.0,331.0 1328.0,331.0C1330.1,331.0 1332.3,330.4 1334.3,330.1C1336.3,329.8 1338.0,329.4 1340.0,329.0C1342.1,328.6 1344.4,327.7 1346.5,327.7C1348.4,327.7 1350.1,328.6 1352.0,329.0C1354.1,329.4 1356.5,330.1 1358.6,330.1C1360.5,330.1 1362.1,329.4 1364.0,329.0C1366.1,328.6 1368.7,327.6 1370.8,327.7C1372.7,327.8 1374.2,328.6 1376.0,329.0C1377.9,329.4 1380.2,331.1 1381.7,330.1C1384.7,328.0 1384.0,314.6 1385.3,305.8C1386.8,295.4 1388.8,283.5 1390.2,271.8C1391.7,259.3 1393.0,244.4 1393.8,232.9C1394.4,223.9 1393.2,209.1 1395.0,208.6C1395.9,208.3 1397.9,211.5 1398.7,213.5C1399.7,216.1 1399.4,219.4 1399.9,223.2C1400.6,228.6 1400.0,239.3 1402.3,242.6C1403.5,244.3 1405.7,243.8 1407.2,245.1C1409.1,246.7 1410.8,249.1 1412.1,252.3C1414.1,257.1 1414.4,265.8 1415.7,271.8C1416.8,277.0 1417.9,286.3 1419.4,286.4C1420.8,286.5 1422.8,274.0 1424.2,274.2C1426.4,274.5 1426.9,307.9 1429.1,308.2C1430.5,308.4 1431.4,297.3 1433.9,296.1C1435.8,295.2 1439.1,297.4 1441.2,298.5C1443.1,299.4 1444.3,301.2 1446.0,302.0C1447.6,302.8 1449.3,303.1 1451.0,303.4C1452.7,303.7 1454.4,303.6 1456.0,304.0C1457.6,304.4 1459.2,305.3 1460.7,305.8C1462.2,306.3 1463.5,306.6 1465.0,307.0C1466.7,307.4 1468.7,308.4 1470.4,308.2C1472.0,308.0 1473.4,306.4 1475.0,306.0C1476.6,305.6 1478.4,306.1 1480.1,305.8C1482.0,305.5 1484.0,304.4 1486.0,304.0C1488.0,303.6 1490.3,303.2 1492.3,303.4C1494.3,303.6 1496.0,304.6 1498.0,305.0C1500.1,305.4 1502.3,305.5 1504.4,305.8C1506.3,306.1 1508.1,306.6 1510.0,307.0C1512.1,307.4 1514.5,308.4 1516.6,308.2C1518.5,308.0 1520.1,306.4 1522.0,306.0C1524.1,305.6 1526.9,305.3 1528.7,305.8C1530.1,306.2 1530.8,307.2 1532.0,308.0C1533.3,308.9 1536.0,310.7 1536.0,310.7" fill="none" stroke="#555" stroke-width="2" stroke-linejoin="round" stroke-linecap="round" stroke-dasharray="5.5 4"/>
<g stroke="#5a5a5a" stroke-width="1.6" fill="none">
<line x1="1071.2" y1="141" x2="1071.2" y2="398.9"/>
<line x1="1071.2" y1="398.9" x2="1537.5" y2="398.9"/>
<line x1="1067.4" y1="398.8" x2="1071.2" y2="398.8"/>
<line x1="1069.0" y1="377.4" x2="1071.2" y2="377.4"/>
<line x1="1067.4" y1="355.9" x2="1071.2" y2="355.9"/>
<line x1="1069.0" y1="334.4" x2="1071.2" y2="334.4"/>
<line x1="1067.4" y1="313.0" x2="1071.2" y2="313.0"/>
<line x1="1069.0" y1="291.6" x2="1071.2" y2="291.6"/>
<line x1="1067.4" y1="270.1" x2="1071.2" y2="270.1"/>
<line x1="1069.0" y1="248.7" x2="1071.2" y2="248.7"/>
<line x1="1067.4" y1="227.2" x2="1071.2" y2="227.2"/>
<line x1="1069.0" y1="205.8" x2="1071.2" y2="205.8"/>
<line x1="1067.4" y1="184.3" x2="1071.2" y2="184.3"/>
<line x1="1069.0" y1="162.8" x2="1071.2" y2="162.8"/>
<line x1="1067.4" y1="141.4" x2="1071.2" y2="141.4"/>
<line x1="1073.0" y1="398.9" x2="1073.0" y2="401.9"/>
<line x1="1100.3" y1="398.9" x2="1100.3" y2="403.9"/>
<line x1="1127.6" y1="398.9" x2="1127.6" y2="401.9"/>
<line x1="1154.9" y1="398.9" x2="1154.9" y2="403.9"/>
<line x1="1182.2" y1="398.9" x2="1182.2" y2="401.9"/>
<line x1="1209.6" y1="398.9" x2="1209.6" y2="403.9"/>
<line x1="1236.9" y1="398.9" x2="1236.9" y2="401.9"/>
<line x1="1264.2" y1="398.9" x2="1264.2" y2="403.9"/>
<line x1="1291.5" y1="398.9" x2="1291.5" y2="401.9"/>
<line x1="1318.8" y1="398.9" x2="1318.8" y2="403.9"/>
<line x1="1346.1" y1="398.9" x2="1346.1" y2="401.9"/>
<line x1="1373.4" y1="398.9" x2="1373.4" y2="403.9"/>
<line x1="1400.8" y1="398.9" x2="1400.8" y2="401.9"/>
<line x1="1428.1" y1="398.9" x2="1428.1" y2="403.9"/>
<line x1="1455.4" y1="398.9" x2="1455.4" y2="401.9"/>
<line x1="1482.7" y1="398.9" x2="1482.7" y2="403.9"/>
<line x1="1510.0" y1="398.9" x2="1510.0" y2="401.9"/>
<line x1="1537.3" y1="398.9" x2="1537.3" y2="403.9"/>
</g>
<g font-family="Liberation Sans, Arial, sans-serif" font-weight="bold" font-size="28.5" fill="#000">
<text transform="translate(1064.5,408.3) scale(0.82,1.18)" text-anchor="end">-4</text>
<text transform="translate(1064.5,365.4) scale(0.82,1.18)" text-anchor="end">-2</text>
<text transform="translate(1064.5,322.5) scale(0.82,1.18)" text-anchor="end">0</text>
<text transform="translate(1064.5,279.6) scale(0.82,1.18)" text-anchor="end">2</text>
<text transform="translate(1064.5,236.7) scale(0.82,1.18)" text-anchor="end">4</text>
<text transform="translate(1064.5,193.8) scale(0.82,1.18)" text-anchor="end">6</text>
<text transform="translate(1064.5,150.9) scale(0.82,1.18)" text-anchor="end">8</text>
<text transform="translate(1100.3,427) scale(0.79,1.18)" text-anchor="middle">0</text>
<text transform="translate(1154.9,427) scale(0.79,1.18)" text-anchor="middle">100</text>
<text transform="translate(1209.6,427) scale(0.79,1.18)" text-anchor="middle">200</text>
<text transform="translate(1264.2,427) scale(0.79,1.18)" text-anchor="middle">300</text>
<text transform="translate(1318.8,427) scale(0.79,1.18)" text-anchor="middle">400</text>
<text transform="translate(1373.4,427) scale(0.79,1.18)" text-anchor="middle">500</text>
<text transform="translate(1428.1,427) scale(0.79,1.18)" text-anchor="middle">600</text>
<text transform="translate(1482.7,427) scale(0.79,1.18)" text-anchor="middle">700</text>
<text transform="translate(1537.3,427) scale(0.79,1.18)" text-anchor="middle">800</text>
</g>
<text transform="translate(1305.3,452.1) scale(0.76,1)" font-family="Liberation Sans, Arial, sans-serif" font-weight="bold" font-size="29.5" text-anchor="middle">Time (ns)</text>
<text transform="translate(1037.3,261.5) rotate(-90) scale(0.9,1)" font-family="Liberation Sans, Arial, sans-serif" font-weight="bold" font-size="28" letter-spacing="1.75" text-anchor="middle">Current (m A)</text>
</svg>
</body></html>
